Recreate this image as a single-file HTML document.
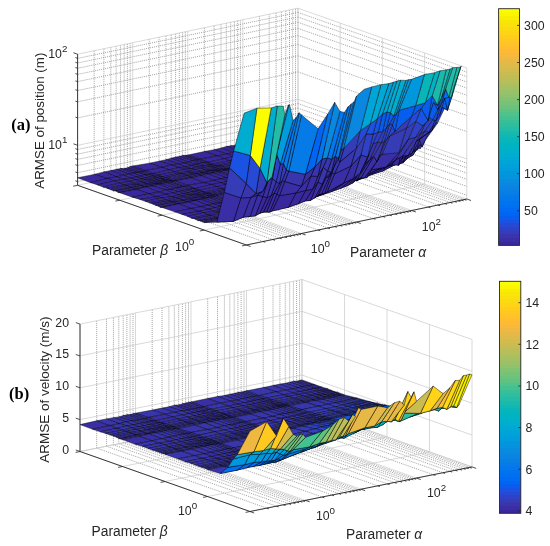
<!DOCTYPE html>
<html><head><meta charset="utf-8"><title>ARMSE surfaces</title>
<style>html,body{margin:0;padding:0;background:#fff;width:550px;height:546px;overflow:hidden}svg{display:block}</style>
</head><body>
<svg width="550" height="546" viewBox="0 0 550 546" font-family="'Liberation Sans', Arial, Helvetica, sans-serif"><rect width="550" height="546" fill="#fff"/><line x1="94.2" y1="181.8" x2="94.2" y2="50.7" stroke="#999999" stroke-width="0.9" stroke-dasharray="1 1"/><line x1="94.2" y1="181.8" x2="263" y2="241.5" stroke="#999999" stroke-width="0.9" stroke-dasharray="1 1"/><line x1="103.9" y1="179.8" x2="103.9" y2="48.7" stroke="#999999" stroke-width="0.9" stroke-dasharray="1 1"/><line x1="103.9" y1="179.8" x2="272.7" y2="239.5" stroke="#999999" stroke-width="0.9" stroke-dasharray="1 1"/><line x1="110.8" y1="178.4" x2="110.8" y2="47.3" stroke="#999999" stroke-width="0.9" stroke-dasharray="1 1"/><line x1="110.8" y1="178.4" x2="279.6" y2="238.1" stroke="#999999" stroke-width="0.9" stroke-dasharray="1 1"/><line x1="116.1" y1="177.3" x2="116.1" y2="46.2" stroke="#999999" stroke-width="0.9" stroke-dasharray="1 1"/><line x1="116.1" y1="177.3" x2="284.9" y2="237" stroke="#999999" stroke-width="0.9" stroke-dasharray="1 1"/><line x1="120.5" y1="176.4" x2="120.5" y2="45.3" stroke="#999999" stroke-width="0.9" stroke-dasharray="1 1"/><line x1="120.5" y1="176.4" x2="289.3" y2="236.1" stroke="#999999" stroke-width="0.9" stroke-dasharray="1 1"/><line x1="124.2" y1="175.6" x2="124.2" y2="44.5" stroke="#999999" stroke-width="0.9" stroke-dasharray="1 1"/><line x1="124.2" y1="175.6" x2="293" y2="235.3" stroke="#999999" stroke-width="0.9" stroke-dasharray="1 1"/><line x1="127.4" y1="174.9" x2="127.4" y2="43.8" stroke="#999999" stroke-width="0.9" stroke-dasharray="1 1"/><line x1="127.4" y1="174.9" x2="296.2" y2="234.6" stroke="#999999" stroke-width="0.9" stroke-dasharray="1 1"/><line x1="130.2" y1="174.3" x2="130.2" y2="43.2" stroke="#999999" stroke-width="0.9" stroke-dasharray="1 1"/><line x1="130.2" y1="174.3" x2="299" y2="234" stroke="#999999" stroke-width="0.9" stroke-dasharray="1 1"/><line x1="149.3" y1="170.3" x2="149.3" y2="39.2" stroke="#999999" stroke-width="0.9" stroke-dasharray="1 1"/><line x1="149.3" y1="170.3" x2="318.1" y2="230" stroke="#999999" stroke-width="0.9" stroke-dasharray="1 1"/><line x1="159" y1="168.3" x2="159" y2="37.2" stroke="#999999" stroke-width="0.9" stroke-dasharray="1 1"/><line x1="159" y1="168.3" x2="327.8" y2="228" stroke="#999999" stroke-width="0.9" stroke-dasharray="1 1"/><line x1="165.9" y1="166.9" x2="165.9" y2="35.8" stroke="#999999" stroke-width="0.9" stroke-dasharray="1 1"/><line x1="165.9" y1="166.9" x2="334.7" y2="226.6" stroke="#999999" stroke-width="0.9" stroke-dasharray="1 1"/><line x1="171.2" y1="165.8" x2="171.2" y2="34.7" stroke="#999999" stroke-width="0.9" stroke-dasharray="1 1"/><line x1="171.2" y1="165.8" x2="340" y2="225.5" stroke="#999999" stroke-width="0.9" stroke-dasharray="1 1"/><line x1="175.6" y1="164.9" x2="175.6" y2="33.8" stroke="#999999" stroke-width="0.9" stroke-dasharray="1 1"/><line x1="175.6" y1="164.9" x2="344.4" y2="224.6" stroke="#999999" stroke-width="0.9" stroke-dasharray="1 1"/><line x1="179.3" y1="164.1" x2="179.3" y2="33" stroke="#999999" stroke-width="0.9" stroke-dasharray="1 1"/><line x1="179.3" y1="164.1" x2="348.1" y2="223.8" stroke="#999999" stroke-width="0.9" stroke-dasharray="1 1"/><line x1="182.5" y1="163.4" x2="182.5" y2="32.3" stroke="#999999" stroke-width="0.9" stroke-dasharray="1 1"/><line x1="182.5" y1="163.4" x2="351.3" y2="223.1" stroke="#999999" stroke-width="0.9" stroke-dasharray="1 1"/><line x1="185.3" y1="162.8" x2="185.3" y2="31.7" stroke="#999999" stroke-width="0.9" stroke-dasharray="1 1"/><line x1="185.3" y1="162.8" x2="354.1" y2="222.5" stroke="#999999" stroke-width="0.9" stroke-dasharray="1 1"/><line x1="204.4" y1="158.8" x2="204.4" y2="27.7" stroke="#999999" stroke-width="0.9" stroke-dasharray="1 1"/><line x1="204.4" y1="158.8" x2="373.2" y2="218.5" stroke="#999999" stroke-width="0.9" stroke-dasharray="1 1"/><line x1="214.1" y1="156.8" x2="214.1" y2="25.7" stroke="#999999" stroke-width="0.9" stroke-dasharray="1 1"/><line x1="214.1" y1="156.8" x2="382.9" y2="216.5" stroke="#999999" stroke-width="0.9" stroke-dasharray="1 1"/><line x1="221" y1="155.4" x2="221" y2="24.3" stroke="#999999" stroke-width="0.9" stroke-dasharray="1 1"/><line x1="221" y1="155.4" x2="389.8" y2="215.1" stroke="#999999" stroke-width="0.9" stroke-dasharray="1 1"/><line x1="226.3" y1="154.3" x2="226.3" y2="23.2" stroke="#999999" stroke-width="0.9" stroke-dasharray="1 1"/><line x1="226.3" y1="154.3" x2="395.1" y2="214" stroke="#999999" stroke-width="0.9" stroke-dasharray="1 1"/><line x1="230.7" y1="153.4" x2="230.7" y2="22.3" stroke="#999999" stroke-width="0.9" stroke-dasharray="1 1"/><line x1="230.7" y1="153.4" x2="399.5" y2="213.1" stroke="#999999" stroke-width="0.9" stroke-dasharray="1 1"/><line x1="234.4" y1="152.6" x2="234.4" y2="21.5" stroke="#999999" stroke-width="0.9" stroke-dasharray="1 1"/><line x1="234.4" y1="152.6" x2="403.2" y2="212.3" stroke="#999999" stroke-width="0.9" stroke-dasharray="1 1"/><line x1="237.6" y1="151.9" x2="237.6" y2="20.8" stroke="#999999" stroke-width="0.9" stroke-dasharray="1 1"/><line x1="237.6" y1="151.9" x2="406.4" y2="211.6" stroke="#999999" stroke-width="0.9" stroke-dasharray="1 1"/><line x1="240.4" y1="151.3" x2="240.4" y2="20.2" stroke="#999999" stroke-width="0.9" stroke-dasharray="1 1"/><line x1="240.4" y1="151.3" x2="409.2" y2="211" stroke="#999999" stroke-width="0.9" stroke-dasharray="1 1"/><line x1="259.5" y1="147.3" x2="259.5" y2="16.2" stroke="#999999" stroke-width="0.9" stroke-dasharray="1 1"/><line x1="259.5" y1="147.3" x2="428.3" y2="207" stroke="#999999" stroke-width="0.9" stroke-dasharray="1 1"/><line x1="269.2" y1="145.3" x2="269.2" y2="14.2" stroke="#999999" stroke-width="0.9" stroke-dasharray="1 1"/><line x1="269.2" y1="145.3" x2="438" y2="205" stroke="#999999" stroke-width="0.9" stroke-dasharray="1 1"/><line x1="276.1" y1="143.9" x2="276.1" y2="12.8" stroke="#999999" stroke-width="0.9" stroke-dasharray="1 1"/><line x1="276.1" y1="143.9" x2="444.9" y2="203.6" stroke="#999999" stroke-width="0.9" stroke-dasharray="1 1"/><line x1="281.4" y1="142.8" x2="281.4" y2="11.7" stroke="#999999" stroke-width="0.9" stroke-dasharray="1 1"/><line x1="281.4" y1="142.8" x2="450.2" y2="202.5" stroke="#999999" stroke-width="0.9" stroke-dasharray="1 1"/><line x1="285.8" y1="141.9" x2="285.8" y2="10.8" stroke="#999999" stroke-width="0.9" stroke-dasharray="1 1"/><line x1="285.8" y1="141.9" x2="454.6" y2="201.6" stroke="#999999" stroke-width="0.9" stroke-dasharray="1 1"/><line x1="289.5" y1="141.1" x2="289.5" y2="10" stroke="#999999" stroke-width="0.9" stroke-dasharray="1 1"/><line x1="289.5" y1="141.1" x2="458.3" y2="200.8" stroke="#999999" stroke-width="0.9" stroke-dasharray="1 1"/><line x1="292.7" y1="140.4" x2="292.7" y2="9.3" stroke="#999999" stroke-width="0.9" stroke-dasharray="1 1"/><line x1="292.7" y1="140.4" x2="461.5" y2="200.1" stroke="#999999" stroke-width="0.9" stroke-dasharray="1 1"/><line x1="295.5" y1="139.8" x2="295.5" y2="8.7" stroke="#999999" stroke-width="0.9" stroke-dasharray="1 1"/><line x1="295.5" y1="139.8" x2="464.3" y2="199.5" stroke="#999999" stroke-width="0.9" stroke-dasharray="1 1"/><line x1="77.6" y1="181.6" x2="298" y2="135.6" stroke="#999999" stroke-width="0.9" stroke-dasharray="1 1"/><line x1="298" y1="135.6" x2="466.8" y2="195.3" stroke="#999999" stroke-width="0.9" stroke-dasharray="1 1"/><line x1="77.6" y1="172.7" x2="298" y2="126.7" stroke="#999999" stroke-width="0.9" stroke-dasharray="1 1"/><line x1="298" y1="126.7" x2="466.8" y2="186.4" stroke="#999999" stroke-width="0.9" stroke-dasharray="1 1"/><line x1="77.6" y1="165.5" x2="298" y2="119.5" stroke="#999999" stroke-width="0.9" stroke-dasharray="1 1"/><line x1="298" y1="119.5" x2="466.8" y2="179.2" stroke="#999999" stroke-width="0.9" stroke-dasharray="1 1"/><line x1="77.6" y1="159.4" x2="298" y2="113.4" stroke="#999999" stroke-width="0.9" stroke-dasharray="1 1"/><line x1="298" y1="113.4" x2="466.8" y2="173.1" stroke="#999999" stroke-width="0.9" stroke-dasharray="1 1"/><line x1="77.6" y1="154.1" x2="298" y2="108.1" stroke="#999999" stroke-width="0.9" stroke-dasharray="1 1"/><line x1="298" y1="108.1" x2="466.8" y2="167.8" stroke="#999999" stroke-width="0.9" stroke-dasharray="1 1"/><line x1="77.6" y1="149.5" x2="298" y2="103.5" stroke="#999999" stroke-width="0.9" stroke-dasharray="1 1"/><line x1="298" y1="103.5" x2="466.8" y2="163.2" stroke="#999999" stroke-width="0.9" stroke-dasharray="1 1"/><line x1="77.6" y1="117.9" x2="298" y2="71.9" stroke="#999999" stroke-width="0.9" stroke-dasharray="1 1"/><line x1="298" y1="71.9" x2="466.8" y2="131.6" stroke="#999999" stroke-width="0.9" stroke-dasharray="1 1"/><line x1="77.6" y1="101.8" x2="298" y2="55.8" stroke="#999999" stroke-width="0.9" stroke-dasharray="1 1"/><line x1="298" y1="55.8" x2="466.8" y2="115.5" stroke="#999999" stroke-width="0.9" stroke-dasharray="1 1"/><line x1="77.6" y1="90.5" x2="298" y2="44.5" stroke="#999999" stroke-width="0.9" stroke-dasharray="1 1"/><line x1="298" y1="44.5" x2="466.8" y2="104.2" stroke="#999999" stroke-width="0.9" stroke-dasharray="1 1"/><line x1="77.6" y1="81.6" x2="298" y2="35.6" stroke="#999999" stroke-width="0.9" stroke-dasharray="1 1"/><line x1="298" y1="35.6" x2="466.8" y2="95.3" stroke="#999999" stroke-width="0.9" stroke-dasharray="1 1"/><line x1="77.6" y1="74.4" x2="298" y2="28.4" stroke="#999999" stroke-width="0.9" stroke-dasharray="1 1"/><line x1="298" y1="28.4" x2="466.8" y2="88.1" stroke="#999999" stroke-width="0.9" stroke-dasharray="1 1"/><line x1="77.6" y1="68.3" x2="298" y2="22.3" stroke="#999999" stroke-width="0.9" stroke-dasharray="1 1"/><line x1="298" y1="22.3" x2="466.8" y2="82" stroke="#999999" stroke-width="0.9" stroke-dasharray="1 1"/><line x1="77.6" y1="63" x2="298" y2="17" stroke="#999999" stroke-width="0.9" stroke-dasharray="1 1"/><line x1="298" y1="17" x2="466.8" y2="76.7" stroke="#999999" stroke-width="0.9" stroke-dasharray="1 1"/><line x1="77.6" y1="58.4" x2="298" y2="12.4" stroke="#999999" stroke-width="0.9" stroke-dasharray="1 1"/><line x1="298" y1="12.4" x2="466.8" y2="72.1" stroke="#999999" stroke-width="0.9" stroke-dasharray="1 1"/><line x1="77.6" y1="185.3" x2="77.6" y2="54.2" stroke="#c8c8c8" stroke-width="0.7"/><line x1="77.6" y1="185.3" x2="246.4" y2="245" stroke="#c8c8c8" stroke-width="0.7"/><line x1="132.7" y1="173.8" x2="132.7" y2="42.7" stroke="#c8c8c8" stroke-width="0.7"/><line x1="132.7" y1="173.8" x2="301.5" y2="233.5" stroke="#c8c8c8" stroke-width="0.7"/><line x1="187.8" y1="162.3" x2="187.8" y2="31.2" stroke="#c8c8c8" stroke-width="0.7"/><line x1="187.8" y1="162.3" x2="356.6" y2="222" stroke="#c8c8c8" stroke-width="0.7"/><line x1="242.9" y1="150.8" x2="242.9" y2="19.7" stroke="#c8c8c8" stroke-width="0.7"/><line x1="242.9" y1="150.8" x2="411.7" y2="210.5" stroke="#c8c8c8" stroke-width="0.7"/><line x1="298" y1="139.3" x2="298" y2="8.2" stroke="#c8c8c8" stroke-width="0.7"/><line x1="298" y1="139.3" x2="466.8" y2="199" stroke="#c8c8c8" stroke-width="0.7"/><line x1="298" y1="139.3" x2="298" y2="8.2" stroke="#c8c8c8" stroke-width="0.7"/><line x1="77.6" y1="185.3" x2="298" y2="139.3" stroke="#c8c8c8" stroke-width="0.7"/><line x1="340.2" y1="154.2" x2="340.2" y2="23.1" stroke="#c8c8c8" stroke-width="0.7"/><line x1="119.8" y1="200.2" x2="340.2" y2="154.2" stroke="#c8c8c8" stroke-width="0.7"/><line x1="382.4" y1="169.2" x2="382.4" y2="38.1" stroke="#c8c8c8" stroke-width="0.7"/><line x1="162" y1="215.2" x2="382.4" y2="169.2" stroke="#c8c8c8" stroke-width="0.7"/><line x1="424.6" y1="184.1" x2="424.6" y2="53" stroke="#c8c8c8" stroke-width="0.7"/><line x1="204.2" y1="230.1" x2="424.6" y2="184.1" stroke="#c8c8c8" stroke-width="0.7"/><line x1="466.8" y1="199" x2="466.8" y2="67.9" stroke="#c8c8c8" stroke-width="0.7"/><line x1="246.4" y1="245" x2="466.8" y2="199" stroke="#c8c8c8" stroke-width="0.7"/><line x1="77.6" y1="145.3" x2="298" y2="99.3" stroke="#c8c8c8" stroke-width="0.7"/><line x1="298" y1="99.3" x2="466.8" y2="159" stroke="#c8c8c8" stroke-width="0.7"/><line x1="77.6" y1="54.2" x2="298" y2="8.2" stroke="#c8c8c8" stroke-width="0.7"/><line x1="298" y1="8.2" x2="466.8" y2="67.9" stroke="#c8c8c8" stroke-width="0.7"/><g stroke="#000" stroke-width="0.45" stroke-linejoin="round"><path d="M295.5 132.5L298 131.9L310.7 136.1L308.2 137.1Z" fill="#39289d"/><path d="M292.7 132.4L295.5 132.5L308.2 137.1L305.4 137.2Z" fill="#39289d"/><path d="M289.5 133.1L292.7 132.4L305.4 137.2L302.2 138Z" fill="#39289d"/><path d="M285.8 134.1L289.5 133.1L302.2 138L298.5 138.4Z" fill="#39289d"/><path d="M281.4 135.1L285.8 134.1L298.5 138.4L294.1 140.1Z" fill="#39289d"/><path d="M308.2 137.1L310.7 136.1L318.1 139L315.6 139.6Z" fill="#39289d"/><path d="M276.1 136.2L281.4 135.1L294.1 140.1L288.8 140.8Z" fill="#39289d"/><path d="M305.4 137.2L308.2 137.1L315.6 139.6L312.8 140Z" fill="#39289d"/><path d="M302.2 138L305.4 137.2L312.8 140L309.6 140.8Z" fill="#39289d"/><path d="M269.2 137.5L276.1 136.2L288.8 140.8L281.9 142.2Z" fill="#39289d"/><path d="M298.5 138.4L302.2 138L309.6 140.8L305.9 141.1Z" fill="#39289d"/><path d="M315.6 139.6L318.1 139L323.4 140.8L320.9 141.4Z" fill="#39289d"/><path d="M294.1 140.1L298.5 138.4L305.9 141.1L301.5 142Z" fill="#39289d"/><path d="M312.8 140L315.6 139.6L320.9 141.4L318.1 141.8Z" fill="#39289d"/><path d="M259.5 139.6L269.2 137.5L281.9 142.2L272.2 143.9Z" fill="#39289d"/><path d="M309.6 140.8L312.8 140L318.1 141.8L314.9 142.2Z" fill="#39289d"/><path d="M288.8 140.8L294.1 140.1L301.5 142L296.2 143.7Z" fill="#39289d"/><path d="M320.9 141.4L323.4 140.8L327.5 142.2L325 142.7Z" fill="#39289d"/><path d="M305.9 141.1L309.6 140.8L314.9 142.2L311.2 143.8Z" fill="#39289d"/><path d="M318.1 141.8L320.9 141.4L325 142.7L322.2 143.1Z" fill="#39289d"/><path d="M281.9 142.2L288.8 140.8L296.2 143.7L289.3 145Z" fill="#39289d"/><path d="M301.5 142L305.9 141.1L311.2 143.8L306.8 144Z" fill="#39289d"/><path d="M314.9 142.2L318.1 141.8L322.2 143.1L319 144.1Z" fill="#39289d"/><path d="M325 142.7L327.5 142.2L330.8 143.8L328.3 144.3Z" fill="#39289d"/><path d="M322.2 143.1L325 142.7L328.3 144.3L325.5 144.5Z" fill="#39289d"/><path d="M311.2 143.8L314.9 142.2L319 144.1L315.3 144.7Z" fill="#39289d"/><path d="M242.9 143L259.5 139.6L272.2 143.9L255.6 147.7Z" fill="#39289d"/><path d="M296.2 143.7L301.5 142L306.8 144L301.5 145.1Z" fill="#39289d"/><path d="M328.3 144.3L330.8 143.8L333.7 144.1L331.1 145Z" fill="#39289d"/><path d="M319 144.1L322.2 143.1L325.5 144.5L322.3 145.5Z" fill="#39289d"/><path d="M306.8 144L311.2 143.8L315.3 144.7L310.9 145.8Z" fill="#39289d"/><path d="M272.2 143.9L281.9 142.2L289.3 145L279.6 147.1Z" fill="#39289d"/><path d="M325.5 144.5L328.3 144.3L331.1 145L328.3 145.5Z" fill="#39289d"/><path d="M315.3 144.7L319 144.1L322.3 145.5L318.6 146.3Z" fill="#39289d"/><path d="M331.1 145L333.7 144.1L336.1 144.9L333.6 146.2Z" fill="#39289d"/><path d="M289.3 145L296.2 143.7L301.5 145.1L294.6 146.6Z" fill="#39289d"/><path d="M322.3 145.5L325.5 144.5L328.3 145.5L325.1 146Z" fill="#39289d"/><path d="M301.5 145.1L306.8 144L310.9 145.8L305.6 146.8Z" fill="#39289d"/><path d="M328.3 145.5L331.1 145L333.6 146.2L330.8 146.7Z" fill="#39289d"/><path d="M240.4 144.3L242.9 143L255.6 147.7L253.1 148.4Z" fill="#39289d"/><path d="M310.9 145.8L315.3 144.7L318.6 146.3L314.3 147.1Z" fill="#39289d"/><path d="M333.6 146.2L336.1 144.9L338.3 145.7L335.7 146.1Z" fill="#39289d"/><path d="M318.6 146.3L322.3 145.5L325.1 146L321.4 146.6Z" fill="#39289d"/><path d="M237.6 144.4L240.4 144.3L253.1 148.4L250.3 148.6Z" fill="#39289d"/><path d="M325.1 146L328.3 145.5L330.8 146.7L327.6 146.6Z" fill="#39289d"/><path d="M330.8 146.7L333.6 146.2L335.7 146.1L332.9 147Z" fill="#39289d"/><path d="M335.7 146.1L338.3 145.7L340.2 146.5L337.7 147Z" fill="#39289d"/><path d="M305.6 146.8L310.9 145.8L314.3 147.1L308.9 148.2Z" fill="#39289d"/><path d="M279.6 147.1L289.3 145L294.6 146.6L284.9 149.1Z" fill="#39289d"/><path d="M294.6 146.6L301.5 145.1L305.6 146.8L298.7 147.9Z" fill="#39289d"/><path d="M314.3 147.1L318.6 146.3L321.4 146.6L317.1 147.8Z" fill="#39289d"/><path d="M234.4 145.4L237.6 144.4L250.3 148.6L247.1 149.5Z" fill="#39289d"/><path d="M321.4 146.6L325.1 146L327.6 146.6L323.9 148.1Z" fill="#39289d"/><path d="M327.6 146.6L330.8 146.7L332.9 147L329.7 147.9Z" fill="#39289d"/><path d="M332.9 147L335.7 146.1L337.7 147L334.9 148Z" fill="#39289d"/><path d="M255.6 147.7L272.2 143.9L279.6 147.1L263 150.3Z" fill="#39289d"/><path d="M230.7 145.8L234.4 145.4L247.1 149.5L243.4 150.2Z" fill="#39289d"/><path d="M329.7 147.9L332.9 147L334.9 148L331.7 148.7Z" fill="#39289d"/><path d="M323.9 148.1L327.6 146.6L329.7 147.9L326 148.5Z" fill="#39289d"/><path d="M308.9 148.2L314.3 147.1L317.1 147.8L311.7 149Z" fill="#39289d"/><path d="M317.1 147.8L321.4 146.6L323.9 148.1L319.5 148.3Z" fill="#39289d"/><path d="M298.7 147.9L305.6 146.8L308.9 148.2L302 149.7Z" fill="#39289d"/><path d="M226.3 146.5L230.7 145.8L243.4 150.2L239 151.2Z" fill="#39289d"/><path d="M326 148.5L329.7 147.9L331.7 148.7L328 149.5Z" fill="#39289d"/><path d="M284.9 149.1L294.6 146.6L298.7 147.9L289 150.1Z" fill="#39289d"/><path d="M319.5 148.3L323.9 148.1L326 148.5L321.7 149.2Z" fill="#39289d"/><path d="M311.7 149L317.1 147.8L319.5 148.3L314.2 149.5Z" fill="#39289d"/><path d="M302 149.7L308.9 148.2L311.7 149L304.9 150.5Z" fill="#39289d"/><path d="M253.1 148.4L255.6 147.7L263 150.3L260.5 151.1Z" fill="#39289d"/><path d="M337.7 147L340.2 146.5L352.9 150.9L350.4 151Z" fill="#39289d"/><path d="M321.7 149.2L326 148.5L328 149.5L323.6 149.8Z" fill="#39289d"/><path d="M221 148.1L226.3 146.5L239 151.2L233.7 152.1Z" fill="#39289d"/><path d="M263 150.3L279.6 147.1L284.9 149.1L268.3 152.6Z" fill="#39289d"/><path d="M314.2 149.5L319.5 148.3L321.7 149.2L316.3 150.7Z" fill="#39289d"/><path d="M289 150.1L298.7 147.9L302 149.7L292.3 151.7Z" fill="#39289d"/><path d="M250.3 148.6L253.1 148.4L260.5 151.1L257.7 151.5Z" fill="#39289d"/><path d="M334.9 148L337.7 147L350.4 151L347.6 151.7Z" fill="#39289d"/><path d="M304.9 150.5L311.7 149L314.2 149.5L307.3 151.5Z" fill="#39289d"/><path d="M316.3 150.7L321.7 149.2L323.6 149.8L318.3 151.2Z" fill="#39289d"/><path d="M331.7 148.7L334.9 148L347.6 151.7L344.4 152.7Z" fill="#39289d"/><path d="M247.1 149.5L250.3 148.6L257.7 151.5L254.5 152.4Z" fill="#39289d"/><path d="M214.1 149.7L221 148.1L233.7 152.1L226.8 154Z" fill="#39289d"/><path d="M292.3 151.7L302 149.7L304.9 150.5L295.1 152.4Z" fill="#39289d"/><path d="M307.3 151.5L314.2 149.5L316.3 150.7L309.5 151.9Z" fill="#39289d"/><path d="M268.3 152.6L284.9 149.1L289 150.1L272.4 154.1Z" fill="#39289d"/><path d="M243.4 150.2L247.1 149.5L254.5 152.4L250.8 153.1Z" fill="#39289d"/><path d="M328 149.5L331.7 148.7L344.4 152.7L340.7 152.8Z" fill="#39289d"/><path d="M260.5 151.1L263 150.3L268.3 152.6L265.8 152.9Z" fill="#39289d"/><path d="M309.5 151.9L316.3 150.7L318.3 151.2L311.4 153Z" fill="#39289d"/><path d="M295.1 152.4L304.9 150.5L307.3 151.5L297.6 153.3Z" fill="#39289d"/><path d="M239 151.2L243.4 150.2L250.8 153.1L246.4 153.8Z" fill="#39289d"/><path d="M323.6 149.8L328 149.5L340.7 152.8L336.3 154.4Z" fill="#39289d"/><path d="M257.7 151.5L260.5 151.1L265.8 152.9L263 153.1Z" fill="#39289d"/><path d="M204.4 151.5L214.1 149.7L226.8 154L217.1 155.8Z" fill="#39289d"/><path d="M272.4 154.1L289 150.1L292.3 151.7L275.7 155.2Z" fill="#39289d"/><path d="M297.6 153.3L307.3 151.5L309.5 151.9L299.8 153.8Z" fill="#39289d"/><path d="M254.5 152.4L257.7 151.5L263 153.1L259.8 154.4Z" fill="#39289d"/><path d="M318.3 151.2L323.6 149.8L336.3 154.4L331 155.6Z" fill="#39289d"/><path d="M233.7 152.1L239 151.2L246.4 153.8L241.1 154.6Z" fill="#39289d"/><path d="M350.4 151L352.9 150.9L360.3 152.4L357.8 153Z" fill="#39289d"/><path d="M265.8 152.9L268.3 152.6L272.4 154.1L269.9 153.8Z" fill="#39289d"/><path d="M250.8 153.1L254.5 152.4L259.8 154.4L256.1 154.8Z" fill="#39289d"/><path d="M299.8 153.8L309.5 151.9L311.4 153L301.7 154.7Z" fill="#39289d"/><path d="M275.7 155.2L292.3 151.7L295.1 152.4L278.6 155.4Z" fill="#39289d"/><path d="M347.6 151.7L350.4 151L357.8 153L355 154Z" fill="#39289d"/><path d="M263 153.1L265.8 152.9L269.9 153.8L267.1 154.6Z" fill="#39289d"/><path d="M344.4 152.7L347.6 151.7L355 154L351.8 154.5Z" fill="#39289d"/><path d="M311.4 153L318.3 151.2L331 155.6L324.1 157.2Z" fill="#39289d"/><path d="M246.4 153.8L250.8 153.1L256.1 154.8L251.7 156Z" fill="#39289d"/><path d="M226.8 154L233.7 152.1L241.1 154.6L234.2 156.2Z" fill="#39289d"/><path d="M259.8 154.4L263 153.1L267.1 154.6L263.9 155.7Z" fill="#39289d"/><path d="M269.9 153.8L272.4 154.1L275.7 155.2L273.2 155.6Z" fill="#39289d"/><path d="M278.6 155.4L295.1 152.4L297.6 153.3L281 157.1Z" fill="#39289d"/><path d="M340.7 152.8L344.4 152.7L351.8 154.5L348.1 155.3Z" fill="#39289d"/><path d="M256.1 154.8L259.8 154.4L263.9 155.7L260.2 156.3Z" fill="#39289d"/><path d="M267.1 154.6L269.9 153.8L273.2 155.6L270.4 155.6Z" fill="#39289d"/><path d="M187.8 155.1L204.4 151.5L217.1 155.8L200.5 159.1Z" fill="#39289d"/><path d="M241.1 154.6L246.4 153.8L251.7 156L246.4 157Z" fill="#39289d"/><path d="M281 157.1L297.6 153.3L299.8 153.8L283.2 157.2Z" fill="#39289d"/><path d="M357.8 153L360.3 152.4L365.6 154.6L363.1 154.7Z" fill="#39289d"/><path d="M273.2 155.6L275.7 155.2L278.6 155.4L276 156.5Z" fill="#39289d"/><path d="M336.3 154.4L340.7 152.8L348.1 155.3L343.7 157.2Z" fill="#39289d"/><path d="M263.9 155.7L267.1 154.6L270.4 155.6L267.2 156.8Z" fill="#39289d"/><path d="M251.7 156L256.1 154.8L260.2 156.3L255.8 157Z" fill="#39289d"/><path d="M301.7 154.7L311.4 153L324.1 157.2L314.4 158.7Z" fill="#39289d"/><path d="M355 154L357.8 153L363.1 154.7L360.3 155.8Z" fill="#39289d"/><path d="M217.1 155.8L226.8 154L234.2 156.2L224.5 158.6Z" fill="#39289d"/><path d="M270.4 155.6L273.2 155.6L276 156.5L273.2 157.1Z" fill="#39289d"/><path d="M283.2 157.2L299.8 153.8L301.7 154.7L285.1 157.8Z" fill="#39289d"/><path d="M260.2 156.3L263.9 155.7L267.2 156.8L263.5 157.7Z" fill="#39289d"/><path d="M234.2 156.2L241.1 154.6L246.4 157L239.5 158.6Z" fill="#39289d"/><path d="M276 156.5L278.6 155.4L281 157.1L278.5 157.1Z" fill="#39289d"/><path d="M331 155.6L336.3 154.4L343.7 157.2L338.4 158.2Z" fill="#39289d"/><path d="M351.8 154.5L355 154L360.3 155.8L357.1 155.7Z" fill="#39289d"/><path d="M267.2 156.8L270.4 155.6L273.2 157.1L270 157.2Z" fill="#39289d"/><path d="M246.4 157L251.7 156L255.8 157L250.5 158.6Z" fill="#39289d"/><path d="M273.2 157.1L276 156.5L278.5 157.1L275.7 158.4Z" fill="#39289d"/><path d="M185.3 155.5L187.8 155.1L200.5 159.1L198 159.6Z" fill="#39289d"/><path d="M363.1 154.7L365.6 154.6L369.7 155.3L367.2 156Z" fill="#39289d"/><path d="M255.8 157L260.2 156.3L263.5 157.7L259.2 158.5Z" fill="#39289d"/><path d="M348.1 155.3L351.8 154.5L357.1 155.7L353.4 157.1Z" fill="#39289d"/><path d="M278.5 157.1L281 157.1L283.2 157.2L280.6 157.8Z" fill="#39289d"/><path d="M263.5 157.7L267.2 156.8L270 157.2L266.3 158.3Z" fill="#39289d"/><path d="M270 157.2L273.2 157.1L275.7 158.4L272.5 158.8Z" fill="#39289d"/><path d="M360.3 155.8L363.1 154.7L367.2 156L364.4 156.8Z" fill="#39289d"/><path d="M182.5 155.4L185.3 155.5L198 159.6L195.2 160.3Z" fill="#39289d"/><path d="M324.1 157.2L331 155.6L338.4 158.2L331.5 159.6Z" fill="#39289d"/><path d="M275.7 158.4L278.5 157.1L280.6 157.8L277.8 158.7Z" fill="#39289d"/><path d="M343.7 157.2L348.1 155.3L353.4 157.1L349 158.3Z" fill="#39289d"/><path d="M239.5 158.6L246.4 157L250.5 158.6L243.6 160Z" fill="#39289d"/><path d="M280.6 157.8L283.2 157.2L285.1 157.8L282.6 158.8Z" fill="#39289d"/><path d="M250.5 158.6L255.8 157L259.2 158.5L253.8 159.7Z" fill="#39289d"/><path d="M224.5 158.6L234.2 156.2L239.5 158.6L229.8 160.6Z" fill="#39289d"/><path d="M259.2 158.5L263.5 157.7L266.3 158.3L262 159.1Z" fill="#39289d"/><path d="M357.1 155.7L360.3 155.8L364.4 156.8L361.2 157.7Z" fill="#39289d"/><path d="M179.3 156.5L182.5 155.4L195.2 160.3L192 160.6Z" fill="#39289d"/><path d="M272.5 158.8L275.7 158.4L277.8 158.7L274.6 159.3Z" fill="#39289d"/><path d="M266.3 158.3L270 157.2L272.5 158.8L268.8 159.2Z" fill="#39289d"/><path d="M367.2 156L369.7 155.3L373 156.9L370.5 156.6Z" fill="#39289d"/><path d="M277.8 158.7L280.6 157.8L282.6 158.8L279.8 159.1Z" fill="#39289d"/><path d="M200.5 159.1L217.1 155.8L224.5 158.6L207.9 162.3Z" fill="#39289d"/><path d="M285.1 157.8L301.7 154.7L314.4 158.7L297.8 162.7Z" fill="#39289d"/><path d="M338.4 158.2L343.7 157.2L349 158.3L343.7 159.9Z" fill="#39289d"/><path d="M353.4 157.1L357.1 155.7L361.2 157.7L357.5 158.2Z" fill="#39289d"/><path d="M175.6 157.1L179.3 156.5L192 160.6L188.3 162.2Z" fill="#39289d"/><path d="M364.4 156.8L367.2 156L370.5 156.6L367.7 158.1Z" fill="#39289d"/><path d="M268.8 159.2L272.5 158.8L274.6 159.3L270.9 160Z" fill="#39289d"/><path d="M274.6 159.3L277.8 158.7L279.8 159.1L276.6 160.3Z" fill="#39289d"/><path d="M262 159.1L266.3 158.3L268.8 159.2L264.4 160.3Z" fill="#39289d"/><path d="M253.8 159.7L259.2 158.5L262 159.1L256.6 160.8Z" fill="#39289d"/><path d="M243.6 160L250.5 158.6L253.8 159.7L246.9 160.7Z" fill="#39289d"/><path d="M314.4 158.7L324.1 157.2L331.5 159.6L321.8 161.9Z" fill="#39289d"/><path d="M361.2 157.7L364.4 156.8L367.7 158.1L364.5 158.6Z" fill="#39289d"/><path d="M370.5 156.6L373 156.9L375.9 158L373.3 158Z" fill="#39289d"/><path d="M349 158.3L353.4 157.1L357.5 158.2L353.1 159.6Z" fill="#39289d"/><path d="M229.8 160.6L239.5 158.6L243.6 160L233.9 161.9Z" fill="#39289d"/><path d="M171.2 158.2L175.6 157.1L188.3 162.2L183.9 163Z" fill="#39289d"/><path d="M270.9 160L274.6 159.3L276.6 160.3L272.9 160.8Z" fill="#39289d"/><path d="M264.4 160.3L268.8 159.2L270.9 160L266.6 161.1Z" fill="#39289d"/><path d="M331.5 159.6L338.4 158.2L343.7 159.9L336.8 161.5Z" fill="#39289d"/><path d="M256.6 160.8L262 159.1L264.4 160.3L259.1 161.4Z" fill="#39289d"/><path d="M367.7 158.1L370.5 156.6L373.3 158L370.5 158.4Z" fill="#39289d"/><path d="M357.5 158.2L361.2 157.7L364.5 158.6L360.8 160.3Z" fill="#39289d"/><path d="M246.9 160.7L253.8 159.7L256.6 160.8L249.8 161.8Z" fill="#39289d"/><path d="M373.3 158L375.9 158L378.3 158.2L375.8 158.9Z" fill="#39289d"/><path d="M343.7 159.9L349 158.3L353.1 159.6L347.8 160.8Z" fill="#39289d"/><path d="M282.6 158.8L285.1 157.8L297.8 162.7L295.3 162.7Z" fill="#39289d"/><path d="M198 159.6L200.5 159.1L207.9 162.3L205.4 162.3Z" fill="#39289d"/><path d="M266.6 161.1L270.9 160L272.9 160.8L268.5 161.9Z" fill="#39289d"/><path d="M364.5 158.6L367.7 158.1L370.5 158.4L367.3 159.8Z" fill="#39289d"/><path d="M165.9 159.7L171.2 158.2L183.9 163L178.6 164.1Z" fill="#39289d"/><path d="M207.9 162.3L224.5 158.6L229.8 160.6L213.2 164.1Z" fill="#39289d"/><path d="M259.1 161.4L264.4 160.3L266.6 161.1L261.2 162.4Z" fill="#39289d"/><path d="M353.1 159.6L357.5 158.2L360.8 160.3L356.5 160.4Z" fill="#39289d"/><path d="M233.9 161.9L243.6 160L246.9 160.7L237.2 162.8Z" fill="#39289d"/><path d="M370.5 158.4L373.3 158L375.8 158.9L373 159.1Z" fill="#39289d"/><path d="M279.8 159.1L282.6 158.8L295.3 162.7L292.5 163.9Z" fill="#39289d"/><path d="M195.2 160.3L198 159.6L205.4 162.3L202.6 162.6Z" fill="#39289d"/><path d="M360.8 160.3L364.5 158.6L367.3 159.8L363.6 160.4Z" fill="#39289d"/><path d="M375.8 158.9L378.3 158.2L380.5 159.3L377.9 159.8Z" fill="#39289d"/><path d="M249.8 161.8L256.6 160.8L259.1 161.4L252.2 162.9Z" fill="#39289d"/><path d="M261.2 162.4L266.6 161.1L268.5 161.9L263.2 163.4Z" fill="#39289d"/><path d="M367.3 159.8L370.5 158.4L373 159.1L369.8 160.3Z" fill="#39289d"/><path d="M276.6 160.3L279.8 159.1L292.5 163.9L289.3 164.5Z" fill="#39289d"/><path d="M321.8 161.9L331.5 159.6L336.8 161.5L327.1 162.9Z" fill="#39289d"/><path d="M336.8 161.5L343.7 159.9L347.8 160.8L340.9 162.3Z" fill="#39289d"/><path d="M192 160.6L195.2 160.3L202.6 162.6L199.4 163.7Z" fill="#39289d"/><path d="M373 159.1L375.8 158.9L377.9 159.8L375.1 159.9Z" fill="#39289d"/><path d="M347.8 160.8L353.1 159.6L356.5 160.4L351.1 162.4Z" fill="#39289d"/><path d="M159 161.2L165.9 159.7L178.6 164.1L171.7 165Z" fill="#39289d"/><path d="M377.9 159.8L380.5 159.3L382.4 159.5L379.9 160.1Z" fill="#39289d"/><path d="M356.5 160.4L360.8 160.3L363.6 160.4L359.3 161.5Z" fill="#39289d"/><path d="M297.8 162.7L314.4 158.7L321.8 161.9L305.2 165.5Z" fill="#39289d"/><path d="M237.2 162.8L246.9 160.7L249.8 161.8L240 164.3Z" fill="#39289d"/><path d="M252.2 162.9L259.1 161.4L261.2 162.4L254.4 163.2Z" fill="#39289d"/><path d="M363.6 160.4L367.3 159.8L369.8 160.3L366.1 160.7Z" fill="#39289d"/><path d="M213.2 164.1L229.8 160.6L233.9 161.9L217.3 165.5Z" fill="#39289d"/><path d="M272.9 160.8L276.6 160.3L289.3 164.5L285.6 164.8Z" fill="#39289d"/><path d="M369.8 160.3L373 159.1L375.1 159.9L371.9 161.3Z" fill="#39289d"/><path d="M188.3 162.2L192 160.6L199.4 163.7L195.7 164.3Z" fill="#39289d"/><path d="M375.1 159.9L377.9 159.8L379.9 160.1L377.1 160.3Z" fill="#39289d"/><path d="M205.4 162.3L207.9 162.3L213.2 164.1L210.7 164.7Z" fill="#39289d"/><path d="M254.4 163.2L261.2 162.4L263.2 163.4L256.3 163.9Z" fill="#39289d"/><path d="M366.1 160.7L369.8 160.3L371.9 161.3L368.2 162.7Z" fill="#39289d"/><path d="M351.1 162.4L356.5 160.4L359.3 161.5L353.9 162.4Z" fill="#39289d"/><path d="M340.9 162.3L347.8 160.8L351.1 162.4L344.2 163.7Z" fill="#39289d"/><path d="M359.3 161.5L363.6 160.4L366.1 160.7L361.7 162.2Z" fill="#39289d"/><path d="M240 164.3L249.8 161.8L252.2 162.9L242.5 164.4Z" fill="#39289d"/><path d="M371.9 161.3L375.1 159.9L377.1 160.3L373.9 161.7Z" fill="#39289d"/><path d="M183.9 163L188.3 162.2L195.7 164.3L191.3 165.5Z" fill="#39289d"/><path d="M268.5 161.9L272.9 160.8L285.6 164.8L281.2 165.9Z" fill="#39289d"/><path d="M202.6 162.6L205.4 162.3L210.7 164.7L207.9 165Z" fill="#39289d"/><path d="M327.1 162.9L336.8 161.5L340.9 162.3L331.2 164.8Z" fill="#39289d"/><path d="M149.3 163.2L159 161.2L171.7 165L162 167.3Z" fill="#39289d"/><path d="M368.2 162.7L371.9 161.3L373.9 161.7L370.2 162.6Z" fill="#39289d"/><path d="M217.3 165.5L233.9 161.9L237.2 162.8L220.6 166.2Z" fill="#39289d"/><path d="M361.7 162.2L366.1 160.7L368.2 162.7L363.9 162.7Z" fill="#39289d"/><path d="M242.5 164.4L252.2 162.9L254.4 163.2L244.7 165.4Z" fill="#39289d"/><path d="M199.4 163.7L202.6 162.6L207.9 165L204.7 166Z" fill="#39289d"/><path d="M353.9 162.4L359.3 161.5L361.7 162.2L356.4 163.4Z" fill="#39289d"/><path d="M295.3 162.7L297.8 162.7L305.2 165.5L302.7 165.6Z" fill="#39289d"/><path d="M263.2 163.4L268.5 161.9L281.2 165.9L275.9 167.2Z" fill="#39289d"/><path d="M178.6 164.1L183.9 163L191.3 165.5L186 167Z" fill="#39289d"/><path d="M344.2 163.7L351.1 162.4L353.9 162.4L347.1 164.5Z" fill="#39289d"/><path d="M210.7 164.7L213.2 164.1L217.3 165.5L214.8 166Z" fill="#39289d"/><path d="M305.2 165.5L321.8 161.9L327.1 162.9L310.5 166.4Z" fill="#39289d"/><path d="M363.9 162.7L368.2 162.7L370.2 162.6L365.8 163.7Z" fill="#39289d"/><path d="M195.7 164.3L199.4 163.7L204.7 166L201 166.1Z" fill="#39289d"/><path d="M244.7 165.4L254.4 163.2L256.3 163.9L246.6 165.9Z" fill="#39289d"/><path d="M292.5 163.9L295.3 162.7L302.7 165.6L299.9 165.7Z" fill="#39289d"/><path d="M331.2 164.8L340.9 162.3L344.2 163.7L334.5 165.6Z" fill="#39289d"/><path d="M356.4 163.4L361.7 162.2L363.9 162.7L358.5 164Z" fill="#39289d"/><path d="M220.6 166.2L237.2 162.8L240 164.3L223.5 167Z" fill="#39289d"/><path d="M207.9 165L210.7 164.7L214.8 166L212 166.3Z" fill="#39289d"/><path d="M347.1 164.5L353.9 162.4L356.4 163.4L349.5 165.6Z" fill="#39289d"/><path d="M289.3 164.5L292.5 163.9L299.9 165.7L296.7 166.9Z" fill="#39289d"/><path d="M256.3 163.9L263.2 163.4L275.9 167.2L269 168.8Z" fill="#39289d"/><path d="M171.7 165L178.6 164.1L186 167L179.1 167.5Z" fill="#39289d"/><path d="M191.3 165.5L195.7 164.3L201 166.1L196.6 167Z" fill="#39289d"/><path d="M358.5 164L363.9 162.7L365.8 163.7L360.5 165.2Z" fill="#39289d"/><path d="M204.7 166L207.9 165L212 166.3L208.8 166.7Z" fill="#39289d"/><path d="M379.9 160.1L382.4 159.5L395.1 157.9L392.6 159Z" fill="#39289d"/><path d="M214.8 166L217.3 165.5L220.6 166.2L218.1 167Z" fill="#39289d"/><path d="M223.5 167L240 164.3L242.5 164.4L225.9 168.5Z" fill="#39289d"/><path d="M334.5 165.6L344.2 163.7L347.1 164.5L337.3 167.1Z" fill="#39289d"/><path d="M285.6 164.8L289.3 164.5L296.7 166.9L293 167.8Z" fill="#39289d"/><path d="M349.5 165.6L356.4 163.4L358.5 164L351.7 166Z" fill="#39289d"/><path d="M377.1 160.3L379.9 160.1L392.6 159L389.8 159.9Z" fill="#39289d"/><path d="M310.5 166.4L327.1 162.9L331.2 164.8L314.6 167.9Z" fill="#39289d"/><path d="M212 166.3L214.8 166L218.1 167L215.3 167.7Z" fill="#39289d"/><path d="M201 166.1L204.7 166L208.8 166.7L205.1 168.1Z" fill="#39289d"/><path d="M302.7 165.6L305.2 165.5L310.5 166.4L308 167.7Z" fill="#39289d"/><path d="M132.7 166L149.3 163.2L162 167.3L145.4 170.6Z" fill="#39289d"/><path d="M186 167L191.3 165.5L196.6 167L191.3 168.7Z" fill="#39289d"/><path d="M373.9 161.7L377.1 160.3L389.8 159.9L386.6 161.7Z" fill="#39289d"/><path d="M225.9 168.5L242.5 164.4L244.7 165.4L228.1 169.1Z" fill="#39289d"/><path d="M351.7 166L358.5 164L360.5 165.2L353.6 166.8Z" fill="#39289d"/><path d="M337.3 167.1L347.1 164.5L349.5 165.6L339.8 167.6Z" fill="#39289d"/><path d="M281.2 165.9L285.6 164.8L293 167.8L288.6 168.7Z" fill="#39289d"/><path d="M218.1 167L220.6 166.2L223.5 167L220.9 168.3Z" fill="#39289d"/><path d="M299.9 165.7L302.7 165.6L308 167.7L305.2 167.9Z" fill="#39289d"/><path d="M208.8 166.7L212 166.3L215.3 167.7L212.1 168.1Z" fill="#39289d"/><path d="M370.2 162.6L373.9 161.7L386.6 161.7L382.9 163.2Z" fill="#39289d"/><path d="M246.6 165.9L256.3 163.9L269 168.8L259.3 171.1Z" fill="#39289d"/><path d="M196.6 167L201 166.1L205.1 168.1L200.7 168.3Z" fill="#39289d"/><path d="M215.3 167.7L218.1 167L220.9 168.3L218.1 168.8Z" fill="#39289d"/><path d="M162 167.3L171.7 165L179.1 167.5L169.4 169.8Z" fill="#39289d"/><path d="M228.1 169.1L244.7 165.4L246.6 165.9L230 169.7Z" fill="#39289d"/><path d="M314.6 167.9L331.2 164.8L334.5 165.6L317.9 169.2Z" fill="#39289d"/><path d="M296.7 166.9L299.9 165.7L305.2 167.9L302 169.1Z" fill="#39289d"/><path d="M205.1 168.1L208.8 166.7L212.1 168.1L208.4 169.3Z" fill="#39289d"/><path d="M339.8 167.6L349.5 165.6L351.7 166L342 168Z" fill="#39289d"/><path d="M220.9 168.3L223.5 167L225.9 168.5L223.4 169.2Z" fill="#39289d"/><path d="M275.9 167.2L281.2 165.9L288.6 168.7L283.3 170.2Z" fill="#39289d"/><path d="M179.1 167.5L186 167L191.3 168.7L184.4 169.3Z" fill="#39289d"/><path d="M365.8 163.7L370.2 162.6L382.9 163.2L378.5 164.6Z" fill="#39289d"/><path d="M212.1 168.1L215.3 167.7L218.1 168.8L214.9 169.4Z" fill="#39289d"/><path d="M308 167.7L310.5 166.4L314.6 167.9L312.1 168.8Z" fill="#39289d"/><path d="M218.1 168.8L220.9 168.3L223.4 169.2L220.6 169.6Z" fill="#39289d"/><path d="M191.3 168.7L196.6 167L200.7 168.3L195.4 169.5Z" fill="#39289d"/><path d="M293 167.8L296.7 166.9L302 169.1L298.3 169.1Z" fill="#39289d"/><path d="M342 168L351.7 166L353.6 166.8L343.9 168.7Z" fill="#39289d"/><path d="M200.7 168.3L205.1 168.1L208.4 169.3L204.1 170Z" fill="#39289d"/><path d="M130.2 166.6L132.7 166L145.4 170.6L142.9 171.4Z" fill="#39289d"/><path d="M317.9 169.2L334.5 165.6L337.3 167.1L320.8 170.8Z" fill="#39289d"/><path d="M223.4 169.2L225.9 168.5L228.1 169.1L225.5 169.4Z" fill="#39289d"/><path d="M305.2 167.9L308 167.7L312.1 168.8L309.3 169.4Z" fill="#39289d"/><path d="M360.5 165.2L365.8 163.7L378.5 164.6L373.2 166.7Z" fill="#39289d"/><path d="M208.4 169.3L212.1 168.1L214.9 169.4L211.2 170.2Z" fill="#39289d"/><path d="M214.9 169.4L218.1 168.8L220.6 169.6L217.4 170.4Z" fill="#39289d"/><path d="M127.4 167.8L130.2 166.6L142.9 171.4L140.1 172Z" fill="#39289d"/><path d="M269 168.8L275.9 167.2L283.3 170.2L276.4 171.4Z" fill="#39289d"/><path d="M288.6 168.7L293 167.8L298.3 169.1L293.9 171.1Z" fill="#39289d"/><path d="M220.6 169.6L223.4 169.2L225.5 169.4L222.7 170.2Z" fill="#39289d"/><path d="M302 169.1L305.2 167.9L309.3 169.4L306.1 169.9Z" fill="#39289d"/><path d="M225.5 169.4L228.1 169.1L230 169.7L227.5 170.2Z" fill="#39289d"/><path d="M312.1 168.8L314.6 167.9L317.9 169.2L315.4 170Z" fill="#39289d"/><path d="M320.8 170.8L337.3 167.1L339.8 167.6L323.2 170.7Z" fill="#39289d"/><path d="M184.4 169.3L191.3 168.7L195.4 169.5L188.5 171.3Z" fill="#39289d"/><path d="M204.1 170L208.4 169.3L211.2 170.2L206.9 171.1Z" fill="#39289d"/><path d="M195.4 169.5L200.7 168.3L204.1 170L198.7 171.3Z" fill="#39289d"/><path d="M124.2 168.5L127.4 167.8L140.1 172L136.9 172.4Z" fill="#39289d"/><path d="M169.4 169.8L179.1 167.5L184.4 169.3L174.7 171.8Z" fill="#39289d"/><path d="M211.2 170.2L214.9 169.4L217.4 170.4L213.7 170.8Z" fill="#39289d"/><path d="M353.6 166.8L360.5 165.2L373.2 166.7L366.3 169.3Z" fill="#39289d"/><path d="M217.4 170.4L220.6 169.6L222.7 170.2L219.5 170.6Z" fill="#39289d"/><path d="M298.3 169.1L302 169.1L306.1 169.9L302.4 171.3Z" fill="#39289d"/><path d="M222.7 170.2L225.5 169.4L227.5 170.2L224.7 170.4Z" fill="#39289d"/><path d="M309.3 169.4L312.1 168.8L315.4 170L312.6 170.5Z" fill="#39289d"/><path d="M230 169.7L246.6 165.9L259.3 171.1L242.7 173.8Z" fill="#39289d"/><path d="M283.3 170.2L288.6 168.7L293.9 171.1L288.6 171.6Z" fill="#39289d"/><path d="M145.4 170.6L162 167.3L169.4 169.8L152.8 173.6Z" fill="#39289d"/><path d="M120.5 168.5L124.2 168.5L136.9 172.4L133.2 173.2Z" fill="#39289d"/><path d="M323.2 170.7L339.8 167.6L342 168L325.4 172.1Z" fill="#39289d"/><path d="M315.4 170L317.9 169.2L320.8 170.8L318.2 170.7Z" fill="#39289d"/><path d="M198.7 171.3L204.1 170L206.9 171.1L201.5 172.3Z" fill="#39289d"/><path d="M206.9 171.1L211.2 170.2L213.7 170.8L209.3 171.2Z" fill="#39289d"/><path d="M213.7 170.8L217.4 170.4L219.5 170.6L215.8 171.1Z" fill="#39289d"/><path d="M219.5 170.6L222.7 170.2L224.7 170.4L221.5 171.9Z" fill="#39289d"/><path d="M306.1 169.9L309.3 169.4L312.6 170.5L309.4 171Z" fill="#39289d"/><path d="M293.9 171.1L298.3 169.1L302.4 171.3L298 172.1Z" fill="#39289d"/><path d="M392.6 159L395.1 157.9L402.5 155.4L400 159.9Z" fill="#39289d"/><path d="M259.3 171.1L269 168.8L276.4 171.4L266.7 173.4Z" fill="#39289d"/><path d="M188.5 171.3L195.4 169.5L198.7 171.3L191.8 172.5Z" fill="#39289d"/><path d="M389.8 159.9L392.6 159L400 159.9L397.2 158.4Z" fill="#39289d"/><path d="M312.6 170.5L315.4 170L318.2 170.7L315.4 171.6Z" fill="#39289d"/><path d="M325.4 172.1L342 168L343.9 168.7L327.3 172.5Z" fill="#39289d"/><path d="M174.7 171.8L184.4 169.3L188.5 171.3L178.8 173.2Z" fill="#39289d"/><path d="M302.4 171.3L306.1 169.9L309.4 171L305.7 172.5Z" fill="#39289d"/><path d="M116.1 169.4L120.5 168.5L133.2 173.2L128.8 174Z" fill="#39289d"/><path d="M215.8 171.1L219.5 170.6L221.5 171.9L217.8 172.1Z" fill="#39289d"/><path d="M276.4 171.4L283.3 170.2L288.6 171.6L281.7 173Z" fill="#39289d"/><path d="M343.9 168.7L353.6 166.8L366.3 169.3L356.6 170.9Z" fill="#39289d"/><path d="M209.3 171.2L213.7 170.8L215.8 171.1L211.5 172.6Z" fill="#39289d"/><path d="M318.2 170.7L320.8 170.8L323.2 170.7L320.7 171.6Z" fill="#39289d"/><path d="M201.5 172.3L206.9 171.1L209.3 171.2L204 172.6Z" fill="#39289d"/><path d="M288.6 171.6L293.9 171.1L298 172.1L292.7 173.5Z" fill="#39289d"/><path d="M309.4 171L312.6 170.5L315.4 171.6L312.2 171.9Z" fill="#39289d"/><path d="M386.6 161.7L389.8 159.9L397.2 158.4L394 158.6Z" fill="#39289d"/><path d="M191.8 172.5L198.7 171.3L201.5 172.3L194.7 173.6Z" fill="#39289d"/><path d="M142.9 171.4L145.4 170.6L152.8 173.6L150.3 174.2Z" fill="#39289d"/><path d="M227.5 170.2L230 169.7L242.7 173.8L240.2 174.7Z" fill="#39289d"/><path d="M298 172.1L302.4 171.3L305.7 172.5L301.4 173Z" fill="#39289d"/><path d="M315.4 171.6L318.2 170.7L320.7 171.6L317.9 171.9Z" fill="#39289d"/><path d="M382.9 163.2L386.6 161.7L394 158.6L390.3 162.5Z" fill="#39289d"/><path d="M211.5 172.6L215.8 171.1L217.8 172.1L213.4 173Z" fill="#39289d"/><path d="M152.8 173.6L169.4 169.8L174.7 171.8L158.1 175.2Z" fill="#39289d"/><path d="M110.8 170.6L116.1 169.4L128.8 174L123.5 175.1Z" fill="#39289d"/><path d="M320.7 171.6L323.2 170.7L325.4 172.1L322.8 172Z" fill="#39289d"/><path d="M305.7 172.5L309.4 171L312.2 171.9L308.5 173.2Z" fill="#39289d"/><path d="M204 172.6L209.3 171.2L211.5 172.6L206.1 173.3Z" fill="#39289d"/><path d="M140.1 172L142.9 171.4L150.3 174.2L147.5 174.8Z" fill="#39289d"/><path d="M378.5 164.6L382.9 163.2L390.3 162.5L385.9 164.8Z" fill="#39289d"/><path d="M178.8 173.2L188.5 171.3L191.8 172.5L182.1 174Z" fill="#39289d"/><path d="M224.7 170.4L227.5 170.2L240.2 174.7L237.4 175Z" fill="#39289d"/><path d="M312.2 171.9L315.4 171.6L317.9 171.9L314.7 173.1Z" fill="#39289d"/><path d="M194.7 173.6L201.5 172.3L204 172.6L197.1 173.8Z" fill="#39289d"/><path d="M317.9 171.9L320.7 171.6L322.8 172L320 173.1Z" fill="#39289d"/><path d="M281.7 173L288.6 171.6L292.7 173.5L285.8 174.4Z" fill="#39289d"/><path d="M266.7 173.4L276.4 171.4L281.7 173L272 175.1Z" fill="#39289d"/><path d="M322.8 172L325.4 172.1L327.3 172.5L324.8 173Z" fill="#39289d"/><path d="M292.7 173.5L298 172.1L301.4 173L296 173.8Z" fill="#39289d"/><path d="M221.5 171.9L224.7 170.4L237.4 175L234.2 176.2Z" fill="#39289d"/><path d="M206.1 173.3L211.5 172.6L213.4 173L208.1 174Z" fill="#39289d"/><path d="M301.4 173L305.7 172.5L308.5 173.2L304.2 173.6Z" fill="#39289d"/><path d="M136.9 172.4L140.1 172L147.5 174.8L144.3 174.9Z" fill="#39289d"/><path d="M373.2 166.7L378.5 164.6L385.9 164.8L380.6 165.7Z" fill="#39289d"/><path d="M308.5 173.2L312.2 171.9L314.7 173.1L311 173.6Z" fill="#39289d"/><path d="M314.7 173.1L317.9 171.9L320 173.1L316.8 174Z" fill="#39289d"/><path d="M103.9 171.9L110.8 170.6L123.5 175.1L116.6 176.9Z" fill="#39289d"/><path d="M242.7 173.8L259.3 171.1L266.7 173.4L250.1 176.4Z" fill="#39289d"/><path d="M320 173.1L322.8 172L324.8 173L322 173.9Z" fill="#39289d"/><path d="M182.1 174L191.8 172.5L194.7 173.6L184.9 175.1Z" fill="#39289d"/><path d="M197.1 173.8L204 172.6L206.1 173.3L199.3 174.9Z" fill="#39289d"/><path d="M217.8 172.1L221.5 171.9L234.2 176.2L230.5 176.5Z" fill="#39289d"/><path d="M158.1 175.2L174.7 171.8L178.8 173.2L162.2 176.9Z" fill="#39289d"/><path d="M133.2 173.2L136.9 172.4L144.3 174.9L140.6 176.2Z" fill="#39289d"/><path d="M400 159.9L402.5 155.4L407.8 157.4L405.3 156.5Z" fill="#39289d"/><path d="M327.3 172.5L343.9 168.7L356.6 170.9L340 176.1Z" fill="#39289d"/><path d="M316.8 174L320 173.1L322 173.9L318.8 174.3Z" fill="#39289d"/><path d="M304.2 173.6L308.5 173.2L311 173.6L306.6 175Z" fill="#39289d"/><path d="M311 173.6L314.7 173.1L316.8 174L313.1 174.3Z" fill="#39289d"/><path d="M150.3 174.2L152.8 173.6L158.1 175.2L155.6 176.3Z" fill="#39289d"/><path d="M366.3 169.3L373.2 166.7L380.6 165.7L373.7 168.6Z" fill="#39289d"/><path d="M296 173.8L301.4 173L304.2 173.6L298.8 174.7Z" fill="#39289d"/><path d="M285.8 174.4L292.7 173.5L296 173.8L289.1 176Z" fill="#39289d"/><path d="M397.2 158.4L400 159.9L405.3 156.5L402.5 158.9Z" fill="#39289d"/><path d="M199.3 174.9L206.1 173.3L208.1 174L201.2 175.7Z" fill="#39289d"/><path d="M184.9 175.1L194.7 173.6L197.1 173.8L187.4 175.9Z" fill="#39289d"/><path d="M213.4 173L217.8 172.1L230.5 176.5L226.1 177.7Z" fill="#39289d"/><path d="M272 175.1L281.7 173L285.8 174.4L276.1 176.9Z" fill="#39289d"/><path d="M147.5 174.8L150.3 174.2L155.6 176.3L152.8 176.2Z" fill="#39289d"/><path d="M128.8 174L133.2 173.2L140.6 176.2L136.2 177Z" fill="#39289d"/><path d="M313.1 174.3L316.8 174L318.8 174.3L315.1 175.6Z" fill="#39289d"/><path d="M306.6 175L311 173.6L313.1 174.3L308.8 175.7Z" fill="#39289d"/><path d="M394 158.6L397.2 158.4L402.5 158.9L399.3 160Z" fill="#39289d"/><path d="M298.8 174.7L304.2 173.6L306.6 175L301.3 176.1Z" fill="#39289d"/><path d="M94.2 174.4L103.9 171.9L116.6 176.9L106.9 178.5Z" fill="#39289d"/><path d="M162.2 176.9L178.8 173.2L182.1 174L165.5 177.7Z" fill="#39289d"/><path d="M390.3 162.5L394 158.6L399.3 160L395.6 162.6Z" fill="#39289d"/><path d="M187.4 175.9L197.1 173.8L199.3 174.9L189.6 177.2Z" fill="#39289d"/><path d="M144.3 174.9L147.5 174.8L152.8 176.2L149.6 177.1Z" fill="#39289d"/><path d="M385.9 164.8L390.3 162.5L395.6 162.6L391.2 165.4Z" fill="#39289d"/><path d="M289.1 176L296 173.8L298.8 174.7L292 176.6Z" fill="#39289d"/><path d="M240.2 174.7L242.7 173.8L250.1 176.4L247.6 177.1Z" fill="#39289d"/><path d="M356.6 170.9L366.3 169.3L373.7 168.6L364 173.2Z" fill="#39289d"/><path d="M308.8 175.7L313.1 174.3L315.1 175.6L310.7 176.5Z" fill="#39289d"/><path d="M208.1 174L213.4 173L226.1 177.7L220.8 178.8Z" fill="#39289d"/><path d="M123.5 175.1L128.8 174L136.2 177L130.9 178.2Z" fill="#39289d"/><path d="M250.1 176.4L266.7 173.4L272 175.1L255.4 178.9Z" fill="#39289d"/><path d="M324.8 173L327.3 172.5L340 176.1L337.5 176.2Z" fill="#39289d"/><path d="M155.6 176.3L158.1 175.2L162.2 176.9L159.7 177.1Z" fill="#39289d"/><path d="M301.3 176.1L306.6 175L308.8 175.7L303.4 176.5Z" fill="#39289d"/><path d="M276.1 176.9L285.8 174.4L289.1 176L279.4 178.1Z" fill="#39289d"/><path d="M189.6 177.2L199.3 174.9L201.2 175.7L191.5 178Z" fill="#39289d"/><path d="M237.4 175L240.2 174.7L247.6 177.1L244.8 178Z" fill="#39289d"/><path d="M140.6 176.2L144.3 174.9L149.6 177.1L145.9 178Z" fill="#39289d"/><path d="M380.6 165.7L385.9 164.8L391.2 165.4L385.9 167Z" fill="#39289d"/><path d="M322 173.9L324.8 173L337.5 176.2L334.7 177.6Z" fill="#39289d"/><path d="M405.3 156.5L407.8 157.4L411.9 155.7L409.4 157Z" fill="#39289d"/><path d="M292 176.6L298.8 174.7L301.3 176.1L294.4 177.4Z" fill="#39289d"/><path d="M165.5 177.7L182.1 174L184.9 175.1L168.4 178.6Z" fill="#39289d"/><path d="M152.8 176.2L155.6 176.3L159.7 177.1L156.9 177.8Z" fill="#39289d"/><path d="M303.4 176.5L308.8 175.7L310.7 176.5L305.4 177.6Z" fill="#39289d"/><path d="M234.2 176.2L237.4 175L244.8 178L241.6 178.5Z" fill="#39289d"/><path d="M402.5 158.9L405.3 156.5L409.4 157L406.6 159.2Z" fill="#39289d"/><path d="M399.3 160L402.5 158.9L406.6 159.2L403.4 162.5Z" fill="#39289d"/><path d="M136.2 177L140.6 176.2L145.9 178L141.5 178.9Z" fill="#39289d"/><path d="M318.8 174.3L322 173.9L334.7 177.6L331.5 177.6Z" fill="#39289d"/><path d="M201.2 175.7L208.1 174L220.8 178.8L213.9 180.3Z" fill="#39289d"/><path d="M116.6 176.9L123.5 175.1L130.9 178.2L124 179.3Z" fill="#39289d"/><path d="M279.4 178.1L289.1 176L292 176.6L282.2 179.3Z" fill="#39289d"/><path d="M395.6 162.6L399.3 160L403.4 162.5L399.7 163.9Z" fill="#39289d"/><path d="M373.7 168.6L380.6 165.7L385.9 167L379 170.8Z" fill="#39289d"/><path d="M149.6 177.1L152.8 176.2L156.9 177.8L153.7 178.3Z" fill="#39289d"/><path d="M294.4 177.4L301.3 176.1L303.4 176.5L296.6 178.4Z" fill="#39289d"/><path d="M159.7 177.1L162.2 176.9L165.5 177.7L163 178.7Z" fill="#39289d"/><path d="M168.4 178.6L184.9 175.1L187.4 175.9L170.8 180.1Z" fill="#39289d"/><path d="M255.4 178.9L272 175.1L276.1 176.9L259.5 180.5Z" fill="#39289d"/><path d="M230.5 176.5L234.2 176.2L241.6 178.5L237.9 179.6Z" fill="#39289d"/><path d="M391.2 165.4L395.6 162.6L399.7 163.9L395.3 164.7Z" fill="#39289d"/><path d="M315.1 175.6L318.8 174.3L331.5 177.6L327.8 179Z" fill="#39289d"/><path d="M247.6 177.1L250.1 176.4L255.4 178.9L252.9 179.6Z" fill="#39289d"/><path d="M145.9 178L149.6 177.1L153.7 178.3L150 179.3Z" fill="#39289d"/><path d="M156.9 177.8L159.7 177.1L163 178.7L160.2 178.6Z" fill="#39289d"/><path d="M77.6 177.8L94.2 174.4L106.9 178.5L90.3 182.6Z" fill="#39289d"/><path d="M340 176.1L356.6 170.9L364 173.2L347.4 177.8Z" fill="#39289d"/><path d="M296.6 178.4L303.4 176.5L305.4 177.6L298.5 178.8Z" fill="#39289d"/><path d="M130.9 178.2L136.2 177L141.5 178.9L136.2 179.8Z" fill="#39289d"/><path d="M170.8 180.1L187.4 175.9L189.6 177.2L173 180.8Z" fill="#39289d"/><path d="M282.2 179.3L292 176.6L294.4 177.4L284.7 179.4Z" fill="#39289d"/><path d="M364 173.2L373.7 168.6L379 170.8L369.3 174.2Z" fill="#39289d"/><path d="M226.1 177.7L230.5 176.5L237.9 179.6L233.5 180.6Z" fill="#39289d"/><path d="M385.9 167L391.2 165.4L395.3 164.7L390 167.3Z" fill="#39289d"/><path d="M163 178.7L165.5 177.7L168.4 178.6L165.8 179.8Z" fill="#39289d"/><path d="M244.8 178L247.6 177.1L252.9 179.6L250.1 179.4Z" fill="#39289d"/><path d="M310.7 176.5L315.1 175.6L327.8 179L323.4 179.6Z" fill="#39289d"/><path d="M153.7 178.3L156.9 177.8L160.2 178.6L157 179.9Z" fill="#39289d"/><path d="M191.5 178L201.2 175.7L213.9 180.3L204.2 182.6Z" fill="#39289d"/><path d="M141.5 178.9L145.9 178L150 179.3L145.6 179.8Z" fill="#39289d"/><path d="M259.5 180.5L276.1 176.9L279.4 178.1L262.8 181.1Z" fill="#39289d"/><path d="M173 180.8L189.6 177.2L191.5 178L174.9 180.9Z" fill="#39289d"/><path d="M106.9 178.5L116.6 176.9L124 179.3L114.3 181Z" fill="#39289d"/><path d="M160.2 178.6L163 178.7L165.8 179.8L163 179.9Z" fill="#39289d"/><path d="M284.7 179.4L294.4 177.4L296.6 178.4L286.9 180.5Z" fill="#39289d"/><path d="M241.6 178.5L244.8 178L250.1 179.4L246.9 180.9Z" fill="#39289d"/><path d="M379 170.8L385.9 167L390 167.3L383.1 170.9Z" fill="#39289d"/><path d="M409.4 157L411.9 155.7L415.2 149.5L412.7 154Z" fill="#39289d"/><path d="M150 179.3L153.7 178.3L157 179.9L153.3 180.5Z" fill="#39289d"/><path d="M406.6 159.2L409.4 157L412.7 154L409.9 152.3Z" fill="#39289d"/><path d="M165.8 179.8L168.4 178.6L170.8 180.1L168.3 180.2Z" fill="#39289d"/><path d="M220.8 178.8L226.1 177.7L233.5 180.6L228.2 181Z" fill="#39289d"/><path d="M124 179.3L130.9 178.2L136.2 179.8L129.3 181.3Z" fill="#39289d"/><path d="M399.7 163.9L403.4 162.5L406.7 155.4L403 161.5Z" fill="#39289d"/><path d="M252.9 179.6L255.4 178.9L259.5 180.5L257 180.9Z" fill="#39289d"/><path d="M305.4 177.6L310.7 176.5L323.4 179.6L318.1 181Z" fill="#39289d"/><path d="M403.4 162.5L406.6 159.2L409.9 152.3L406.7 155.4Z" fill="#39289d"/><path d="M157 179.9L160.2 178.6L163 179.9L159.8 180.7Z" fill="#39289d"/><path d="M286.9 180.5L296.6 178.4L298.5 178.8L288.8 181.5Z" fill="#39289d"/><path d="M237.9 179.6L241.6 178.5L246.9 180.9L243.2 181.4Z" fill="#39289d"/><path d="M337.5 176.2L340 176.1L347.4 177.8L344.9 178.7Z" fill="#39289d"/><path d="M136.2 179.8L141.5 178.9L145.6 179.8L140.3 181.3Z" fill="#39289d"/><path d="M262.8 181.1L279.4 178.1L282.2 179.3L265.7 182.5Z" fill="#39289d"/><path d="M163 179.9L165.8 179.8L168.3 180.2L165.5 180.6Z" fill="#39289d"/><path d="M395.3 164.7L399.7 163.9L403 161.5L398.7 159.3Z" fill="#39289d"/><path d="M250.1 179.4L252.9 179.6L257 180.9L254.2 181.5Z" fill="#39289d"/><path d="M145.6 179.8L150 179.3L153.3 180.5L149 181.1Z" fill="#39289d"/><path d="M168.3 180.2L170.8 180.1L173 180.8L170.4 180.9Z" fill="#39289d"/><path d="M334.7 177.6L337.5 176.2L344.9 178.7L342.1 179.6Z" fill="#39289d"/><path d="M369.3 174.2L379 170.8L383.1 170.9L373.4 174Z" fill="#39289d"/><path d="M153.3 180.5L157 179.9L159.8 180.7L156.1 181.5Z" fill="#39289d"/><path d="M347.4 177.8L364 173.2L369.3 174.2L352.7 178.9Z" fill="#39289d"/><path d="M233.5 180.6L237.9 179.6L243.2 181.4L238.8 181.9Z" fill="#39289d"/><path d="M159.8 180.7L163 179.9L165.5 180.6L162.3 181.3Z" fill="#39289d"/><path d="M213.9 180.3L220.8 178.8L228.2 181L221.3 182.9Z" fill="#39289d"/><path d="M246.9 180.9L250.1 179.4L254.2 181.5L251 182.1Z" fill="#39289d"/><path d="M298.5 178.8L305.4 177.6L318.1 181L311.2 183.4Z" fill="#39289d"/><path d="M257 180.9L259.5 180.5L262.8 181.1L260.3 182.1Z" fill="#39289d"/><path d="M165.5 180.6L168.3 180.2L170.4 180.9L167.6 181.5Z" fill="#39289d"/><path d="M265.7 182.5L282.2 179.3L284.7 179.4L268.1 183.6Z" fill="#39289d"/><path d="M331.5 177.6L334.7 177.6L342.1 179.6L338.9 179.8Z" fill="#39289d"/><path d="M390 167.3L395.3 164.7L398.7 159.3L393.3 163.7Z" fill="#39289d"/><path d="M170.4 180.9L173 180.8L174.9 180.9L172.4 182Z" fill="#39289d"/><path d="M129.3 181.3L136.2 179.8L140.3 181.3L133.4 183.1Z" fill="#39289d"/><path d="M140.3 181.3L145.6 179.8L149 181.1L143.6 182.5Z" fill="#39289d"/><path d="M114.3 181L124 179.3L129.3 181.3L119.6 183.1Z" fill="#39289d"/><path d="M149 181.1L153.3 180.5L156.1 181.5L151.8 182.5Z" fill="#39289d"/><path d="M156.1 181.5L159.8 180.7L162.3 181.3L158.6 182.5Z" fill="#39289d"/><path d="M254.2 181.5L257 180.9L260.3 182.1L257.5 182.1Z" fill="#39289d"/><path d="M243.2 181.4L246.9 180.9L251 182.1L247.3 182.7Z" fill="#39289d"/><path d="M162.3 181.3L165.5 180.6L167.6 181.5L164.4 182.2Z" fill="#39289d"/><path d="M167.6 181.5L170.4 180.9L172.4 182L169.6 182.3Z" fill="#39289d"/><path d="M174.9 180.9L191.5 178L204.2 182.6L187.6 185.3Z" fill="#39289d"/><path d="M327.8 179L331.5 177.6L338.9 179.8L335.2 181.4Z" fill="#39289d"/><path d="M383.1 170.9L390 167.3L393.3 163.7L386.4 165.6Z" fill="#39289d"/><path d="M90.3 182.6L106.9 178.5L114.3 181L97.7 184.9Z" fill="#39289d"/><path d="M409.9 152.3L412.7 154L415.5 150.6L412.7 155.4Z" fill="#39289d"/><path d="M228.2 181L233.5 180.6L238.8 181.9L233.5 183Z" fill="#39289d"/><path d="M412.7 154L415.2 149.5L418.1 149L415.5 150.6Z" fill="#39289d"/><path d="M268.1 183.6L284.7 179.4L286.9 180.5L270.3 183.9Z" fill="#39289d"/><path d="M260.3 182.1L262.8 181.1L265.7 182.5L263.1 182.5Z" fill="#39289d"/><path d="M251 182.1L254.2 181.5L257.5 182.1L254.3 183.1Z" fill="#39289d"/><path d="M151.8 182.5L156.1 181.5L158.6 182.5L154.2 183.5Z" fill="#39289d"/><path d="M406.7 155.4L409.9 152.3L412.7 155.4L409.5 154.2Z" fill="#39289d"/><path d="M158.6 182.5L162.3 181.3L164.4 182.2L160.7 183.2Z" fill="#39289d"/><path d="M164.4 182.2L167.6 181.5L169.6 182.3L166.4 182.9Z" fill="#39289d"/><path d="M143.6 182.5L149 181.1L151.8 182.5L146.4 183.7Z" fill="#39289d"/><path d="M403 161.5L406.7 155.4L409.5 154.2L405.8 156.3Z" fill="#39289d"/><path d="M238.8 181.9L243.2 181.4L247.3 182.7L242.9 184Z" fill="#39289d"/><path d="M344.9 178.7L347.4 177.8L352.7 178.9L350.2 179.8Z" fill="#39289d"/><path d="M133.4 183.1L140.3 181.3L143.6 182.5L136.7 184.4Z" fill="#39289d"/><path d="M323.4 179.6L327.8 179L335.2 181.4L330.8 181.9Z" fill="#39289d"/><path d="M204.2 182.6L213.9 180.3L221.3 182.9L211.6 184.5Z" fill="#39289d"/><path d="M288.8 181.5L298.5 178.8L311.2 183.4L301.5 185.1Z" fill="#39289d"/><path d="M270.3 183.9L286.9 180.5L288.8 181.5L272.2 185.1Z" fill="#39289d"/><path d="M352.7 178.9L369.3 174.2L373.4 174L356.8 180.6Z" fill="#39289d"/><path d="M257.5 182.1L260.3 182.1L263.1 182.5L260.3 183.7Z" fill="#39289d"/><path d="M398.7 159.3L403 161.5L405.8 156.3L401.5 159.1Z" fill="#39289d"/><path d="M342.1 179.6L344.9 178.7L350.2 179.8L347.4 181.1Z" fill="#39289d"/><path d="M119.6 183.1L129.3 181.3L133.4 183.1L123.7 185Z" fill="#39289d"/><path d="M373.4 174L383.1 170.9L386.4 165.6L376.7 170.7Z" fill="#39289d"/><path d="M247.3 182.7L251 182.1L254.3 183.1L250.6 183.5Z" fill="#39289d"/><path d="M160.7 183.2L164.4 182.2L166.4 182.9L162.7 184.1Z" fill="#39289d"/><path d="M263.1 182.5L265.7 182.5L268.1 183.6L265.6 183.5Z" fill="#39289d"/><path d="M154.2 183.5L158.6 182.5L160.7 183.2L156.4 183.8Z" fill="#39289d"/><path d="M221.3 182.9L228.2 181L233.5 183L226.6 184.4Z" fill="#39289d"/><path d="M146.4 183.7L151.8 182.5L154.2 183.5L148.9 184.3Z" fill="#39289d"/><path d="M254.3 183.1L257.5 182.1L260.3 183.7L257.1 184.2Z" fill="#39289d"/><path d="M338.9 179.8L342.1 179.6L347.4 181.1L344.2 181.7Z" fill="#39289d"/><path d="M233.5 183L238.8 181.9L242.9 184L237.6 185.1Z" fill="#39289d"/><path d="M318.1 181L323.4 179.6L330.8 181.9L325.5 183.7Z" fill="#39289d"/><path d="M393.3 163.7L398.7 159.3L401.5 159.1L396.1 160.6Z" fill="#39289d"/><path d="M136.7 184.4L143.6 182.5L146.4 183.7L139.6 185.1Z" fill="#39289d"/><path d="M260.3 183.7L263.1 182.5L265.6 183.5L262.8 184.2Z" fill="#39289d"/><path d="M172.4 182L174.9 180.9L187.6 185.3L185.1 186.3Z" fill="#39289d"/><path d="M412.7 155.4L415.5 150.6L418 146.1L415.2 151.5Z" fill="#39289d"/><path d="M242.9 184L247.3 182.7L250.6 183.5L246.3 184.4Z" fill="#39289d"/><path d="M415.5 150.6L418.1 149L420.5 148.4L418 146.1Z" fill="#392ea4"/><path d="M156.4 183.8L160.7 183.2L162.7 184.1L158.3 184.2Z" fill="#39289d"/><path d="M265.6 183.5L268.1 183.6L270.3 183.9L267.7 184.2Z" fill="#39289d"/><path d="M250.6 183.5L254.3 183.1L257.1 184.2L253.4 185.2Z" fill="#39289d"/><path d="M97.7 184.9L114.3 181L119.6 183.1L103 187Z" fill="#39289d"/><path d="M148.9 184.3L154.2 183.5L156.4 183.8L151 185.3Z" fill="#39289d"/><path d="M409.5 154.2L412.7 155.4L415.2 151.5L412 148.8Z" fill="#392ea4"/><path d="M335.2 181.4L338.9 179.8L344.2 181.7L340.5 182.3Z" fill="#39289d"/><path d="M123.7 185L133.4 183.1L136.7 184.4L127 185.7Z" fill="#39289d"/><path d="M386.4 165.6L393.3 163.7L396.1 160.6L389.3 165.6Z" fill="#39289d"/><path d="M257.1 184.2L260.3 183.7L262.8 184.2L259.6 184.7Z" fill="#39289d"/><path d="M169.6 182.3L172.4 182L185.1 186.3L182.3 186.5Z" fill="#39289d"/><path d="M350.2 179.8L352.7 178.9L356.8 180.6L354.3 180.6Z" fill="#39289d"/><path d="M262.8 184.2L265.6 183.5L267.7 184.2L264.9 185.5Z" fill="#39289d"/><path d="M139.6 185.1L146.4 183.7L148.9 184.3L142 185.9Z" fill="#39289d"/><path d="M311.2 183.4L318.1 181L325.5 183.7L318.6 185.2Z" fill="#39289d"/><path d="M267.7 184.2L270.3 183.9L272.2 185.1L269.7 185Z" fill="#39289d"/><path d="M356.8 180.6L373.4 174L376.7 170.7L360.1 178.5Z" fill="#39289d"/><path d="M226.6 184.4L233.5 183L237.6 185.1L230.7 186.6Z" fill="#39289d"/><path d="M405.8 156.3L409.5 154.2L412 148.8L408.3 154.3Z" fill="#39289d"/><path d="M237.6 185.1L242.9 184L246.3 184.4L240.9 185.6Z" fill="#39289d"/><path d="M347.4 181.1L350.2 179.8L354.3 180.6L351.5 181Z" fill="#39289d"/><path d="M211.6 184.5L221.3 182.9L226.6 184.4L216.9 186.6Z" fill="#39289d"/><path d="M151 185.3L156.4 183.8L158.3 184.2L153 186Z" fill="#39289d"/><path d="M330.8 181.9L335.2 181.4L340.5 182.3L336.1 184Z" fill="#39289d"/><path d="M246.3 184.4L250.6 183.5L253.4 185.2L249.1 185.6Z" fill="#39289d"/><path d="M166.4 182.9L169.6 182.3L182.3 186.5L179.1 187.4Z" fill="#39289d"/><path d="M253.4 185.2L257.1 184.2L259.6 184.7L255.9 186Z" fill="#39289d"/><path d="M259.6 184.7L262.8 184.2L264.9 185.5L261.7 185.7Z" fill="#39289d"/><path d="M401.5 159.1L405.8 156.3L408.3 154.3L403.9 153.6Z" fill="#39289d"/><path d="M376.7 170.7L386.4 165.6L389.3 165.6L379.5 170.4Z" fill="#39289d"/><path d="M264.9 185.5L267.7 184.2L269.7 185L266.9 186.1Z" fill="#39289d"/><path d="M396.1 160.6L401.5 159.1L403.9 153.6L398.6 165.3Z" fill="#39289d"/><path d="M272.2 185.1L288.8 181.5L301.5 185.1L284.9 188.9Z" fill="#39289d"/><path d="M187.6 185.3L204.2 182.6L211.6 184.5L195 188.7Z" fill="#39289d"/><path d="M344.2 181.7L347.4 181.1L351.5 181L348.3 182.8Z" fill="#39289d"/><path d="M127 185.7L136.7 184.4L139.6 185.1L129.8 187.3Z" fill="#39289d"/><path d="M142 185.9L148.9 184.3L151 185.3L144.2 186.8Z" fill="#39289d"/><path d="M389.3 165.6L396.1 160.6L398.6 165.3L391.7 164.5Z" fill="#39289d"/><path d="M162.7 184.1L166.4 182.9L179.1 187.4L175.4 188Z" fill="#39289d"/><path d="M103 187L119.6 183.1L123.7 185L107.1 188.3Z" fill="#39289d"/><path d="M261.7 185.7L264.9 185.5L266.9 186.1L263.7 186.5Z" fill="#39289d"/><path d="M255.9 186L259.6 184.7L261.7 185.7L258 186.8Z" fill="#39289d"/><path d="M249.1 185.6L253.4 185.2L255.9 186L251.5 186.4Z" fill="#39289d"/><path d="M325.5 183.7L330.8 181.9L336.1 184L330.8 185.1Z" fill="#39289d"/><path d="M340.5 182.3L344.2 181.7L348.3 182.8L344.6 184.2Z" fill="#39289d"/><path d="M418 146.1L420.5 148.4L422.7 143.6L420.1 144.4Z" fill="#392ea4"/><path d="M240.9 185.6L246.3 184.4L249.1 185.6L243.7 186.9Z" fill="#39289d"/><path d="M415.2 151.5L418 146.1L420.1 144.4L417.3 148.4Z" fill="#392ea4"/><path d="M230.7 186.6L237.6 185.1L240.9 185.6L234 187.2Z" fill="#39289d"/><path d="M354.3 180.6L356.8 180.6L360.1 178.5L357.6 179.7Z" fill="#39289d"/><path d="M412 148.8L415.2 151.5L417.3 148.4L414.1 150.9Z" fill="#392ea4"/><path d="M144.2 186.8L151 185.3L153 186L146.1 186.8Z" fill="#39289d"/><path d="M129.8 187.3L139.6 185.1L142 185.9L132.3 187.6Z" fill="#39289d"/><path d="M408.3 154.3L412 148.8L414.1 150.9L410.4 154.4Z" fill="#39289d"/><path d="M301.5 185.1L311.2 183.4L318.6 185.2L308.9 187.3Z" fill="#39289d"/><path d="M216.9 186.6L226.6 184.4L230.7 186.6L221 188.5Z" fill="#39289d"/><path d="M158.3 184.2L162.7 184.1L175.4 188L171 189.4Z" fill="#39289d"/><path d="M258 186.8L261.7 185.7L263.7 186.5L260 187.1Z" fill="#39289d"/><path d="M336.1 184L340.5 182.3L344.6 184.2L340.2 185.2Z" fill="#39289d"/><path d="M251.5 186.4L255.9 186L258 186.8L253.7 187.1Z" fill="#39289d"/><path d="M351.5 181L354.3 180.6L357.6 179.7L354.8 180.1Z" fill="#39289d"/><path d="M379.5 170.4L389.3 165.6L391.7 164.5L382 167.7Z" fill="#39289d"/><path d="M360.1 178.5L376.7 170.7L379.5 170.4L363 177.2Z" fill="#39289d"/><path d="M243.7 186.9L249.1 185.6L251.5 186.4L246.2 188.1Z" fill="#39289d"/><path d="M107.1 188.3L123.7 185L127 185.7L110.4 189.6Z" fill="#39289d"/><path d="M318.6 185.2L325.5 183.7L330.8 185.1L323.9 187.1Z" fill="#39289d"/><path d="M132.3 187.6L142 185.9L144.2 186.8L134.5 189Z" fill="#39289d"/><path d="M348.3 182.8L351.5 181L354.8 180.1L351.6 181.6Z" fill="#39289d"/><path d="M403.9 153.6L408.3 154.3L410.4 154.4L406.1 149.1Z" fill="#392ea4"/><path d="M234 187.2L240.9 185.6L243.7 186.9L236.9 188.2Z" fill="#39289d"/><path d="M269.7 185L272.2 185.1L284.9 188.9L282.4 189.2Z" fill="#39289d"/><path d="M391.7 164.5L398.6 165.3L400.7 155L393.9 161.5Z" fill="#39289d"/><path d="M185.1 186.3L187.6 185.3L195 188.7L192.5 188.4Z" fill="#39289d"/><path d="M253.7 187.1L258 186.8L260 187.1L255.6 188.4Z" fill="#39289d"/><path d="M420.1 144.4L422.7 143.6L424.6 141.2L422.1 146.8Z" fill="#392ea4"/><path d="M153 186L158.3 184.2L171 189.4L165.7 189.8Z" fill="#39289d"/><path d="M330.8 185.1L336.1 184L340.2 185.2L334.9 186.6Z" fill="#39289d"/><path d="M398.6 165.3L403.9 153.6L406.1 149.1L400.7 155Z" fill="#39289d"/><path d="M195 188.7L211.6 184.5L216.9 186.6L200.3 190.1Z" fill="#39289d"/><path d="M344.6 184.2L348.3 182.8L351.6 181.6L347.9 182.5Z" fill="#39289d"/><path d="M246.2 188.1L251.5 186.4L253.7 187.1L248.3 188.9Z" fill="#39289d"/><path d="M221 188.5L230.7 186.6L234 187.2L224.3 189.7Z" fill="#39289d"/><path d="M266.9 186.1L269.7 185L282.4 189.2L279.6 190.4Z" fill="#39289d"/><path d="M134.5 189L144.2 186.8L146.1 186.8L136.4 189.4Z" fill="#39289d"/><path d="M182.3 186.5L185.1 186.3L192.5 188.4L189.7 189.5Z" fill="#39289d"/><path d="M417.3 148.4L420.1 144.4L422.1 146.8L419.3 139.3Z" fill="#392ea4"/><path d="M410.4 154.4L414.1 150.9L416.1 141.6L412.4 152.8Z" fill="#392ea4"/><path d="M110.4 189.6L127 185.7L129.8 187.3L113.3 190.8Z" fill="#39289d"/><path d="M236.9 188.2L243.7 186.9L246.2 188.1L239.3 189.4Z" fill="#39289d"/><path d="M406.1 149.1L410.4 154.4L412.4 152.8L408 155.5Z" fill="#39289d"/><path d="M357.6 179.7L360.1 178.5L363 177.2L360.4 176.9Z" fill="#39289d"/><path d="M340.2 185.2L344.6 184.2L347.9 182.5L343.6 184.6Z" fill="#39289d"/><path d="M263.7 186.5L266.9 186.1L279.6 190.4L276.4 191Z" fill="#39289d"/><path d="M248.3 188.9L253.7 187.1L255.6 188.4L250.3 188.8Z" fill="#39289d"/><path d="M179.1 187.4L182.3 186.5L189.7 189.5L186.5 190.1Z" fill="#39289d"/><path d="M382 167.7L391.7 164.5L393.9 161.5L384.2 165.9Z" fill="#39289d"/><path d="M354.8 180.1L357.6 179.7L360.4 176.9L357.6 179.7Z" fill="#39289d"/><path d="M363 177.2L379.5 170.4L382 167.7L365.4 174.6Z" fill="#39289d"/><path d="M414.1 150.9L417.3 148.4L419.3 139.3L416.1 141.6Z" fill="#392ea4"/><path d="M308.9 187.3L318.6 185.2L323.9 187.1L314.2 189.2Z" fill="#39289d"/><path d="M323.9 187.1L330.8 185.1L334.9 186.6L328 188.1Z" fill="#39289d"/><path d="M146.1 186.8L153 186L165.7 189.8L158.8 192.1Z" fill="#39289d"/><path d="M239.3 189.4L246.2 188.1L248.3 188.9L241.5 190Z" fill="#39289d"/><path d="M351.6 181.6L354.8 180.1L357.6 179.7L354.4 180.8Z" fill="#39289d"/><path d="M224.3 189.7L234 187.2L236.9 188.2L227.1 190.5Z" fill="#39289d"/><path d="M284.9 188.9L301.5 185.1L308.9 187.3L292.3 191.3Z" fill="#39289d"/><path d="M113.3 190.8L129.8 187.3L132.3 187.6L115.7 190.9Z" fill="#39289d"/><path d="M400.7 155L406.1 149.1L408 155.5L402.7 155.8Z" fill="#39289d"/><path d="M260 187.1L263.7 186.5L276.4 191L272.7 191.2Z" fill="#39289d"/><path d="M200.3 190.1L216.9 186.6L221 188.5L204.4 192.1Z" fill="#39289d"/><path d="M175.4 188L179.1 187.4L186.5 190.1L182.8 191Z" fill="#39289d"/><path d="M334.9 186.6L340.2 185.2L343.6 184.6L338.2 185.3Z" fill="#39289d"/><path d="M393.9 161.5L400.7 155L402.7 155.8L395.8 159.7Z" fill="#39289d"/><path d="M347.9 182.5L351.6 181.6L354.4 180.8L350.7 181.1Z" fill="#39289d"/><path d="M192.5 188.4L195 188.7L200.3 190.1L197.8 190.5Z" fill="#39289d"/><path d="M241.5 190L248.3 188.9L250.3 188.8L243.4 190.4Z" fill="#39289d"/><path d="M227.1 190.5L236.9 188.2L239.3 189.4L229.6 191Z" fill="#39289d"/><path d="M115.7 190.9L132.3 187.6L134.5 189L117.9 192.3Z" fill="#39289d"/><path d="M384.2 165.9L393.9 161.5L395.8 159.7L386.1 167Z" fill="#39289d"/><path d="M360.4 176.9L363 177.2L365.4 174.6L362.9 176.2Z" fill="#39289d"/><path d="M255.6 188.4L260 187.1L272.7 191.2L268.3 192.6Z" fill="#39289d"/><path d="M171 189.4L175.4 188L182.8 191L178.4 191.6Z" fill="#39289d"/><path d="M189.7 189.5L192.5 188.4L197.8 190.5L195 191.4Z" fill="#39289d"/><path d="M343.6 184.6L347.9 182.5L350.7 181.1L346.4 183.6Z" fill="#39289d"/><path d="M365.4 174.6L382 167.7L384.2 165.9L367.6 174.6Z" fill="#39289d"/><path d="M357.6 179.7L360.4 176.9L362.9 176.2L360.1 177.4Z" fill="#39289d"/><path d="M314.2 189.2L323.9 187.1L328 188.1L318.3 190.6Z" fill="#39289d"/><path d="M328 188.1L334.9 186.6L338.2 185.3L331.3 188.3Z" fill="#39289d"/><path d="M204.4 192.1L221 188.5L224.3 189.7L207.7 193.2Z" fill="#39289d"/><path d="M136.4 189.4L146.1 186.8L158.8 192.1L149.1 193.9Z" fill="#39289d"/><path d="M354.4 180.8L357.6 179.7L360.1 177.4L356.9 180Z" fill="#39289d"/><path d="M117.9 192.3L134.5 189L136.4 189.4L119.8 192.7Z" fill="#39289d"/><path d="M229.6 191L239.3 189.4L241.5 190L231.8 191.6Z" fill="#39289d"/><path d="M186.5 190.1L189.7 189.5L195 191.4L191.8 191.9Z" fill="#39289d"/><path d="M282.4 189.2L284.9 188.9L292.3 191.3L289.8 192.2Z" fill="#39289d"/><path d="M338.2 185.3L343.6 184.6L346.4 183.6L341 185.2Z" fill="#39289d"/><path d="M250.3 188.8L255.6 188.4L268.3 192.6L263 193.3Z" fill="#39289d"/><path d="M165.7 189.8L171 189.4L178.4 191.6L173.1 193Z" fill="#39289d"/><path d="M350.7 181.1L354.4 180.8L356.9 180L353.2 179.5Z" fill="#39289d"/><path d="M197.8 190.5L200.3 190.1L204.4 192.1L201.9 191.8Z" fill="#39289d"/><path d="M292.3 191.3L308.9 187.3L314.2 189.2L297.6 193.1Z" fill="#39289d"/><path d="M362.9 176.2L365.4 174.6L367.6 174.6L365 176.4Z" fill="#39289d"/><path d="M279.6 190.4L282.4 189.2L289.8 192.2L287 192.8Z" fill="#39289d"/><path d="M231.8 191.6L241.5 190L243.4 190.4L233.7 192.7Z" fill="#39289d"/><path d="M182.8 191L186.5 190.1L191.8 191.9L188.1 192.9Z" fill="#39289d"/><path d="M360.1 177.4L362.9 176.2L365 176.4L362.2 178Z" fill="#39289d"/><path d="M207.7 193.2L224.3 189.7L227.1 190.5L210.6 193.8Z" fill="#39289d"/><path d="M367.6 174.6L384.2 165.9L386.1 167L369.5 170.3Z" fill="#39289d"/><path d="M356.9 180L360.1 177.4L362.2 178L359 179.6Z" fill="#39289d"/><path d="M195 191.4L197.8 190.5L201.9 191.8L199.1 192.8Z" fill="#39289d"/><path d="M318.3 190.6L328 188.1L331.3 188.3L321.6 190.9Z" fill="#39289d"/><path d="M331.3 188.3L338.2 185.3L341 185.2L334.2 188.5Z" fill="#39289d"/><path d="M346.4 183.6L350.7 181.1L353.2 179.5L348.8 181Z" fill="#39289d"/><path d="M276.4 191L279.6 190.4L287 192.8L283.8 193.4Z" fill="#39289d"/><path d="M178.4 191.6L182.8 191L188.1 192.9L183.7 193.7Z" fill="#39289d"/><path d="M158.8 192.1L165.7 189.8L173.1 193L166.2 194.2Z" fill="#39289d"/><path d="M362.2 178L365 176.4L367 177.6L364.2 178Z" fill="#39289d"/><path d="M243.4 190.4L250.3 188.8L263 193.3L256.1 194.9Z" fill="#39289d"/><path d="M191.8 191.9L195 191.4L199.1 192.8L195.9 193.6Z" fill="#39289d"/><path d="M353.2 179.5L356.9 180L359 179.6L355.3 179.4Z" fill="#39289d"/><path d="M201.9 191.8L204.4 192.1L207.7 193.2L205.2 193.4Z" fill="#39289d"/><path d="M341 185.2L346.4 183.6L348.8 181L343.5 185Z" fill="#39289d"/><path d="M365 176.4L367.6 174.6L369.5 170.3L367 177.6Z" fill="#39289d"/><path d="M210.6 193.8L227.1 190.5L229.6 191L213 194.8Z" fill="#39289d"/><path d="M272.7 191.2L276.4 191L283.8 193.4L280.1 194.1Z" fill="#39289d"/><path d="M359 179.6L362.2 178L364.2 178L361 177.7Z" fill="#39289d"/><path d="M297.6 193.1L314.2 189.2L318.3 190.6L301.7 194.7Z" fill="#39289d"/><path d="M188.1 192.9L191.8 191.9L195.9 193.6L192.2 194.3Z" fill="#39289d"/><path d="M199.1 192.8L201.9 191.8L205.2 193.4L202.4 194.2Z" fill="#39289d"/><path d="M321.6 190.9L331.3 188.3L334.2 188.5L324.4 192.3Z" fill="#39289d"/><path d="M334.2 188.5L341 185.2L343.5 185L336.6 188.5Z" fill="#39289d"/><path d="M119.8 192.7L136.4 189.4L149.1 193.9L132.5 197.2Z" fill="#39289d"/><path d="M289.8 192.2L292.3 191.3L297.6 193.1L295.1 193.4Z" fill="#39289d"/><path d="M173.1 193L178.4 191.6L183.7 193.7L178.4 194.9Z" fill="#39289d"/><path d="M348.8 181L353.2 179.5L355.3 179.4L351 181.7Z" fill="#39289d"/><path d="M213 194.8L229.6 191L231.8 191.6L215.2 195.2Z" fill="#39289d"/><path d="M268.3 192.6L272.7 191.2L280.1 194.1L275.7 195.5Z" fill="#39289d"/><path d="M205.2 193.4L207.7 193.2L210.6 193.8L208 194.1Z" fill="#39289d"/><path d="M355.3 179.4L359 179.6L361 177.7L357.3 178.8Z" fill="#39289d"/><path d="M195.9 193.6L199.1 192.8L202.4 194.2L199.2 194.5Z" fill="#39289d"/><path d="M343.5 185L348.8 181L351 181.7L345.6 185.8Z" fill="#39289d"/><path d="M287 192.8L289.8 192.2L295.1 193.4L292.3 194.2Z" fill="#39289d"/><path d="M183.7 193.7L188.1 192.9L192.2 194.3L187.8 194.7Z" fill="#39289d"/><path d="M233.7 192.7L243.4 190.4L256.1 194.9L246.4 197.5Z" fill="#39289d"/><path d="M149.1 193.9L158.8 192.1L166.2 194.2L156.5 196.6Z" fill="#39289d"/><path d="M202.4 194.2L205.2 193.4L208 194.1L205.2 195.1Z" fill="#39289d"/><path d="M351 181.7L355.3 179.4L357.3 178.8L352.9 182.9Z" fill="#39289d"/><path d="M215.2 195.2L231.8 191.6L233.7 192.7L217.1 195.8Z" fill="#39289d"/><path d="M336.6 188.5L343.5 185L345.6 185.8L338.8 187.8Z" fill="#39289d"/><path d="M283.8 193.4L287 192.8L292.3 194.2L289.1 195Z" fill="#39289d"/><path d="M324.4 192.3L334.2 188.5L336.6 188.5L326.9 191.4Z" fill="#39289d"/><path d="M301.7 194.7L318.3 190.6L321.6 190.9L305 195.3Z" fill="#39289d"/><path d="M192.2 194.3L195.9 193.6L199.2 194.5L195.5 195.2Z" fill="#39289d"/><path d="M345.6 185.8L351 181.7L352.9 182.9L347.6 185.6Z" fill="#39289d"/><path d="M166.2 194.2L173.1 193L178.4 194.9L171.5 196.6Z" fill="#39289d"/><path d="M263 193.3L268.3 192.6L275.7 195.5L270.4 196.6Z" fill="#39289d"/><path d="M422.1 146.8L424.6 141.2L437.3 123.6L434.8 120Z" fill="#363cb6"/><path d="M208 194.1L210.6 193.8L213 194.8L210.5 195.3Z" fill="#39289d"/><path d="M199.2 194.5L202.4 194.2L205.2 195.1L202 195.5Z" fill="#39289d"/><path d="M408 155.5L412.4 152.8L425.1 130.7L420.7 133.5Z" fill="#3835ad"/><path d="M295.1 193.4L297.6 193.1L301.7 194.7L299.2 195.4Z" fill="#39289d"/><path d="M419.3 139.3L422.1 146.8L434.8 120L432 130.3Z" fill="#3835ad"/><path d="M412.4 152.8L416.1 141.6L428.8 132.3L425.1 130.7Z" fill="#3835ad"/><path d="M178.4 194.9L183.7 193.7L187.8 194.7L182.5 196.2Z" fill="#39289d"/><path d="M280.1 194.1L283.8 193.4L289.1 195L285.4 195.9Z" fill="#39289d"/><path d="M205.2 195.1L208 194.1L210.5 195.3L207.7 195.9Z" fill="#39289d"/><path d="M416.1 141.6L419.3 139.3L432 130.3L428.8 132.3Z" fill="#3835ad"/><path d="M338.8 187.8L345.6 185.8L347.6 185.6L340.7 188.3Z" fill="#39289d"/><path d="M187.8 194.7L192.2 194.3L195.5 195.2L191.2 196Z" fill="#39289d"/><path d="M402.7 155.8L408 155.5L420.7 133.5L415.4 137.4Z" fill="#3835ad"/><path d="M210.5 195.3L213 194.8L215.2 195.2L212.6 196Z" fill="#39289d"/><path d="M292.3 194.2L295.1 193.4L299.2 195.4L296.4 195.6Z" fill="#39289d"/><path d="M326.9 191.4L336.6 188.5L338.8 187.8L329.1 191.6Z" fill="#39289d"/><path d="M195.5 195.2L199.2 194.5L202 195.5L198.3 196.3Z" fill="#39289d"/><path d="M305 195.3L321.6 190.9L324.4 192.3L307.9 195.4Z" fill="#39289d"/><path d="M202 195.5L205.2 195.1L207.7 195.9L204.5 196.7Z" fill="#39289d"/><path d="M275.7 195.5L280.1 194.1L285.4 195.9L281 197Z" fill="#39289d"/><path d="M256.1 194.9L263 193.3L270.4 196.6L263.5 197.4Z" fill="#39289d"/><path d="M207.7 195.9L210.5 195.3L212.6 196L209.8 196.2Z" fill="#39289d"/><path d="M289.1 195L292.3 194.2L296.4 195.6L293.2 196.4Z" fill="#39289d"/><path d="M212.6 196L215.2 195.2L217.1 195.8L214.6 196.9Z" fill="#39289d"/><path d="M171.5 196.6L178.4 194.9L182.5 196.2L175.6 197.6Z" fill="#39289d"/><path d="M395.8 159.7L402.7 155.8L415.4 137.4L408.5 139Z" fill="#3835ad"/><path d="M299.2 195.4L301.7 194.7L305 195.3L302.5 195.8Z" fill="#39289d"/><path d="M156.5 196.6L166.2 194.2L171.5 196.6L161.8 197.9Z" fill="#39289d"/><path d="M386.1 167L395.8 159.7L408.5 139L398.8 152.9Z" fill="#392ea4"/><path d="M182.5 196.2L187.8 194.7L191.2 196L185.8 197.1Z" fill="#39289d"/><path d="M191.2 196L195.5 195.2L198.3 196.3L194 197.5Z" fill="#39289d"/><path d="M198.3 196.3L202 195.5L204.5 196.7L200.8 197.1Z" fill="#39289d"/><path d="M329.1 191.6L338.8 187.8L340.7 188.3L331 191.8Z" fill="#39289d"/><path d="M204.5 196.7L207.7 195.9L209.8 196.2L206.6 197.7Z" fill="#39289d"/><path d="M209.8 196.2L212.6 196L214.6 196.9L211.8 197.4Z" fill="#39289d"/><path d="M217.1 195.8L233.7 192.7L246.4 197.5L229.8 200.9Z" fill="#39289d"/><path d="M285.4 195.9L289.1 195L293.2 196.4L289.5 197.6Z" fill="#39289d"/><path d="M307.9 195.4L324.4 192.3L326.9 191.4L310.3 196.6Z" fill="#39289d"/><path d="M270.4 196.6L275.7 195.5L281 197L275.7 198.3Z" fill="#39289d"/><path d="M132.5 197.2L149.1 193.9L156.5 196.6L139.9 199.4Z" fill="#39289d"/><path d="M296.4 195.6L299.2 195.4L302.5 195.8L299.7 196.4Z" fill="#39289d"/><path d="M200.8 197.1L204.5 196.7L206.6 197.7L202.9 197.7Z" fill="#39289d"/><path d="M206.6 197.7L209.8 196.2L211.8 197.4L208.6 197.7Z" fill="#39289d"/><path d="M194 197.5L198.3 196.3L200.8 197.1L196.4 197.8Z" fill="#39289d"/><path d="M293.2 196.4L296.4 195.6L299.7 196.4L296.5 197.6Z" fill="#39289d"/><path d="M185.8 197.1L191.2 196L194 197.5L188.6 198.3Z" fill="#39289d"/><path d="M281 197L285.4 195.9L289.5 197.6L285.1 198.6Z" fill="#39289d"/><path d="M302.5 195.8L305 195.3L307.9 195.4L305.3 196.6Z" fill="#39289d"/><path d="M246.4 197.5L256.1 194.9L263.5 197.4L253.8 200Z" fill="#39289d"/><path d="M175.6 197.6L182.5 196.2L185.8 197.1L178.9 198.6Z" fill="#39289d"/><path d="M310.3 196.6L326.9 191.4L329.1 191.6L312.5 197.4Z" fill="#39289d"/><path d="M369.5 170.3L386.1 167L398.8 152.9L382.2 154Z" fill="#392ea4"/><path d="M161.8 197.9L171.5 196.6L175.6 197.6L165.9 200Z" fill="#39289d"/><path d="M299.7 196.4L302.5 195.8L305.3 196.6L302.5 198.1Z" fill="#39289d"/><path d="M202.9 197.7L206.6 197.7L208.6 197.7L204.9 198.8Z" fill="#39289d"/><path d="M289.5 197.6L293.2 196.4L296.5 197.6L292.8 198.2Z" fill="#39289d"/><path d="M263.5 197.4L270.4 196.6L275.7 198.3L268.8 199.1Z" fill="#39289d"/><path d="M196.4 197.8L200.8 197.1L202.9 197.7L198.6 199.3Z" fill="#39289d"/><path d="M188.6 198.3L194 197.5L196.4 197.8L191.1 199.3Z" fill="#39289d"/><path d="M275.7 198.3L281 197L285.1 198.6L279.8 200Z" fill="#39289d"/><path d="M296.5 197.6L299.7 196.4L302.5 198.1L299.3 198.1Z" fill="#39289d"/><path d="M305.3 196.6L307.9 195.4L310.3 196.6L307.8 196.8Z" fill="#39289d"/><path d="M312.5 197.4L329.1 191.6L331 191.8L314.4 197.4Z" fill="#39289d"/><path d="M178.9 198.6L185.8 197.1L188.6 198.3L181.8 200Z" fill="#39289d"/><path d="M214.6 196.9L217.1 195.8L229.8 200.9L227.3 201.1Z" fill="#39289d"/><path d="M285.1 198.6L289.5 197.6L292.8 198.2L288.5 199.6Z" fill="#39289d"/><path d="M198.6 199.3L202.9 197.7L204.9 198.8L200.5 199.3Z" fill="#39289d"/><path d="M364.2 178L367 177.6L379.7 155.6L376.9 161.6Z" fill="#392ea4"/><path d="M302.5 198.1L305.3 196.6L307.8 196.8L305 198.1Z" fill="#39289d"/><path d="M191.1 199.3L196.4 197.8L198.6 199.3L193.2 200.4Z" fill="#39289d"/><path d="M139.9 199.4L156.5 196.6L161.8 197.9L145.2 201.3Z" fill="#39289d"/><path d="M211.8 197.4L214.6 196.9L227.3 201.1L224.5 201.9Z" fill="#39289d"/><path d="M165.9 200L175.6 197.6L178.9 198.6L169.2 201Z" fill="#39289d"/><path d="M292.8 198.2L296.5 197.6L299.3 198.1L295.6 198.6Z" fill="#39289d"/><path d="M307.8 196.8L310.3 196.6L312.5 197.4L309.9 198.2Z" fill="#39289d"/><path d="M367 177.6L369.5 170.3L382.2 154L379.7 155.6Z" fill="#392ea4"/><path d="M299.3 198.1L302.5 198.1L305 198.1L301.8 198.5Z" fill="#39289d"/><path d="M181.8 200L188.6 198.3L191.1 199.3L184.2 200.4Z" fill="#39289d"/><path d="M361 177.7L364.2 178L376.9 161.6L373.7 156.2Z" fill="#392ea4"/><path d="M268.8 199.1L275.7 198.3L279.8 200L272.9 201.2Z" fill="#39289d"/><path d="M279.8 200L285.1 198.6L288.5 199.6L283.1 200.9Z" fill="#39289d"/><path d="M193.2 200.4L198.6 199.3L200.5 199.3L195.2 200.4Z" fill="#39289d"/><path d="M253.8 200L263.5 197.4L268.8 199.1L259.1 201.8Z" fill="#39289d"/><path d="M208.6 197.7L211.8 197.4L224.5 201.9L221.3 202.7Z" fill="#39289d"/><path d="M305 198.1L307.8 196.8L309.9 198.2L307.1 198.2Z" fill="#39289d"/><path d="M288.5 199.6L292.8 198.2L295.6 198.6L291.3 200.3Z" fill="#39289d"/><path d="M309.9 198.2L312.5 197.4L314.4 197.4L311.9 198.3Z" fill="#39289d"/><path d="M229.8 200.9L246.4 197.5L253.8 200L237.2 202.9Z" fill="#39289d"/><path d="M295.6 198.6L299.3 198.1L301.8 198.5L298.1 200Z" fill="#39289d"/><path d="M184.2 200.4L191.1 199.3L193.2 200.4L186.4 201.8Z" fill="#39289d"/><path d="M169.2 201L178.9 198.6L181.8 200L172 201.6Z" fill="#39289d"/><path d="M347.6 185.6L352.9 182.9L365.6 163.6L360.3 173Z" fill="#39289d"/><path d="M340.7 188.3L347.6 185.6L360.3 173L353.4 178.4Z" fill="#39289d"/><path d="M301.8 198.5L305 198.1L307.1 198.2L303.9 199.2Z" fill="#39289d"/><path d="M204.9 198.8L208.6 197.7L221.3 202.7L217.6 203.1Z" fill="#39289d"/><path d="M307.1 198.2L309.9 198.2L311.9 198.3L309.1 198.7Z" fill="#39289d"/><path d="M357.3 178.8L361 177.7L373.7 156.2L370 159.2Z" fill="#392ea4"/><path d="M145.2 201.3L161.8 197.9L165.9 200L149.3 202.8Z" fill="#39289d"/><path d="M352.9 182.9L357.3 178.8L370 159.2L365.6 163.6Z" fill="#392ea4"/><path d="M283.1 200.9L288.5 199.6L291.3 200.3L285.9 200.6Z" fill="#39289d"/><path d="M272.9 201.2L279.8 200L283.1 200.9L276.2 201.6Z" fill="#39289d"/><path d="M186.4 201.8L193.2 200.4L195.2 200.4L188.3 202.1Z" fill="#39289d"/><path d="M291.3 200.3L295.6 198.6L298.1 200L293.7 200.2Z" fill="#39289d"/><path d="M298.1 200L301.8 198.5L303.9 199.2L300.2 200.4Z" fill="#39289d"/><path d="M172 201.6L181.8 200L184.2 200.4L174.5 202.4Z" fill="#39289d"/><path d="M303.9 199.2L307.1 198.2L309.1 198.7L305.9 199.6Z" fill="#39289d"/><path d="M331 191.8L340.7 188.3L353.4 178.4L343.7 183.1Z" fill="#39289d"/><path d="M200.5 199.3L204.9 198.8L217.6 203.1L213.2 203.9Z" fill="#39289d"/><path d="M259.1 201.8L268.8 199.1L272.9 201.2L263.2 202.9Z" fill="#39289d"/><path d="M293.7 200.2L298.1 200L300.2 200.4L295.9 201.5Z" fill="#39289d"/><path d="M300.2 200.4L303.9 199.2L305.9 199.6L302.2 200.1Z" fill="#39289d"/><path d="M149.3 202.8L165.9 200L169.2 201L152.6 203.9Z" fill="#39289d"/><path d="M285.9 200.6L291.3 200.3L293.7 200.2L288.4 202.1Z" fill="#39289d"/><path d="M174.5 202.4L184.2 200.4L186.4 201.8L176.7 203.7Z" fill="#39289d"/><path d="M227.3 201.1L229.8 200.9L237.2 202.9L234.7 203.4Z" fill="#39289d"/><path d="M276.2 201.6L283.1 200.9L285.9 200.6L279.1 203Z" fill="#39289d"/><path d="M195.2 200.4L200.5 199.3L213.2 203.9L207.9 205.2Z" fill="#39289d"/><path d="M237.2 202.9L253.8 200L259.1 201.8L242.5 205.3Z" fill="#39289d"/><path d="M176.7 203.7L186.4 201.8L188.3 202.1L178.6 203.9Z" fill="#39289d"/><path d="M263.2 202.9L272.9 201.2L276.2 201.6L266.5 204.2Z" fill="#39289d"/><path d="M224.5 201.9L227.3 201.1L234.7 203.4L231.9 204.3Z" fill="#39289d"/><path d="M295.9 201.5L300.2 200.4L302.2 200.1L297.8 200.6Z" fill="#39289d"/><path d="M288.4 202.1L293.7 200.2L295.9 201.5L290.5 202.1Z" fill="#39289d"/><path d="M152.6 203.9L169.2 201L172 201.6L155.5 205.3Z" fill="#39289d"/><path d="M314.4 197.4L331 191.8L343.7 183.1L327.1 192Z" fill="#39289d"/><path d="M279.1 203L285.9 200.6L288.4 202.1L281.5 203.5Z" fill="#39289d"/><path d="M221.3 202.7L224.5 201.9L231.9 204.3L228.7 204.9Z" fill="#39289d"/><path d="M428.8 132.3L432 130.3L439.4 115.7L436.2 120.4Z" fill="#363cb6"/><path d="M188.3 202.1L195.2 200.4L207.9 205.2L201 206.6Z" fill="#39289d"/><path d="M290.5 202.1L295.9 201.5L297.8 200.6L292.5 203Z" fill="#39289d"/><path d="M266.5 204.2L276.2 201.6L279.1 203L269.3 204.8Z" fill="#39289d"/><path d="M155.5 205.3L172 201.6L174.5 202.4L157.9 205.9Z" fill="#39289d"/><path d="M217.6 203.1L221.3 202.7L228.7 204.9L225 206Z" fill="#39289d"/><path d="M425.1 130.7L428.8 132.3L436.2 120.4L432.5 119.9Z" fill="#2f42c7"/><path d="M242.5 205.3L259.1 201.8L263.2 202.9L246.6 207Z" fill="#39289d"/><path d="M281.5 203.5L288.4 202.1L290.5 202.1L283.7 204.4Z" fill="#39289d"/><path d="M311.9 198.3L314.4 197.4L327.1 192L324.6 193.5Z" fill="#39289d"/><path d="M234.7 203.4L237.2 202.9L242.5 205.3L240 206.1Z" fill="#39289d"/><path d="M432 130.3L434.8 120L442.2 107.4L439.4 115.7Z" fill="#2f42c7"/><path d="M157.9 205.9L174.5 202.4L176.7 203.7L160.1 207.3Z" fill="#39289d"/><path d="M309.1 198.7L311.9 198.3L324.6 193.5L321.8 193.6Z" fill="#39289d"/><path d="M269.3 204.8L279.1 203L281.5 203.5L271.8 205.5Z" fill="#39289d"/><path d="M283.7 204.4L290.5 202.1L292.5 203L285.6 204Z" fill="#39289d"/><path d="M213.2 203.9L217.6 203.1L225 206L220.6 206.4Z" fill="#39289d"/><path d="M231.9 204.3L234.7 203.4L240 206.1L237.2 206Z" fill="#39289d"/><path d="M434.8 120L437.3 123.6L444.7 108L442.2 107.4Z" fill="#274ad5"/><path d="M420.7 133.5L425.1 130.7L432.5 119.9L428.1 116.7Z" fill="#2f42c7"/><path d="M178.6 203.9L188.3 202.1L201 206.6L191.3 208.5Z" fill="#39289d"/><path d="M246.6 207L263.2 202.9L266.5 204.2L249.9 207.3Z" fill="#39289d"/><path d="M305.9 199.6L309.1 198.7L321.8 193.6L318.6 194.8Z" fill="#39289d"/><path d="M160.1 207.3L176.7 203.7L178.6 203.9L162 207.4Z" fill="#39289d"/><path d="M228.7 204.9L231.9 204.3L237.2 206L234 206.6Z" fill="#39289d"/><path d="M415.4 137.4L420.7 133.5L428.1 116.7L422.8 125.8Z" fill="#363cb6"/><path d="M271.8 205.5L281.5 203.5L283.7 204.4L274 206.7Z" fill="#39289d"/><path d="M302.2 200.1L305.9 199.6L318.6 194.8L314.9 197.7Z" fill="#39289d"/><path d="M207.9 205.2L213.2 203.9L220.6 206.4L215.3 207.7Z" fill="#39289d"/><path d="M240 206.1L242.5 205.3L246.6 207L244.1 206.7Z" fill="#39289d"/><path d="M225 206L228.7 204.9L234 206.6L230.3 207.9Z" fill="#39289d"/><path d="M274 206.7L283.7 204.4L285.6 204L275.9 207.1Z" fill="#39289d"/><path d="M408.5 139L415.4 137.4L422.8 125.8L415.9 121.4Z" fill="#2f42c7"/><path d="M297.8 200.6L302.2 200.1L314.9 197.7L310.5 200.4Z" fill="#39289d"/><path d="M249.9 207.3L266.5 204.2L269.3 204.8L252.8 208.5Z" fill="#39289d"/><path d="M237.2 206L240 206.1L244.1 206.7L241.3 207.2Z" fill="#39289d"/><path d="M220.6 206.4L225 206L230.3 207.9L225.9 208.6Z" fill="#39289d"/><path d="M201 206.6L207.9 205.2L215.3 207.7L208.4 209.2Z" fill="#39289d"/><path d="M398.8 152.9L408.5 139L415.9 121.4L406.2 128.4Z" fill="#363cb6"/><path d="M234 206.6L237.2 206L241.3 207.2L238.1 208.2Z" fill="#39289d"/><path d="M292.5 203L297.8 200.6L310.5 200.4L305.2 201Z" fill="#39289d"/><path d="M244.1 206.7L246.6 207L249.9 207.3L247.4 208.1Z" fill="#39289d"/><path d="M252.8 208.5L269.3 204.8L271.8 205.5L255.2 209.1Z" fill="#39289d"/><path d="M230.3 207.9L234 206.6L238.1 208.2L234.4 208.8Z" fill="#39289d"/><path d="M241.3 207.2L244.1 206.7L247.4 208.1L244.6 208.7Z" fill="#39289d"/><path d="M162 207.4L178.6 203.9L191.3 208.5L174.7 211.8Z" fill="#39289d"/><path d="M215.3 207.7L220.6 206.4L225.9 208.6L220.6 209.6Z" fill="#39289d"/><path d="M255.2 209.1L271.8 205.5L274 206.7L257.4 209.9Z" fill="#39289d"/><path d="M285.6 204L292.5 203L305.2 201L298.3 203.7Z" fill="#39289d"/><path d="M382.2 154L398.8 152.9L406.2 128.4L389.6 136Z" fill="#363cb6"/><path d="M247.4 208.1L249.9 207.3L252.8 208.5L250.2 208.7Z" fill="#39289d"/><path d="M238.1 208.2L241.3 207.2L244.6 208.7L241.4 209.6Z" fill="#39289d"/><path d="M225.9 208.6L230.3 207.9L234.4 208.8L230 209.9Z" fill="#39289d"/><path d="M191.3 208.5L201 206.6L208.4 209.2L198.7 211.4Z" fill="#39289d"/><path d="M257.4 209.9L274 206.7L275.9 207.1L259.3 211Z" fill="#39289d"/><path d="M244.6 208.7L247.4 208.1L250.2 208.7L247.4 209.7Z" fill="#39289d"/><path d="M234.4 208.8L238.1 208.2L241.4 209.6L237.7 209.9Z" fill="#39289d"/><path d="M208.4 209.2L215.3 207.7L220.6 209.6L213.7 211.1Z" fill="#39289d"/><path d="M250.2 208.7L252.8 208.5L255.2 209.1L252.7 209.5Z" fill="#39289d"/><path d="M241.4 209.6L244.6 208.7L247.4 209.7L244.2 210.1Z" fill="#39289d"/><path d="M376.9 161.6L379.7 155.6L387.1 138.5L384.3 141.3Z" fill="#3835ad"/><path d="M220.6 209.6L225.9 208.6L230 209.9L224.7 211.4Z" fill="#39289d"/><path d="M275.9 207.1L285.6 204L298.3 203.7L288.6 207.2Z" fill="#39289d"/><path d="M379.7 155.6L382.2 154L389.6 136L387.1 138.5Z" fill="#363cb6"/><path d="M247.4 209.7L250.2 208.7L252.7 209.5L249.9 210.2Z" fill="#39289d"/><path d="M230 209.9L234.4 208.8L237.7 209.9L233.4 211.2Z" fill="#39289d"/><path d="M373.7 156.2L376.9 161.6L384.3 141.3L381.1 142.8Z" fill="#3835ad"/><path d="M353.4 178.4L360.3 173L367.7 156.9L360.8 155.2Z" fill="#3835ad"/><path d="M252.7 209.5L255.2 209.1L257.4 209.9L254.8 211Z" fill="#39289d"/><path d="M237.7 209.9L241.4 209.6L244.2 210.1L240.5 211.6Z" fill="#39289d"/><path d="M360.3 173L365.6 163.6L373 143.8L367.7 156.9Z" fill="#392ea4"/><path d="M244.2 210.1L247.4 209.7L249.9 210.2L246.7 211Z" fill="#39289d"/><path d="M249.9 210.2L252.7 209.5L254.8 211L252 210.9Z" fill="#39289d"/><path d="M343.7 183.1L353.4 178.4L360.8 155.2L351.1 166Z" fill="#392ea4"/><path d="M254.8 211L257.4 209.9L259.3 211L256.8 211.1Z" fill="#39289d"/><path d="M442.2 107.4L444.7 108L450 97.9L447.5 110.3Z" fill="#274ad5"/><path d="M213.7 211.1L220.6 209.6L224.7 211.4L217.8 212.2Z" fill="#39289d"/><path d="M224.7 211.4L230 209.9L233.4 211.2L228 211.8Z" fill="#39289d"/><path d="M198.7 211.4L208.4 209.2L213.7 211.1L204 212.9Z" fill="#39289d"/><path d="M439.4 115.7L442.2 107.4L447.5 110.3L444.7 98Z" fill="#075dee"/><path d="M432.5 119.9L436.2 120.4L441.5 103L437.8 109.7Z" fill="#274ad5"/><path d="M233.4 211.2L237.7 209.9L240.5 211.6L236.2 212.3Z" fill="#39289d"/><path d="M370 159.2L373.7 156.2L381.1 142.8L377.4 142.2Z" fill="#3835ad"/><path d="M240.5 211.6L244.2 210.1L246.7 211L243 212.1Z" fill="#39289d"/><path d="M246.7 211L249.9 210.2L252 210.9L248.8 212.1Z" fill="#39289d"/><path d="M436.2 120.4L439.4 115.7L444.7 98L441.5 103Z" fill="#1a53e3"/><path d="M252 210.9L254.8 211L256.8 211.1L254 212Z" fill="#39289d"/><path d="M174.7 211.8L191.3 208.5L198.7 211.4L182.1 214.4Z" fill="#39289d"/><path d="M365.6 163.6L370 159.2L377.4 142.2L373 143.8Z" fill="#3835ad"/><path d="M327.1 192L343.7 183.1L351.1 166L334.5 173.9Z" fill="#392ea4"/><path d="M243 212.1L246.7 211L248.8 212.1L245.1 212.8Z" fill="#39289d"/><path d="M236.2 212.3L240.5 211.6L243 212.1L238.6 212.5Z" fill="#39289d"/><path d="M248.8 212.1L252 210.9L254 212L250.8 212.6Z" fill="#39289d"/><path d="M228 211.8L233.4 211.2L236.2 212.3L230.8 213.3Z" fill="#39289d"/><path d="M259.3 211L275.9 207.1L288.6 207.2L272 211.1Z" fill="#39289d"/><path d="M217.8 212.2L224.7 211.4L228 211.8L221.1 213.6Z" fill="#39289d"/><path d="M422.8 125.8L428.1 116.7L433.4 102.2L428.1 120.5Z" fill="#2f42c7"/><path d="M428.1 116.7L432.5 119.9L437.8 109.7L433.4 102.2Z" fill="#075dee"/><path d="M204 212.9L213.7 211.1L217.8 212.2L208.1 214.8Z" fill="#39289d"/><path d="M245.1 212.8L248.8 212.1L250.8 212.6L247.1 212.6Z" fill="#39289d"/><path d="M238.6 212.5L243 212.1L245.1 212.8L240.8 213.5Z" fill="#39289d"/><path d="M324.6 193.5L327.1 192L334.5 173.9L332 172.8Z" fill="#392ea4"/><path d="M230.8 213.3L236.2 212.3L238.6 212.5L233.3 213.6Z" fill="#39289d"/><path d="M415.9 121.4L422.8 125.8L428.1 120.5L421.2 108.3Z" fill="#1a53e3"/><path d="M321.8 193.6L324.6 193.5L332 172.8L329.2 176.6Z" fill="#392ea4"/><path d="M221.1 213.6L228 211.8L230.8 213.3L224 214.8Z" fill="#39289d"/><path d="M240.8 213.5L245.1 212.8L247.1 212.6L242.7 214.5Z" fill="#39289d"/><path d="M314.9 197.7L318.6 194.8L326 177.5L322.3 184.1Z" fill="#39289d"/><path d="M318.6 194.8L321.8 193.6L329.2 176.6L326 177.5Z" fill="#392ea4"/><path d="M182.1 214.4L198.7 211.4L204 212.9L187.4 216.3Z" fill="#39289d"/><path d="M310.5 200.4L314.9 197.7L322.3 184.1L317.9 182.1Z" fill="#392ea4"/><path d="M233.3 213.6L238.6 212.5L240.8 213.5L235.4 214.5Z" fill="#39289d"/><path d="M208.1 214.8L217.8 212.2L221.1 213.6L211.4 215.7Z" fill="#39289d"/><path d="M256.8 211.1L259.3 211L272 211.1L269.5 212.1Z" fill="#39289d"/><path d="M224 214.8L230.8 213.3L233.3 213.6L226.4 215.2Z" fill="#39289d"/><path d="M305.2 201L310.5 200.4L317.9 182.1L312.6 189.3Z" fill="#39289d"/><path d="M235.4 214.5L240.8 213.5L242.7 214.5L237.4 215Z" fill="#39289d"/><path d="M254 212L256.8 211.1L269.5 212.1L266.7 211.8Z" fill="#39289d"/><path d="M211.4 215.7L221.1 213.6L224 214.8L214.2 217.1Z" fill="#39289d"/><path d="M226.4 215.2L233.3 213.6L235.4 214.5L228.6 216Z" fill="#39289d"/><path d="M298.3 203.7L305.2 201L312.6 189.3L305.7 190.4Z" fill="#39289d"/><path d="M187.4 216.3L204 212.9L208.1 214.8L191.5 218.2Z" fill="#39289d"/><path d="M250.8 212.6L254 212L266.7 211.8L263.5 212.1Z" fill="#39289d"/><path d="M444.7 98L447.5 110.3L451.6 97.5L448.8 97.3Z" fill="#0065f2"/><path d="M406.2 128.4L415.9 121.4L421.2 108.3L411.5 116.4Z" fill="#274ad5"/><path d="M447.5 110.3L450 97.9L454.1 86.5L451.6 97.5Z" fill="#075dee"/><path d="M228.6 216L235.4 214.5L237.4 215L230.5 216.7Z" fill="#39289d"/><path d="M214.2 217.1L224 214.8L226.4 215.2L216.7 218Z" fill="#39289d"/><path d="M247.1 212.6L250.8 212.6L263.5 212.1L259.8 213.4Z" fill="#39289d"/><path d="M389.6 136L406.2 128.4L411.5 116.4L394.9 131.3Z" fill="#363cb6"/><path d="M191.5 218.2L208.1 214.8L211.4 215.7L194.8 218.9Z" fill="#39289d"/><path d="M288.6 207.2L298.3 203.7L305.7 190.4L296 192.9Z" fill="#39289d"/><path d="M216.7 218L226.4 215.2L228.6 216L218.9 218.4Z" fill="#39289d"/><path d="M242.7 214.5L247.1 212.6L259.8 213.4L255.4 215.8Z" fill="#39289d"/><path d="M387.1 138.5L389.6 136L394.9 131.3L392.4 124.6Z" fill="#2f42c7"/><path d="M433.4 102.2L437.8 109.7L441.9 96.8L437.5 105.2Z" fill="#1a53e3"/><path d="M218.9 218.4L228.6 216L230.5 216.7L220.8 219.1Z" fill="#39289d"/><path d="M441.5 103L444.7 98L448.8 97.3L445.6 88.7Z" fill="#006ff0"/><path d="M237.4 215L242.7 214.5L255.4 215.8L250.1 216.5Z" fill="#39289d"/><path d="M437.8 109.7L441.5 103L445.6 88.7L441.9 96.8Z" fill="#0065f2"/><path d="M194.8 218.9L211.4 215.7L214.2 217.1L197.7 220.5Z" fill="#39289d"/><path d="M428.1 120.5L433.4 102.2L437.5 105.2L432.2 95.7Z" fill="#006af2"/><path d="M384.3 141.3L387.1 138.5L392.4 124.6L389.6 123.6Z" fill="#274ad5"/><path d="M381.1 142.8L384.3 141.3L389.6 123.6L386.4 127.8Z" fill="#2f42c7"/><path d="M197.7 220.5L214.2 217.1L216.7 218L200.1 220.9Z" fill="#39289d"/><path d="M377.4 142.2L381.1 142.8L386.4 127.8L382.7 131.4Z" fill="#2f42c7"/><path d="M230.5 216.7L237.4 215L250.1 216.5L243.2 217.3Z" fill="#39289d"/><path d="M367.7 156.9L373 143.8L378.3 132.1L373 134.1Z" fill="#2f42c7"/><path d="M272 211.1L288.6 207.2L296 192.9L279.4 195.7Z" fill="#39289d"/><path d="M373 143.8L377.4 142.2L382.7 131.4L378.3 132.1Z" fill="#2f42c7"/><path d="M421.2 108.3L428.1 120.5L432.2 95.7L425.3 102.7Z" fill="#075dee"/><path d="M200.1 220.9L216.7 218L218.9 218.4L202.3 221.8Z" fill="#39289d"/><path d="M360.8 155.2L367.7 156.9L373 134.1L366.1 133.9Z" fill="#2f42c7"/><path d="M334.5 173.9L351.1 166L356.4 148.1L339.8 162.1Z" fill="#3835ad"/><path d="M202.3 221.8L218.9 218.4L220.8 219.1L204.2 222.6Z" fill="#39289d"/><path d="M351.1 166L360.8 155.2L366.1 133.9L356.4 148.1Z" fill="#363cb6"/><path d="M220.8 219.1L230.5 216.7L243.2 217.3L233.5 221.3Z" fill="#39289d"/><path d="M322.3 184.1L326 177.5L331.3 172.4L327.6 171.1Z" fill="#392ea4"/><path d="M326 177.5L329.2 176.6L334.5 165.7L331.3 172.4Z" fill="#392ea4"/><path d="M411.5 116.4L421.2 108.3L425.3 102.7L415.6 105.7Z" fill="#075dee"/><path d="M332 172.8L334.5 173.9L339.8 162.1L337.3 156.8Z" fill="#3835ad"/><path d="M269.5 212.1L272 211.1L279.4 195.7L276.9 194Z" fill="#39289d"/><path d="M329.2 176.6L332 172.8L337.3 156.8L334.5 165.7Z" fill="#3835ad"/><path d="M317.9 182.1L322.3 184.1L327.6 171.1L323.2 167.2Z" fill="#3835ad"/><path d="M312.6 189.3L317.9 182.1L323.2 167.2L317.9 176.4Z" fill="#392ea4"/><path d="M266.7 211.8L269.5 212.1L276.9 194L274.1 193.1Z" fill="#392ea4"/><path d="M394.9 131.3L411.5 116.4L415.6 105.7L399 110.2Z" fill="#075dee"/><path d="M305.7 190.4L312.6 189.3L317.9 176.4L311 175.9Z" fill="#392ea4"/><path d="M263.5 212.1L266.7 211.8L274.1 193.1L270.9 195.9Z" fill="#39289d"/><path d="M204.2 222.6L220.8 219.1L233.5 221.3L216.9 222.2Z" fill="#39289d"/><path d="M259.8 213.4L263.5 212.1L270.9 195.9L267.2 197.4Z" fill="#39289d"/><path d="M392.4 124.6L394.9 131.3L399 110.2L396.5 113.2Z" fill="#075dee"/><path d="M296 192.9L305.7 190.4L311 175.9L301.3 186.3Z" fill="#392ea4"/><path d="M255.4 215.8L259.8 213.4L267.2 197.4L262.8 196.6Z" fill="#39289d"/><path d="M389.6 123.6L392.4 124.6L396.5 113.2L393.7 116.1Z" fill="#1a53e3"/><path d="M386.4 127.8L389.6 123.6L393.7 116.1L390.5 112.4Z" fill="#075dee"/><path d="M250.1 216.5L255.4 215.8L262.8 196.6L257.5 195Z" fill="#392ea4"/><path d="M382.7 131.4L386.4 127.8L390.5 112.4L386.8 112.1Z" fill="#075dee"/><path d="M331.3 172.4L334.5 165.7L338.6 158.7L335.4 156.1Z" fill="#3835ad"/><path d="M279.4 195.7L296 192.9L301.3 186.3L284.7 181.5Z" fill="#392ea4"/><path d="M378.3 132.1L382.7 131.4L386.8 112.1L382.4 114.1Z" fill="#075dee"/><path d="M327.6 171.1L331.3 172.4L335.4 156.1L331.7 159.3Z" fill="#3835ad"/><path d="M243.2 217.3L250.1 216.5L257.5 195L250.6 197.5Z" fill="#392ea4"/><path d="M373 134.1L378.3 132.1L382.4 114.1L377.1 119Z" fill="#1a53e3"/><path d="M334.5 165.7L337.3 156.8L341.4 149.8L338.6 158.7Z" fill="#3835ad"/><path d="M339.8 162.1L356.4 148.1L360.5 130.4L343.9 148.4Z" fill="#363cb6"/><path d="M337.3 156.8L339.8 162.1L343.9 148.4L341.4 149.8Z" fill="#363cb6"/><path d="M366.1 133.9L373 134.1L377.1 119L370.2 123.9Z" fill="#1a53e3"/><path d="M456.9 67.4L448.8 97.3L451.6 97.5L460.6 67.1Z" fill="#19baad"/><path d="M356.4 148.1L366.1 133.9L370.2 123.9L360.5 130.4Z" fill="#274ad5"/><path d="M323.2 167.2L327.6 171.1L331.7 159.3L327.3 157.9Z" fill="#3835ad"/><path d="M460.6 67.1L451.6 97.5L454.1 86.5L461.3 65.9Z" fill="#01b4c0"/><path d="M233.5 221.3L243.2 217.3L250.6 197.5L240.9 197.9Z" fill="#392ea4"/><path d="M317.9 176.4L323.2 167.2L327.3 157.9L322 159.1Z" fill="#3835ad"/><path d="M311 175.9L317.9 176.4L322 159.1L315.1 166.8Z" fill="#3835ad"/><path d="M301.3 186.3L311 175.9L315.1 166.8L305.4 174.3Z" fill="#392ea4"/><path d="M276.9 194L279.4 195.7L284.7 181.5L282.2 180.5Z" fill="#392ea4"/><path d="M452.6 67.7L445.6 88.7L448.8 97.3L456.9 67.4Z" fill="#23bca7"/><path d="M446.2 69.9L437.5 105.2L441.9 96.8L450.3 68.9Z" fill="#19baad"/><path d="M274.1 193.1L276.9 194L282.2 180.5L279.4 183.7Z" fill="#392ea4"/><path d="M450.3 68.9L441.9 96.8L445.6 88.7L452.6 67.7Z" fill="#10b8b4"/><path d="M270.9 195.9L274.1 193.1L279.4 183.7L276.2 181.7Z" fill="#392ea4"/><path d="M440 70.8L432.2 95.7L437.5 105.2L446.2 69.9Z" fill="#19baad"/><path d="M267.2 197.4L270.9 195.9L276.2 181.7L272.5 178.5Z" fill="#3835ad"/><path d="M284.7 181.5L301.3 186.3L305.4 174.3L288.8 171Z" fill="#3835ad"/><path d="M216.9 222.2L233.5 221.3L240.9 197.9L224.3 192.4Z" fill="#392ea4"/><path d="M434.6 72.7L425.3 102.7L432.2 95.7L440 70.8Z" fill="#00b2c5"/><path d="M262.8 196.6L267.2 197.4L272.5 178.5L268.1 180.4Z" fill="#392ea4"/><path d="M257.5 195L262.8 196.6L268.1 180.4L262.8 191.4Z" fill="#392ea4"/><path d="M424.4 74.6L415.6 105.7L425.3 102.7L434.6 72.7Z" fill="#08b6ba"/><path d="M250.6 197.5L257.5 195L262.8 191.4L255.9 193.6Z" fill="#392ea4"/><path d="M411.5 79.3L399 110.2L415.6 105.7L424.4 74.6Z" fill="#0097dd"/><path d="M282.2 180.5L284.7 181.5L288.8 171L286.3 170Z" fill="#3835ad"/><path d="M408.4 79.7L396.5 113.2L399 110.2L411.5 79.3Z" fill="#009cdc"/><path d="M405.9 80.4L393.7 116.1L396.5 113.2L408.4 79.7Z" fill="#009cdc"/><path d="M240.9 197.9L250.6 197.5L255.9 193.6L246.2 183.4Z" fill="#3835ad"/><path d="M279.4 183.7L282.2 180.5L286.3 170L283.5 163.5Z" fill="#363cb6"/><path d="M400.5 80.2L390.5 112.4L393.7 116.1L405.9 80.4Z" fill="#00accf"/><path d="M276.2 181.7L279.4 183.7L283.5 163.5L280.3 164.2Z" fill="#363cb6"/><path d="M262.8 191.4L268.1 180.4L272.2 176.4L266.9 182.6Z" fill="#392ea4"/><path d="M396.8 81L386.8 112.1L390.5 112.4L400.5 80.2Z" fill="#00accf"/><path d="M255.9 193.6L262.8 191.4L266.9 182.6L260 168.4Z" fill="#363cb6"/><path d="M393.4 82.2L382.4 114.1L386.8 112.1L396.8 81Z" fill="#00a5d7"/><path d="M388.8 83.6L377.1 119L382.4 114.1L393.4 82.2Z" fill="#00a1da"/><path d="M272.5 178.5L276.2 181.7L280.3 164.2L276.6 153.8Z" fill="#2f42c7"/><path d="M268.1 180.4L272.5 178.5L276.6 153.8L272.2 176.4Z" fill="#3835ad"/><path d="M335.4 156.1L338.6 158.7L351.3 103.9L348.1 106.8Z" fill="#067be8"/><path d="M338.6 158.7L341.4 149.8L354.1 101.8L351.3 103.9Z" fill="#087fe5"/><path d="M381 84.7L370.2 123.9L377.1 119L388.8 83.6Z" fill="#00a9d3"/><path d="M331.7 159.3L335.4 156.1L348.1 106.8L344.4 112.4Z" fill="#0073ee"/><path d="M327.3 157.9L331.7 159.3L344.4 112.4L340 111.4Z" fill="#0377eb"/><path d="M341.4 149.8L343.9 148.4L356.6 96L354.1 101.8Z" fill="#087fe5"/><path d="M371.7 86.9L360.5 130.4L370.2 123.9L381 84.7Z" fill="#00a5d7"/><path d="M343.9 148.4L360.5 130.4L371.7 86.9L364.2 89.3L356.6 96Z" fill="#0a88e0"/><path d="M224.3 192.4L240.9 197.9L246.2 183.4L229.6 167.9Z" fill="#363cb6"/><path d="M305.4 174.3L315.1 166.8L327.8 114L318.1 128.8Z" fill="#0065f2"/><path d="M322 159.1L327.3 157.9L340 111.4L334.7 102.4Z" fill="#0a88e0"/><path d="M315.1 166.8L322 159.1L334.7 102.4L327.8 114Z" fill="#0377eb"/><path d="M246.2 183.4L255.9 193.6L260 168.4L250.3 155.5Z" fill="#274ad5"/><path d="M288.8 171L305.4 174.3L318.1 128.8L301.5 114.9Z" fill="#067be8"/><path d="M286.3 170L288.8 171L301.5 114.9L299 112.8Z" fill="#087fe5"/><path d="M283.5 163.5L286.3 170L299 112.8L296.2 117.6Z" fill="#067be8"/><path d="M229.6 167.9L246.2 183.4L250.3 155.5L233.7 150.9Z" fill="#1a53e3"/><path d="M280.3 164.2L283.5 163.5L296.2 117.6L293 120.6Z" fill="#0377eb"/><path d="M288.8 104.8L276.6 153.8L280.3 164.2L293 120.6L289.7 104.9Z" fill="#009cdc"/><path d="M272.2 176.4L276.6 153.8L288.8 104.8L288.5 105.1L284.9 114.7Z" fill="#0a83e3"/><path d="M277.2 106.1L266.9 182.6L272.2 176.4L284.9 114.7L283.2 106.2Z" fill="#23bca7"/><path d="M271.2 107.9L260 168.4L266.9 182.6L277.2 106.1Z" fill="#00accf"/><path d="M256.9 108.3L250.3 155.5L260 168.4L271.2 107.9Z" fill="#fcfe00"/><path d="M244.2 113.1L233.7 150.9L250.3 155.5L256.9 108.3Z" fill="#00accf"/></g><line x1="77.6" y1="185.3" x2="246.4" y2="245" stroke="#262626" stroke-width="0.9"/><line x1="246.4" y1="245" x2="466.8" y2="199" stroke="#262626" stroke-width="0.9"/><line x1="77.6" y1="185.3" x2="77.6" y2="54.2" stroke="#262626" stroke-width="0.9"/><line x1="246.4" y1="245" x2="250.6" y2="246.5" stroke="#262626" stroke-width="0.8"/><line x1="301.5" y1="233.5" x2="305.7" y2="235" stroke="#262626" stroke-width="0.8"/><line x1="356.6" y1="222" x2="360.8" y2="223.5" stroke="#262626" stroke-width="0.8"/><line x1="411.7" y1="210.5" x2="415.9" y2="212" stroke="#262626" stroke-width="0.8"/><line x1="466.8" y1="199" x2="471" y2="200.5" stroke="#262626" stroke-width="0.8"/><line x1="263" y1="241.5" x2="265.2" y2="242.3" stroke="#262626" stroke-width="0.8"/><line x1="272.7" y1="239.5" x2="274.9" y2="240.3" stroke="#262626" stroke-width="0.8"/><line x1="279.6" y1="238.1" x2="281.7" y2="238.8" stroke="#262626" stroke-width="0.8"/><line x1="284.9" y1="237" x2="287.1" y2="237.7" stroke="#262626" stroke-width="0.8"/><line x1="289.3" y1="236.1" x2="291.4" y2="236.8" stroke="#262626" stroke-width="0.8"/><line x1="293" y1="235.3" x2="295.1" y2="236" stroke="#262626" stroke-width="0.8"/><line x1="296.2" y1="234.6" x2="298.3" y2="235.4" stroke="#262626" stroke-width="0.8"/><line x1="299" y1="234" x2="301.1" y2="234.8" stroke="#262626" stroke-width="0.8"/><line x1="318.1" y1="230" x2="320.3" y2="230.8" stroke="#262626" stroke-width="0.8"/><line x1="327.8" y1="228" x2="330" y2="228.8" stroke="#262626" stroke-width="0.8"/><line x1="334.7" y1="226.6" x2="336.8" y2="227.3" stroke="#262626" stroke-width="0.8"/><line x1="340" y1="225.5" x2="342.2" y2="226.2" stroke="#262626" stroke-width="0.8"/><line x1="344.4" y1="224.6" x2="346.5" y2="225.3" stroke="#262626" stroke-width="0.8"/><line x1="348.1" y1="223.8" x2="350.2" y2="224.5" stroke="#262626" stroke-width="0.8"/><line x1="351.3" y1="223.1" x2="353.4" y2="223.9" stroke="#262626" stroke-width="0.8"/><line x1="354.1" y1="222.5" x2="356.2" y2="223.3" stroke="#262626" stroke-width="0.8"/><line x1="373.2" y1="218.5" x2="375.4" y2="219.3" stroke="#262626" stroke-width="0.8"/><line x1="382.9" y1="216.5" x2="385.1" y2="217.3" stroke="#262626" stroke-width="0.8"/><line x1="389.8" y1="215.1" x2="391.9" y2="215.8" stroke="#262626" stroke-width="0.8"/><line x1="395.1" y1="214" x2="397.3" y2="214.7" stroke="#262626" stroke-width="0.8"/><line x1="399.5" y1="213.1" x2="401.6" y2="213.8" stroke="#262626" stroke-width="0.8"/><line x1="403.2" y1="212.3" x2="405.3" y2="213" stroke="#262626" stroke-width="0.8"/><line x1="406.4" y1="211.6" x2="408.5" y2="212.4" stroke="#262626" stroke-width="0.8"/><line x1="409.2" y1="211" x2="411.3" y2="211.8" stroke="#262626" stroke-width="0.8"/><line x1="428.3" y1="207" x2="430.5" y2="207.8" stroke="#262626" stroke-width="0.8"/><line x1="438" y1="205" x2="440.2" y2="205.8" stroke="#262626" stroke-width="0.8"/><line x1="444.9" y1="203.6" x2="447" y2="204.3" stroke="#262626" stroke-width="0.8"/><line x1="450.2" y1="202.5" x2="452.4" y2="203.2" stroke="#262626" stroke-width="0.8"/><line x1="454.6" y1="201.6" x2="456.7" y2="202.3" stroke="#262626" stroke-width="0.8"/><line x1="458.3" y1="200.8" x2="460.4" y2="201.5" stroke="#262626" stroke-width="0.8"/><line x1="461.5" y1="200.1" x2="463.6" y2="200.9" stroke="#262626" stroke-width="0.8"/><line x1="464.3" y1="199.5" x2="466.4" y2="200.3" stroke="#262626" stroke-width="0.8"/><line x1="77.6" y1="185.3" x2="73.2" y2="186.2" stroke="#262626" stroke-width="0.8"/><line x1="119.8" y1="200.2" x2="115.4" y2="201.1" stroke="#262626" stroke-width="0.8"/><line x1="162" y1="215.2" x2="157.6" y2="216.1" stroke="#262626" stroke-width="0.8"/><line x1="204.2" y1="230.1" x2="199.8" y2="231" stroke="#262626" stroke-width="0.8"/><line x1="246.4" y1="245" x2="242" y2="245.9" stroke="#262626" stroke-width="0.8"/><line x1="77.6" y1="145.3" x2="73.4" y2="143.8" stroke="#262626" stroke-width="0.8"/><line x1="77.6" y1="54.2" x2="73.4" y2="52.7" stroke="#262626" stroke-width="0.8"/><line x1="77.6" y1="181.6" x2="75.4" y2="180.8" stroke="#262626" stroke-width="0.8"/><line x1="77.6" y1="172.7" x2="75.4" y2="172" stroke="#262626" stroke-width="0.8"/><line x1="77.6" y1="165.5" x2="75.4" y2="164.7" stroke="#262626" stroke-width="0.8"/><line x1="77.6" y1="159.4" x2="75.4" y2="158.7" stroke="#262626" stroke-width="0.8"/><line x1="77.6" y1="154.1" x2="75.4" y2="153.4" stroke="#262626" stroke-width="0.8"/><line x1="77.6" y1="149.5" x2="75.4" y2="148.7" stroke="#262626" stroke-width="0.8"/><line x1="77.6" y1="117.9" x2="75.4" y2="117.1" stroke="#262626" stroke-width="0.8"/><line x1="77.6" y1="101.8" x2="75.4" y2="101.1" stroke="#262626" stroke-width="0.8"/><line x1="77.6" y1="90.5" x2="75.4" y2="89.7" stroke="#262626" stroke-width="0.8"/><line x1="77.6" y1="81.6" x2="75.4" y2="80.9" stroke="#262626" stroke-width="0.8"/><line x1="77.6" y1="74.4" x2="75.4" y2="73.6" stroke="#262626" stroke-width="0.8"/><line x1="77.6" y1="68.3" x2="75.4" y2="67.5" stroke="#262626" stroke-width="0.8"/><line x1="77.6" y1="63" x2="75.4" y2="62.3" stroke="#262626" stroke-width="0.8"/><line x1="77.6" y1="58.4" x2="75.4" y2="57.6" stroke="#262626" stroke-width="0.8"/><defs><linearGradient id="cb1" x1="0" y1="0" x2="0" y2="1"><stop offset="0.000%" stop-color="#fcfe00"/><stop offset="1.562%" stop-color="#fcfe00"/><stop offset="1.562%" stop-color="#faf600"/><stop offset="3.125%" stop-color="#faf600"/><stop offset="3.125%" stop-color="#f8ee01"/><stop offset="4.688%" stop-color="#f8ee01"/><stop offset="4.688%" stop-color="#f9e607"/><stop offset="6.250%" stop-color="#f9e607"/><stop offset="6.250%" stop-color="#fae00c"/><stop offset="7.812%" stop-color="#fae00c"/><stop offset="7.812%" stop-color="#fcda12"/><stop offset="9.375%" stop-color="#fcda12"/><stop offset="9.375%" stop-color="#ffd416"/><stop offset="10.938%" stop-color="#ffd416"/><stop offset="10.938%" stop-color="#ffce1b"/><stop offset="12.500%" stop-color="#ffce1b"/><stop offset="12.500%" stop-color="#ffc920"/><stop offset="14.062%" stop-color="#ffc920"/><stop offset="14.062%" stop-color="#ffc326"/><stop offset="15.625%" stop-color="#ffc326"/><stop offset="15.625%" stop-color="#ffbe2d"/><stop offset="17.188%" stop-color="#ffbe2d"/><stop offset="17.188%" stop-color="#ffba35"/><stop offset="18.750%" stop-color="#ffba35"/><stop offset="18.750%" stop-color="#f7b93c"/><stop offset="20.312%" stop-color="#f7b93c"/><stop offset="20.312%" stop-color="#efb941"/><stop offset="21.875%" stop-color="#efb941"/><stop offset="21.875%" stop-color="#e6b946"/><stop offset="23.438%" stop-color="#e6b946"/><stop offset="23.438%" stop-color="#ddba4a"/><stop offset="25.000%" stop-color="#ddba4a"/><stop offset="25.000%" stop-color="#d4bb4e"/><stop offset="26.562%" stop-color="#d4bb4e"/><stop offset="26.562%" stop-color="#cbbc52"/><stop offset="28.125%" stop-color="#cbbc52"/><stop offset="28.125%" stop-color="#c1bd56"/><stop offset="29.688%" stop-color="#c1bd56"/><stop offset="29.688%" stop-color="#b8be5a"/><stop offset="31.250%" stop-color="#b8be5a"/><stop offset="31.250%" stop-color="#aebf5e"/><stop offset="32.812%" stop-color="#aebf5e"/><stop offset="32.812%" stop-color="#a4c063"/><stop offset="34.375%" stop-color="#a4c063"/><stop offset="34.375%" stop-color="#9ac167"/><stop offset="35.938%" stop-color="#9ac167"/><stop offset="35.938%" stop-color="#8fc26c"/><stop offset="37.500%" stop-color="#8fc26c"/><stop offset="37.500%" stop-color="#83c271"/><stop offset="39.062%" stop-color="#83c271"/><stop offset="39.062%" stop-color="#78c277"/><stop offset="40.625%" stop-color="#78c277"/><stop offset="40.625%" stop-color="#6bc27d"/><stop offset="42.188%" stop-color="#6bc27d"/><stop offset="42.188%" stop-color="#5ec283"/><stop offset="43.750%" stop-color="#5ec283"/><stop offset="43.750%" stop-color="#51c28a"/><stop offset="45.312%" stop-color="#51c28a"/><stop offset="45.312%" stop-color="#44c191"/><stop offset="46.875%" stop-color="#44c191"/><stop offset="46.875%" stop-color="#38bf98"/><stop offset="48.438%" stop-color="#38bf98"/><stop offset="48.438%" stop-color="#2dbea0"/><stop offset="50.000%" stop-color="#2dbea0"/><stop offset="50.000%" stop-color="#23bca7"/><stop offset="51.562%" stop-color="#23bca7"/><stop offset="51.562%" stop-color="#19baad"/><stop offset="53.125%" stop-color="#19baad"/><stop offset="53.125%" stop-color="#10b8b4"/><stop offset="54.688%" stop-color="#10b8b4"/><stop offset="54.688%" stop-color="#08b6ba"/><stop offset="56.250%" stop-color="#08b6ba"/><stop offset="56.250%" stop-color="#01b4c0"/><stop offset="57.812%" stop-color="#01b4c0"/><stop offset="57.812%" stop-color="#00b2c5"/><stop offset="59.375%" stop-color="#00b2c5"/><stop offset="59.375%" stop-color="#00afca"/><stop offset="60.938%" stop-color="#00afca"/><stop offset="60.938%" stop-color="#00accf"/><stop offset="62.500%" stop-color="#00accf"/><stop offset="62.500%" stop-color="#00a9d3"/><stop offset="64.062%" stop-color="#00a9d3"/><stop offset="64.062%" stop-color="#00a5d7"/><stop offset="65.625%" stop-color="#00a5d7"/><stop offset="65.625%" stop-color="#00a1da"/><stop offset="67.188%" stop-color="#00a1da"/><stop offset="67.188%" stop-color="#009cdc"/><stop offset="68.750%" stop-color="#009cdc"/><stop offset="68.750%" stop-color="#0097dd"/><stop offset="70.312%" stop-color="#0097dd"/><stop offset="70.312%" stop-color="#0592de"/><stop offset="71.875%" stop-color="#0592de"/><stop offset="71.875%" stop-color="#088cdf"/><stop offset="73.438%" stop-color="#088cdf"/><stop offset="73.438%" stop-color="#0a88e0"/><stop offset="75.000%" stop-color="#0a88e0"/><stop offset="75.000%" stop-color="#0a83e3"/><stop offset="76.562%" stop-color="#0a83e3"/><stop offset="76.562%" stop-color="#087fe5"/><stop offset="78.125%" stop-color="#087fe5"/><stop offset="78.125%" stop-color="#067be8"/><stop offset="79.688%" stop-color="#067be8"/><stop offset="79.688%" stop-color="#0377eb"/><stop offset="81.250%" stop-color="#0377eb"/><stop offset="81.250%" stop-color="#0073ee"/><stop offset="82.812%" stop-color="#0073ee"/><stop offset="82.812%" stop-color="#006ff0"/><stop offset="84.375%" stop-color="#006ff0"/><stop offset="84.375%" stop-color="#006af2"/><stop offset="85.938%" stop-color="#006af2"/><stop offset="85.938%" stop-color="#0065f2"/><stop offset="87.500%" stop-color="#0065f2"/><stop offset="87.500%" stop-color="#075dee"/><stop offset="89.062%" stop-color="#075dee"/><stop offset="89.062%" stop-color="#1a53e3"/><stop offset="90.625%" stop-color="#1a53e3"/><stop offset="90.625%" stop-color="#274ad5"/><stop offset="92.188%" stop-color="#274ad5"/><stop offset="92.188%" stop-color="#2f42c7"/><stop offset="93.750%" stop-color="#2f42c7"/><stop offset="93.750%" stop-color="#363cb6"/><stop offset="95.312%" stop-color="#363cb6"/><stop offset="95.312%" stop-color="#3835ad"/><stop offset="96.875%" stop-color="#3835ad"/><stop offset="96.875%" stop-color="#392ea4"/><stop offset="98.438%" stop-color="#392ea4"/><stop offset="98.438%" stop-color="#39289d"/><stop offset="100.000%" stop-color="#39289d"/></linearGradient></defs><rect x="498.6" y="8.7" width="20.9" height="236.7" fill="url(#cb1)" stroke="#262626" stroke-width="0.9"/><line x1="517" y1="210.8" x2="519.5" y2="210.8" stroke="#262626" stroke-width="0.8"/><text x="524.1" y="215.2" font-size="12.3" fill="#262626">50</text><line x1="517" y1="173.7" x2="519.5" y2="173.7" stroke="#262626" stroke-width="0.8"/><text x="524.1" y="178.1" font-size="12.3" fill="#262626">100</text><line x1="517" y1="136.7" x2="519.5" y2="136.7" stroke="#262626" stroke-width="0.8"/><text x="524.1" y="141.1" font-size="12.3" fill="#262626">150</text><line x1="517" y1="99.6" x2="519.5" y2="99.6" stroke="#262626" stroke-width="0.8"/><text x="524.1" y="104" font-size="12.3" fill="#262626">200</text><line x1="517" y1="62.5" x2="519.5" y2="62.5" stroke="#262626" stroke-width="0.8"/><text x="524.1" y="66.9" font-size="12.3" fill="#262626">250</text><line x1="517" y1="25.4" x2="519.5" y2="25.4" stroke="#262626" stroke-width="0.8"/><text x="524.1" y="29.8" font-size="12.3" fill="#262626">300</text><line x1="96.7" y1="448.1" x2="96.7" y2="320.7" stroke="#999999" stroke-width="0.9" stroke-dasharray="1 1"/><line x1="96.7" y1="448.1" x2="266.7" y2="508.1" stroke="#999999" stroke-width="0.9" stroke-dasharray="1 1"/><line x1="106.5" y1="446.2" x2="106.5" y2="318.8" stroke="#999999" stroke-width="0.9" stroke-dasharray="1 1"/><line x1="106.5" y1="446.2" x2="276.5" y2="506.2" stroke="#999999" stroke-width="0.9" stroke-dasharray="1 1"/><line x1="113.4" y1="444.8" x2="113.4" y2="317.4" stroke="#999999" stroke-width="0.9" stroke-dasharray="1 1"/><line x1="113.4" y1="444.8" x2="283.4" y2="504.8" stroke="#999999" stroke-width="0.9" stroke-dasharray="1 1"/><line x1="118.8" y1="443.7" x2="118.8" y2="316.3" stroke="#999999" stroke-width="0.9" stroke-dasharray="1 1"/><line x1="118.8" y1="443.7" x2="288.8" y2="503.7" stroke="#999999" stroke-width="0.9" stroke-dasharray="1 1"/><line x1="123.2" y1="442.8" x2="123.2" y2="315.4" stroke="#999999" stroke-width="0.9" stroke-dasharray="1 1"/><line x1="123.2" y1="442.8" x2="293.2" y2="502.8" stroke="#999999" stroke-width="0.9" stroke-dasharray="1 1"/><line x1="126.9" y1="442.1" x2="126.9" y2="314.7" stroke="#999999" stroke-width="0.9" stroke-dasharray="1 1"/><line x1="126.9" y1="442.1" x2="296.9" y2="502.1" stroke="#999999" stroke-width="0.9" stroke-dasharray="1 1"/><line x1="130.1" y1="441.4" x2="130.1" y2="314" stroke="#999999" stroke-width="0.9" stroke-dasharray="1 1"/><line x1="130.1" y1="441.4" x2="300.1" y2="501.4" stroke="#999999" stroke-width="0.9" stroke-dasharray="1 1"/><line x1="133" y1="440.9" x2="133" y2="313.5" stroke="#999999" stroke-width="0.9" stroke-dasharray="1 1"/><line x1="133" y1="440.9" x2="303" y2="500.9" stroke="#999999" stroke-width="0.9" stroke-dasharray="1 1"/><line x1="152.2" y1="437" x2="152.2" y2="309.6" stroke="#999999" stroke-width="0.9" stroke-dasharray="1 1"/><line x1="152.2" y1="437" x2="322.2" y2="497" stroke="#999999" stroke-width="0.9" stroke-dasharray="1 1"/><line x1="162" y1="435" x2="162" y2="307.6" stroke="#999999" stroke-width="0.9" stroke-dasharray="1 1"/><line x1="162" y1="435" x2="332" y2="495" stroke="#999999" stroke-width="0.9" stroke-dasharray="1 1"/><line x1="168.9" y1="433.6" x2="168.9" y2="306.2" stroke="#999999" stroke-width="0.9" stroke-dasharray="1 1"/><line x1="168.9" y1="433.6" x2="338.9" y2="493.6" stroke="#999999" stroke-width="0.9" stroke-dasharray="1 1"/><line x1="174.3" y1="432.6" x2="174.3" y2="305.2" stroke="#999999" stroke-width="0.9" stroke-dasharray="1 1"/><line x1="174.3" y1="432.6" x2="344.3" y2="492.6" stroke="#999999" stroke-width="0.9" stroke-dasharray="1 1"/><line x1="178.7" y1="431.7" x2="178.7" y2="304.3" stroke="#999999" stroke-width="0.9" stroke-dasharray="1 1"/><line x1="178.7" y1="431.7" x2="348.7" y2="491.7" stroke="#999999" stroke-width="0.9" stroke-dasharray="1 1"/><line x1="182.4" y1="430.9" x2="182.4" y2="303.5" stroke="#999999" stroke-width="0.9" stroke-dasharray="1 1"/><line x1="182.4" y1="430.9" x2="352.4" y2="490.9" stroke="#999999" stroke-width="0.9" stroke-dasharray="1 1"/><line x1="185.6" y1="430.3" x2="185.6" y2="302.9" stroke="#999999" stroke-width="0.9" stroke-dasharray="1 1"/><line x1="185.6" y1="430.3" x2="355.6" y2="490.3" stroke="#999999" stroke-width="0.9" stroke-dasharray="1 1"/><line x1="188.5" y1="429.7" x2="188.5" y2="302.3" stroke="#999999" stroke-width="0.9" stroke-dasharray="1 1"/><line x1="188.5" y1="429.7" x2="358.5" y2="489.7" stroke="#999999" stroke-width="0.9" stroke-dasharray="1 1"/><line x1="207.7" y1="425.8" x2="207.7" y2="298.4" stroke="#999999" stroke-width="0.9" stroke-dasharray="1 1"/><line x1="207.7" y1="425.8" x2="377.7" y2="485.8" stroke="#999999" stroke-width="0.9" stroke-dasharray="1 1"/><line x1="217.5" y1="423.9" x2="217.5" y2="296.5" stroke="#999999" stroke-width="0.9" stroke-dasharray="1 1"/><line x1="217.5" y1="423.9" x2="387.5" y2="483.9" stroke="#999999" stroke-width="0.9" stroke-dasharray="1 1"/><line x1="224.4" y1="422.5" x2="224.4" y2="295.1" stroke="#999999" stroke-width="0.9" stroke-dasharray="1 1"/><line x1="224.4" y1="422.5" x2="394.4" y2="482.5" stroke="#999999" stroke-width="0.9" stroke-dasharray="1 1"/><line x1="229.8" y1="421.4" x2="229.8" y2="294" stroke="#999999" stroke-width="0.9" stroke-dasharray="1 1"/><line x1="229.8" y1="421.4" x2="399.8" y2="481.4" stroke="#999999" stroke-width="0.9" stroke-dasharray="1 1"/><line x1="234.2" y1="420.5" x2="234.2" y2="293.1" stroke="#999999" stroke-width="0.9" stroke-dasharray="1 1"/><line x1="234.2" y1="420.5" x2="404.2" y2="480.5" stroke="#999999" stroke-width="0.9" stroke-dasharray="1 1"/><line x1="237.9" y1="419.8" x2="237.9" y2="292.4" stroke="#999999" stroke-width="0.9" stroke-dasharray="1 1"/><line x1="237.9" y1="419.8" x2="407.9" y2="479.8" stroke="#999999" stroke-width="0.9" stroke-dasharray="1 1"/><line x1="241.1" y1="419.1" x2="241.1" y2="291.7" stroke="#999999" stroke-width="0.9" stroke-dasharray="1 1"/><line x1="241.1" y1="419.1" x2="411.1" y2="479.1" stroke="#999999" stroke-width="0.9" stroke-dasharray="1 1"/><line x1="244" y1="418.6" x2="244" y2="291.2" stroke="#999999" stroke-width="0.9" stroke-dasharray="1 1"/><line x1="244" y1="418.6" x2="414" y2="478.6" stroke="#999999" stroke-width="0.9" stroke-dasharray="1 1"/><line x1="263.2" y1="414.7" x2="263.2" y2="287.3" stroke="#999999" stroke-width="0.9" stroke-dasharray="1 1"/><line x1="263.2" y1="414.7" x2="433.2" y2="474.7" stroke="#999999" stroke-width="0.9" stroke-dasharray="1 1"/><line x1="273" y1="412.7" x2="273" y2="285.3" stroke="#999999" stroke-width="0.9" stroke-dasharray="1 1"/><line x1="273" y1="412.7" x2="443" y2="472.7" stroke="#999999" stroke-width="0.9" stroke-dasharray="1 1"/><line x1="279.9" y1="411.3" x2="279.9" y2="283.9" stroke="#999999" stroke-width="0.9" stroke-dasharray="1 1"/><line x1="279.9" y1="411.3" x2="449.9" y2="471.3" stroke="#999999" stroke-width="0.9" stroke-dasharray="1 1"/><line x1="285.3" y1="410.3" x2="285.3" y2="282.9" stroke="#999999" stroke-width="0.9" stroke-dasharray="1 1"/><line x1="285.3" y1="410.3" x2="455.3" y2="470.3" stroke="#999999" stroke-width="0.9" stroke-dasharray="1 1"/><line x1="289.7" y1="409.4" x2="289.7" y2="282" stroke="#999999" stroke-width="0.9" stroke-dasharray="1 1"/><line x1="289.7" y1="409.4" x2="459.7" y2="469.4" stroke="#999999" stroke-width="0.9" stroke-dasharray="1 1"/><line x1="293.4" y1="408.6" x2="293.4" y2="281.2" stroke="#999999" stroke-width="0.9" stroke-dasharray="1 1"/><line x1="293.4" y1="408.6" x2="463.4" y2="468.6" stroke="#999999" stroke-width="0.9" stroke-dasharray="1 1"/><line x1="296.6" y1="408" x2="296.6" y2="280.6" stroke="#999999" stroke-width="0.9" stroke-dasharray="1 1"/><line x1="296.6" y1="408" x2="466.6" y2="468" stroke="#999999" stroke-width="0.9" stroke-dasharray="1 1"/><line x1="299.5" y1="407.4" x2="299.5" y2="280" stroke="#999999" stroke-width="0.9" stroke-dasharray="1 1"/><line x1="299.5" y1="407.4" x2="469.5" y2="467.4" stroke="#999999" stroke-width="0.9" stroke-dasharray="1 1"/><line x1="80" y1="451.5" x2="80" y2="324.1" stroke="#c8c8c8" stroke-width="0.7"/><line x1="80" y1="451.5" x2="250" y2="511.5" stroke="#c8c8c8" stroke-width="0.7"/><line x1="135.5" y1="440.4" x2="135.5" y2="313" stroke="#c8c8c8" stroke-width="0.7"/><line x1="135.5" y1="440.4" x2="305.5" y2="500.4" stroke="#c8c8c8" stroke-width="0.7"/><line x1="191" y1="429.2" x2="191" y2="301.8" stroke="#c8c8c8" stroke-width="0.7"/><line x1="191" y1="429.2" x2="361" y2="489.2" stroke="#c8c8c8" stroke-width="0.7"/><line x1="246.5" y1="418.1" x2="246.5" y2="290.6" stroke="#c8c8c8" stroke-width="0.7"/><line x1="246.5" y1="418.1" x2="416.5" y2="478.1" stroke="#c8c8c8" stroke-width="0.7"/><line x1="302" y1="406.9" x2="302" y2="279.5" stroke="#c8c8c8" stroke-width="0.7"/><line x1="302" y1="406.9" x2="472" y2="466.9" stroke="#c8c8c8" stroke-width="0.7"/><line x1="302" y1="406.9" x2="302" y2="279.5" stroke="#c8c8c8" stroke-width="0.7"/><line x1="80" y1="451.5" x2="302" y2="406.9" stroke="#c8c8c8" stroke-width="0.7"/><line x1="344.5" y1="421.9" x2="344.5" y2="294.5" stroke="#c8c8c8" stroke-width="0.7"/><line x1="122.5" y1="466.5" x2="344.5" y2="421.9" stroke="#c8c8c8" stroke-width="0.7"/><line x1="387" y1="436.9" x2="387" y2="309.5" stroke="#c8c8c8" stroke-width="0.7"/><line x1="165" y1="481.5" x2="387" y2="436.9" stroke="#c8c8c8" stroke-width="0.7"/><line x1="429.5" y1="451.9" x2="429.5" y2="324.5" stroke="#c8c8c8" stroke-width="0.7"/><line x1="207.5" y1="496.5" x2="429.5" y2="451.9" stroke="#c8c8c8" stroke-width="0.7"/><line x1="472" y1="466.9" x2="472" y2="339.5" stroke="#c8c8c8" stroke-width="0.7"/><line x1="250" y1="511.5" x2="472" y2="466.9" stroke="#c8c8c8" stroke-width="0.7"/><line x1="80" y1="451.5" x2="302" y2="406.9" stroke="#c8c8c8" stroke-width="0.7"/><line x1="302" y1="406.9" x2="472" y2="466.9" stroke="#c8c8c8" stroke-width="0.7"/><line x1="80" y1="419.6" x2="302" y2="375" stroke="#c8c8c8" stroke-width="0.7"/><line x1="302" y1="375" x2="472" y2="435" stroke="#c8c8c8" stroke-width="0.7"/><line x1="80" y1="387.8" x2="302" y2="343.2" stroke="#c8c8c8" stroke-width="0.7"/><line x1="302" y1="343.2" x2="472" y2="403.2" stroke="#c8c8c8" stroke-width="0.7"/><line x1="80" y1="355.9" x2="302" y2="311.3" stroke="#c8c8c8" stroke-width="0.7"/><line x1="302" y1="311.3" x2="472" y2="371.3" stroke="#c8c8c8" stroke-width="0.7"/><line x1="80" y1="324.1" x2="302" y2="279.5" stroke="#c8c8c8" stroke-width="0.7"/><line x1="302" y1="279.5" x2="472" y2="339.5" stroke="#c8c8c8" stroke-width="0.7"/><g stroke="#000" stroke-width="0.45" stroke-linejoin="round"><path d="M299.5 380.4L302 379.9L314.8 384.5L312.3 384.8Z" fill="#3835ad"/><path d="M296.6 381.2L299.5 380.4L312.3 384.8L309.4 385.6Z" fill="#392ea4"/><path d="M293.4 381.2L296.6 381.2L309.4 385.6L306.2 386.1Z" fill="#3835ad"/><path d="M289.7 382.2L293.4 381.2L306.2 386.1L302.5 386.7Z" fill="#3835ad"/><path d="M285.3 383.3L289.7 382.2L302.5 386.7L298.1 387.7Z" fill="#3835ad"/><path d="M312.3 384.8L314.8 384.5L322.3 387.2L319.7 387.4Z" fill="#3835ad"/><path d="M279.9 384.1L285.3 383.3L298.1 387.7L292.7 388.8Z" fill="#3835ad"/><path d="M309.4 385.6L312.3 384.8L319.7 387.4L316.9 388.4Z" fill="#392ea4"/><path d="M306.2 386.1L309.4 385.6L316.9 388.4L313.7 388.4Z" fill="#3835ad"/><path d="M273 385.5L279.9 384.1L292.7 388.8L285.8 390.1Z" fill="#3835ad"/><path d="M302.5 386.7L306.2 386.1L313.7 388.4L310 389.4Z" fill="#3835ad"/><path d="M319.7 387.4L322.3 387.2L327.6 388.7L325 389.5Z" fill="#392ea4"/><path d="M298.1 387.7L302.5 386.7L310 389.4L305.6 390.5Z" fill="#392ea4"/><path d="M316.9 388.4L319.7 387.4L325 389.5L322.2 390.2Z" fill="#392ea4"/><path d="M263.2 387.6L273 385.5L285.8 390.1L276 391.9Z" fill="#3835ad"/><path d="M313.7 388.4L316.9 388.4L322.2 390.2L319 390.6Z" fill="#3835ad"/><path d="M292.7 388.8L298.1 387.7L305.6 390.5L300.2 391.5Z" fill="#3835ad"/><path d="M325 389.5L327.6 388.7L331.7 390.4L329.2 390.6Z" fill="#3835ad"/><path d="M310 389.4L313.7 388.4L319 390.6L315.3 391.1Z" fill="#3835ad"/><path d="M322.2 390.2L325 389.5L329.2 390.6L326.3 391.3Z" fill="#3835ad"/><path d="M285.8 390.1L292.7 388.8L300.2 391.5L293.3 393.1Z" fill="#392ea4"/><path d="M305.6 390.5L310 389.4L315.3 391.1L310.9 392.1Z" fill="#3835ad"/><path d="M319 390.6L322.2 390.2L326.3 391.3L323.1 391.8Z" fill="#3835ad"/><path d="M329.2 390.6L331.7 390.4L335.1 391.8L332.5 392Z" fill="#3835ad"/><path d="M315.3 391.1L319 390.6L323.1 391.8L319.4 393Z" fill="#392ea4"/><path d="M326.3 391.3L329.2 390.6L332.5 392L329.7 392.3Z" fill="#3835ad"/><path d="M246.5 390.8L263.2 387.6L276 391.9L259.3 395.6Z" fill="#3835ad"/><path d="M300.2 391.5L305.6 390.5L310.9 392.1L305.5 393.3Z" fill="#3835ad"/><path d="M332.5 392L335.1 391.8L337.9 392.2L335.4 392.9Z" fill="#3835ad"/><path d="M323.1 391.8L326.3 391.3L329.7 392.3L326.5 393Z" fill="#3835ad"/><path d="M310.9 392.1L315.3 391.1L319.4 393L315 393.8Z" fill="#3835ad"/><path d="M276 391.9L285.8 390.1L293.3 393.1L283.5 394.8Z" fill="#3835ad"/><path d="M329.7 392.3L332.5 392L335.4 392.9L332.5 393.7Z" fill="#3835ad"/><path d="M319.4 393L323.1 391.8L326.5 393L322.8 394.2Z" fill="#392ea4"/><path d="M293.3 393.1L300.2 391.5L305.5 393.3L298.6 394.5Z" fill="#3835ad"/><path d="M335.4 392.9L337.9 392.2L340.4 393.4L337.8 394Z" fill="#3835ad"/><path d="M326.5 393L329.7 392.3L332.5 393.7L329.3 394.4Z" fill="#392ea4"/><path d="M305.5 393.3L310.9 392.1L315 393.8L309.6 395.1Z" fill="#392ea4"/><path d="M332.5 393.7L335.4 392.9L337.8 394L335 394.4Z" fill="#3835ad"/><path d="M244 391.4L246.5 390.8L259.3 395.6L256.8 396.1Z" fill="#3835ad"/><path d="M315 393.8L319.4 393L322.8 394.2L318.4 394.9Z" fill="#3835ad"/><path d="M337.8 394L340.4 393.4L342.6 394.2L340 394.8Z" fill="#3835ad"/><path d="M322.8 394.2L326.5 393L329.3 394.4L325.6 394.7Z" fill="#3835ad"/><path d="M329.3 394.4L332.5 393.7L335 394.4L331.8 395.2Z" fill="#3835ad"/><path d="M241.1 392L244 391.4L256.8 396.1L253.9 396.5Z" fill="#3835ad"/><path d="M335 394.4L337.8 394L340 394.8L337.2 395.2Z" fill="#3835ad"/><path d="M340 394.8L342.6 394.2L344.5 394.9L342 395.3Z" fill="#3835ad"/><path d="M298.6 394.5L305.5 393.3L309.6 395.1L302.7 396Z" fill="#3835ad"/><path d="M309.6 395.1L315 393.8L318.4 394.9L313 395.6Z" fill="#3835ad"/><path d="M283.5 394.8L293.3 393.1L298.6 394.5L288.8 396.4Z" fill="#3835ad"/><path d="M318.4 394.9L322.8 394.2L325.6 394.7L321.2 395.7Z" fill="#3835ad"/><path d="M237.9 392.4L241.1 392L253.9 396.5L250.7 397.1Z" fill="#3835ad"/><path d="M325.6 394.7L329.3 394.4L331.8 395.2L328.1 395.9Z" fill="#3835ad"/><path d="M331.8 395.2L335 394.4L337.2 395.2L334 395.8Z" fill="#3835ad"/><path d="M337.2 395.2L340 394.8L342 395.3L339.1 396Z" fill="#3835ad"/><path d="M259.3 395.6L276 391.9L283.5 394.8L266.8 398Z" fill="#3835ad"/><path d="M234.2 393.4L237.9 392.4L250.7 397.1L247 397.8Z" fill="#3835ad"/><path d="M328.1 395.9L331.8 395.2L334 395.8L330.2 396.7Z" fill="#3835ad"/><path d="M334 395.8L337.2 395.2L339.1 396L335.9 396.8Z" fill="#392ea4"/><path d="M321.2 395.7L325.6 394.7L328.1 395.9L323.7 396.9Z" fill="#392ea4"/><path d="M313 395.6L318.4 394.9L321.2 395.7L315.8 397.2Z" fill="#392ea4"/><path d="M302.7 396L309.6 395.1L313 395.6L306.1 397Z" fill="#3835ad"/><path d="M330.2 396.7L334 395.8L335.9 396.8L332.2 397.5Z" fill="#392ea4"/><path d="M229.8 394.2L234.2 393.4L247 397.8L242.6 398.6Z" fill="#3835ad"/><path d="M288.8 396.4L298.6 394.5L302.7 396L292.9 398.1Z" fill="#3835ad"/><path d="M323.7 396.9L328.1 395.9L330.2 396.7L325.8 397.3Z" fill="#3835ad"/><path d="M315.8 397.2L321.2 395.7L323.7 396.9L318.3 397.8Z" fill="#3835ad"/><path d="M306.1 397L313 395.6L315.8 397.2L308.9 398Z" fill="#3835ad"/><path d="M256.8 396.1L259.3 395.6L266.8 398L264.2 398.8Z" fill="#3835ad"/><path d="M325.8 397.3L330.2 396.7L332.2 397.5L327.8 398.3Z" fill="#3835ad"/><path d="M342 395.3L344.5 394.9L357.3 398.1L354.8 398.7Z" fill="#363cb6"/><path d="M224.4 395.5L229.8 394.2L242.6 398.6L237.2 400.2Z" fill="#392ea4"/><path d="M266.8 398L283.5 394.8L288.8 396.4L272.1 399.8Z" fill="#3835ad"/><path d="M318.3 397.8L323.7 396.9L325.8 397.3L320.5 398.5Z" fill="#3835ad"/><path d="M253.9 396.5L256.8 396.1L264.2 398.8L261.4 399.2Z" fill="#3835ad"/><path d="M292.9 398.1L302.7 396L306.1 397L296.3 399.1Z" fill="#3835ad"/><path d="M339.1 396L342 395.3L354.8 398.7L351.9 399Z" fill="#363cb6"/><path d="M308.9 398L315.8 397.2L318.3 397.8L311.4 399.3Z" fill="#3835ad"/><path d="M320.5 398.5L325.8 397.3L327.8 398.3L322.4 399.4Z" fill="#392ea4"/><path d="M250.7 397.1L253.9 396.5L261.4 399.2L258.2 399.9Z" fill="#3835ad"/><path d="M335.9 396.8L339.1 396L351.9 399L348.7 400Z" fill="#363cb6"/><path d="M217.5 396.5L224.4 395.5L237.2 400.2L230.3 401.1Z" fill="#3835ad"/><path d="M311.4 399.3L318.3 397.8L320.5 398.5L313.5 399.9Z" fill="#3835ad"/><path d="M296.3 399.1L306.1 397L308.9 398L299.1 400.1Z" fill="#3835ad"/><path d="M247 397.8L250.7 397.1L258.2 399.9L254.5 400.4Z" fill="#3835ad"/><path d="M332.2 397.5L335.9 396.8L348.7 400L345 401.1Z" fill="#3835ad"/><path d="M272.1 399.8L288.8 396.4L292.9 398.1L276.2 401.1Z" fill="#3835ad"/><path d="M264.2 398.8L266.8 398L272.1 399.8L269.5 400.2Z" fill="#3835ad"/><path d="M313.5 399.9L320.5 398.5L322.4 399.4L315.5 400.5Z" fill="#3835ad"/><path d="M299.1 400.1L308.9 398L311.4 399.3L301.6 400.9Z" fill="#3835ad"/><path d="M327.8 398.3L332.2 397.5L345 401.1L340.6 402Z" fill="#3835ad"/><path d="M242.6 398.6L247 397.8L254.5 400.4L250.1 401.4Z" fill="#3835ad"/><path d="M261.4 399.2L264.2 398.8L269.5 400.2L266.7 401.2Z" fill="#392ea4"/><path d="M207.7 398.5L217.5 396.5L230.3 401.1L220.5 403.1Z" fill="#3835ad"/><path d="M276.2 401.1L292.9 398.1L296.3 399.1L279.6 402.5Z" fill="#3835ad"/><path d="M301.6 400.9L311.4 399.3L313.5 399.9L303.8 401.7Z" fill="#3835ad"/><path d="M258.2 399.9L261.4 399.2L266.7 401.2L263.5 401.7Z" fill="#3835ad"/><path d="M237.2 400.2L242.6 398.6L250.1 401.4L244.7 402.6Z" fill="#3835ad"/><path d="M322.4 399.4L327.8 398.3L340.6 402L335.2 402.9Z" fill="#3835ad"/><path d="M269.5 400.2L272.1 399.8L276.2 401.1L273.7 402.1Z" fill="#392ea4"/><path d="M354.8 398.7L357.3 398.1L364.8 400.3L362.2 400.5Z" fill="#363cb6"/><path d="M254.5 400.4L258.2 399.9L263.5 401.7L259.8 402.8Z" fill="#392ea4"/><path d="M303.8 401.7L313.5 399.9L315.5 400.5L305.7 402.4Z" fill="#3835ad"/><path d="M279.6 402.5L296.3 399.1L299.1 400.1L282.4 403.7Z" fill="#3835ad"/><path d="M266.7 401.2L269.5 400.2L273.7 402.1L270.8 402.2Z" fill="#3835ad"/><path d="M351.9 399L354.8 398.7L362.2 400.5L359.4 401.3Z" fill="#363cb6"/><path d="M250.1 401.4L254.5 400.4L259.8 402.8L255.4 403.7Z" fill="#392ea4"/><path d="M230.3 401.1L237.2 400.2L244.7 402.6L237.8 404.2Z" fill="#392ea4"/><path d="M315.5 400.5L322.4 399.4L335.2 402.9L328.3 404.3Z" fill="#3835ad"/><path d="M263.5 401.7L266.7 401.2L270.8 402.2L267.6 403.1Z" fill="#3835ad"/><path d="M348.7 400L351.9 399L359.4 401.3L356.2 402.3Z" fill="#363cb6"/><path d="M273.7 402.1L276.2 401.1L279.6 402.5L277 403.2Z" fill="#3835ad"/><path d="M282.4 403.7L299.1 400.1L301.6 400.9L284.9 404.4Z" fill="#3835ad"/><path d="M270.8 402.2L273.7 402.1L277 403.2L274.2 404Z" fill="#392ea4"/><path d="M345 401.1L348.7 400L356.2 402.3L352.5 403Z" fill="#363cb6"/><path d="M259.8 402.8L263.5 401.7L267.6 403.1L263.9 403.8Z" fill="#3835ad"/><path d="M191 401.9L207.7 398.5L220.5 403.1L203.8 406.8Z" fill="#392ea4"/><path d="M244.7 402.6L250.1 401.4L255.4 403.7L250 404.6Z" fill="#392ea4"/><path d="M284.9 404.4L301.6 400.9L303.8 401.7L287.1 405.1Z" fill="#3835ad"/><path d="M277 403.2L279.6 402.5L282.4 403.7L279.9 404.4Z" fill="#392ea4"/><path d="M267.6 403.1L270.8 402.2L274.2 404L271 404.2Z" fill="#3835ad"/><path d="M362.2 400.5L364.8 400.3L370.1 401.6L367.5 402Z" fill="#2f42c7"/><path d="M255.4 403.7L259.8 402.8L263.9 403.8L259.5 405.1Z" fill="#392ea4"/><path d="M340.6 402L345 401.1L352.5 403L348.1 403.8Z" fill="#363cb6"/><path d="M220.5 403.1L230.3 401.1L237.8 404.2L228 406.1Z" fill="#392ea4"/><path d="M274.2 404L277 403.2L279.9 404.4L277 404.8Z" fill="#3835ad"/><path d="M305.7 402.4L315.5 400.5L328.3 404.3L318.5 406.2Z" fill="#3835ad"/><path d="M287.1 405.1L303.8 401.7L305.7 402.4L289 406Z" fill="#3835ad"/><path d="M359.4 401.3L362.2 400.5L367.5 402L364.7 402.5Z" fill="#2f42c7"/><path d="M263.9 403.8L267.6 403.1L271 404.2L267.3 405.1Z" fill="#3835ad"/><path d="M237.8 404.2L244.7 402.6L250 404.6L243.1 405.9Z" fill="#3835ad"/><path d="M279.9 404.4L282.4 403.7L284.9 404.4L282.3 405.2Z" fill="#392ea4"/><path d="M271 404.2L274.2 404L277 404.8L273.8 405.3Z" fill="#3835ad"/><path d="M250 404.6L255.4 403.7L259.5 405.1L254.1 406Z" fill="#3835ad"/><path d="M356.2 402.3L359.4 401.3L364.7 402.5L361.5 403.4Z" fill="#2f42c7"/><path d="M335.2 402.9L340.6 402L348.1 403.8L342.7 405Z" fill="#363cb6"/><path d="M277 404.8L279.9 404.4L282.3 405.2L279.5 405.9Z" fill="#392ea4"/><path d="M188.5 402.3L191 401.9L203.8 406.8L201.3 407.4Z" fill="#392ea4"/><path d="M259.5 405.1L263.9 403.8L267.3 405.1L262.9 406.1Z" fill="#3835ad"/><path d="M282.3 405.2L284.9 404.4L287.1 405.1L284.5 405.7Z" fill="#3835ad"/><path d="M267.3 405.1L271 404.2L273.8 405.3L270.1 406.1Z" fill="#3835ad"/><path d="M352.5 403L356.2 402.3L361.5 403.4L357.8 404.4Z" fill="#363cb6"/><path d="M367.5 402L370.1 401.6L374.2 402.7L371.7 402.9Z" fill="#2f42c7"/><path d="M273.8 405.3L277 404.8L279.5 405.9L276.3 406Z" fill="#3835ad"/><path d="M185.6 403.1L188.5 402.3L201.3 407.4L198.4 407.8Z" fill="#3835ad"/><path d="M279.5 405.9L282.3 405.2L284.5 405.7L281.7 406.4Z" fill="#3835ad"/><path d="M364.7 402.5L367.5 402L371.7 402.9L368.8 404.2Z" fill="#2f42c7"/><path d="M284.5 405.7L287.1 405.1L289 406L286.5 406.2Z" fill="#3835ad"/><path d="M328.3 404.3L335.2 402.9L342.7 405L335.8 406.8Z" fill="#363cb6"/><path d="M243.1 405.9L250 404.6L254.1 406L247.2 407.1Z" fill="#3835ad"/><path d="M254.1 406L259.5 405.1L262.9 406.1L257.5 407.3Z" fill="#392ea4"/><path d="M228 406.1L237.8 404.2L243.1 405.9L233.3 407.7Z" fill="#3835ad"/><path d="M262.9 406.1L267.3 405.1L270.1 406.1L265.7 407.2Z" fill="#392ea4"/><path d="M182.4 403.8L185.6 403.1L198.4 407.8L195.2 408.6Z" fill="#392ea4"/><path d="M348.1 403.8L352.5 403L357.8 404.4L353.4 405Z" fill="#2f42c7"/><path d="M270.1 406.1L273.8 405.3L276.3 406L272.6 407.2Z" fill="#392ea4"/><path d="M276.3 406L279.5 405.9L281.7 406.4L278.5 406.8Z" fill="#3835ad"/><path d="M281.7 406.4L284.5 405.7L286.5 406.2L283.6 407.2Z" fill="#392ea4"/><path d="M361.5 403.4L364.7 402.5L368.8 404.2L365.6 404.8Z" fill="#2f42c7"/><path d="M203.8 406.8L220.5 403.1L228 406.1L211.3 409.1Z" fill="#3835ad"/><path d="M289 406L305.7 402.4L318.5 406.2L301.8 409.7Z" fill="#3835ad"/><path d="M178.7 404.9L182.4 403.8L195.2 408.6L191.5 409.3Z" fill="#392ea4"/><path d="M371.7 402.9L374.2 402.7L377.6 403.1L375 404.2Z" fill="#2f42c7"/><path d="M265.7 407.2L270.1 406.1L272.6 407.2L268.2 408Z" fill="#3835ad"/><path d="M257.5 407.3L262.9 406.1L265.7 407.2L260.3 408.3Z" fill="#392ea4"/><path d="M278.5 406.8L281.7 406.4L283.6 407.2L280.4 407.5Z" fill="#3835ad"/><path d="M272.6 407.2L276.3 406L278.5 406.8L274.7 407.5Z" fill="#3835ad"/><path d="M357.8 404.4L361.5 403.4L365.6 404.8L361.9 405.8Z" fill="#363cb6"/><path d="M342.7 405L348.1 403.8L353.4 405L348 406.4Z" fill="#363cb6"/><path d="M247.2 407.1L254.1 406L257.5 407.3L250.6 408.5Z" fill="#3835ad"/><path d="M368.8 404.2L371.7 402.9L375 404.2L372.2 404.5Z" fill="#2f42c7"/><path d="M318.5 406.2L328.3 404.3L335.8 406.8L326 408.6Z" fill="#363cb6"/><path d="M174.3 405.2L178.7 404.9L191.5 409.3L187.1 410.2Z" fill="#392ea4"/><path d="M233.3 407.7L243.1 405.9L247.2 407.1L237.4 409.3Z" fill="#3835ad"/><path d="M274.7 407.5L278.5 406.8L280.4 407.5L276.7 408.5Z" fill="#3835ad"/><path d="M268.2 408L272.6 407.2L274.7 407.5L270.3 408.8Z" fill="#3835ad"/><path d="M365.6 404.8L368.8 404.2L372.2 404.5L369 405.3Z" fill="#2f42c7"/><path d="M353.4 405L357.8 404.4L361.9 405.8L357.5 406.7Z" fill="#363cb6"/><path d="M260.3 408.3L265.7 407.2L268.2 408L262.8 409.1Z" fill="#3835ad"/><path d="M375 404.2L377.6 403.1L380.4 404.3L377.9 404.6Z" fill="#274ad5"/><path d="M250.6 408.5L257.5 407.3L260.3 408.3L253.4 409.8Z" fill="#392ea4"/><path d="M335.8 406.8L342.7 405L348 406.4L341.1 408.1Z" fill="#363cb6"/><path d="M201.3 407.4L203.8 406.8L211.3 409.1L208.7 409.5Z" fill="#3835ad"/><path d="M372.2 404.5L375 404.2L377.9 404.6L375 405.2Z" fill="#274ad5"/><path d="M361.9 405.8L365.6 404.8L369 405.3L365.3 406.2Z" fill="#2f42c7"/><path d="M270.3 408.8L274.7 407.5L276.7 408.5L272.3 409.5Z" fill="#392ea4"/><path d="M286.5 406.2L289 406L301.8 409.7L299.3 410.5Z" fill="#3835ad"/><path d="M168.9 406.8L174.3 405.2L187.1 410.2L181.7 410.9Z" fill="#3835ad"/><path d="M211.3 409.1L228 406.1L233.3 407.7L216.6 410.9Z" fill="#3835ad"/><path d="M262.8 409.1L268.2 408L270.3 408.8L265 409.9Z" fill="#392ea4"/><path d="M348 406.4L353.4 405L357.5 406.7L352.1 407.6Z" fill="#2f42c7"/><path d="M237.4 409.3L247.2 407.1L250.6 408.5L240.8 410.7Z" fill="#392ea4"/><path d="M198.4 407.8L201.3 407.4L208.7 409.5L205.9 410.6Z" fill="#392ea4"/><path d="M377.9 404.6L380.4 404.3L382.9 404.7L380.3 405Z" fill="#274ad5"/><path d="M283.6 407.2L286.5 406.2L299.3 410.5L296.4 411Z" fill="#3835ad"/><path d="M369 405.3L372.2 404.5L375 405.2L371.8 406.5Z" fill="#2f42c7"/><path d="M253.4 409.8L260.3 408.3L262.8 409.1L255.9 410.2Z" fill="#3835ad"/><path d="M357.5 406.7L361.9 405.8L365.3 406.2L360.9 407.2Z" fill="#2f42c7"/><path d="M265 409.9L270.3 408.8L272.3 409.5L266.9 410.6Z" fill="#392ea4"/><path d="M375 405.2L377.9 404.6L380.3 405L377.5 405.9Z" fill="#274ad5"/><path d="M195.2 408.6L198.4 407.8L205.9 410.6L202.7 411.2Z" fill="#392ea4"/><path d="M280.4 407.5L283.6 407.2L296.4 411L293.2 412.2Z" fill="#3835ad"/><path d="M365.3 406.2L369 405.3L371.8 406.5L368.1 407.1Z" fill="#2f42c7"/><path d="M162 408.1L168.9 406.8L181.7 410.9L174.8 412.3Z" fill="#3835ad"/><path d="M380.3 405L382.9 404.7L385.1 404.9L382.5 406Z" fill="#274ad5"/><path d="M326 408.6L335.8 406.8L341.1 408.1L331.3 410.4Z" fill="#363cb6"/><path d="M240.8 410.7L250.6 408.5L253.4 409.8L243.6 411.6Z" fill="#392ea4"/><path d="M371.8 406.5L375 405.2L377.5 405.9L374.3 406.9Z" fill="#274ad5"/><path d="M341.1 408.1L348 406.4L352.1 407.6L345.2 409.4Z" fill="#363cb6"/><path d="M255.9 410.2L262.8 409.1L265 409.9L258 410.9Z" fill="#3835ad"/><path d="M352.1 407.6L357.5 406.7L360.9 407.2L355.5 408.3Z" fill="#2f42c7"/><path d="M191.5 409.3L195.2 408.6L202.7 411.2L199 411.7Z" fill="#3835ad"/><path d="M301.8 409.7L318.5 406.2L326 408.6L309.3 412.1Z" fill="#363cb6"/><path d="M276.7 408.5L280.4 407.5L293.2 412.2L289.5 412.7Z" fill="#3835ad"/><path d="M377.5 405.9L380.3 405L382.5 406L379.7 406.6Z" fill="#274ad5"/><path d="M216.6 410.9L233.3 407.7L237.4 409.3L220.7 412.6Z" fill="#3835ad"/><path d="M360.9 407.2L365.3 406.2L368.1 407.1L363.7 408.1Z" fill="#2f42c7"/><path d="M368.1 407.1L371.8 406.5L374.3 406.9L370.6 407.9Z" fill="#2f42c7"/><path d="M382.5 406L385.1 404.9L387 405.9L384.5 405.7Z" fill="#1a53e3"/><path d="M208.7 409.5L211.3 409.1L216.6 410.9L214 411.4Z" fill="#3835ad"/><path d="M258 410.9L265 409.9L266.9 410.6L260 411.7Z" fill="#3835ad"/><path d="M243.6 411.6L253.4 409.8L255.9 410.2L246.1 412.5Z" fill="#392ea4"/><path d="M374.3 406.9L377.5 405.9L379.7 406.6L376.5 407.4Z" fill="#274ad5"/><path d="M272.3 409.5L276.7 408.5L289.5 412.7L285.1 413.5Z" fill="#3835ad"/><path d="M187.1 410.2L191.5 409.3L199 411.7L194.6 412.5Z" fill="#3835ad"/><path d="M379.7 406.6L382.5 406L384.5 405.7L381.6 407.1Z" fill="#274ad5"/><path d="M205.9 410.6L208.7 409.5L214 411.4L211.2 412.3Z" fill="#3835ad"/><path d="M355.5 408.3L360.9 407.2L363.7 408.1L358.3 409.3Z" fill="#2f42c7"/><path d="M363.7 408.1L368.1 407.1L370.6 407.9L366.2 408.7Z" fill="#2f42c7"/><path d="M345.2 409.4L352.1 407.6L355.5 408.3L348.6 410.1Z" fill="#2f42c7"/><path d="M370.6 407.9L374.3 406.9L376.5 407.4L372.7 408.4Z" fill="#274ad5"/><path d="M152.2 410.1L162 408.1L174.8 412.3L165 414.1Z" fill="#3835ad"/><path d="M220.7 412.6L237.4 409.3L240.8 410.7L224.1 414Z" fill="#392ea4"/><path d="M331.3 410.4L341.1 408.1L345.2 409.4L335.4 411.5Z" fill="#363cb6"/><path d="M376.5 407.4L379.7 406.6L381.6 407.1L378.4 408Z" fill="#274ad5"/><path d="M246.1 412.5L255.9 410.2L258 410.9L248.3 413.3Z" fill="#392ea4"/><path d="M202.7 411.2L205.9 410.6L211.2 412.3L208 413.1Z" fill="#392ea4"/><path d="M266.9 410.6L272.3 409.5L285.1 413.5L279.7 414.4Z" fill="#3835ad"/><path d="M181.7 410.9L187.1 410.2L194.6 412.5L189.2 413.5Z" fill="#3835ad"/><path d="M299.3 410.5L301.8 409.7L309.3 412.1L306.7 412.6Z" fill="#363cb6"/><path d="M372.7 408.4L376.5 407.4L378.4 408L374.7 409.3Z" fill="#2f42c7"/><path d="M366.2 408.7L370.6 407.9L372.7 408.4L368.3 409.2Z" fill="#274ad5"/><path d="M214 411.4L216.6 410.9L220.7 412.6L218.2 412.8Z" fill="#3835ad"/><path d="M358.3 409.3L363.7 408.1L366.2 408.7L360.8 410.1Z" fill="#2f42c7"/><path d="M248.3 413.3L258 410.9L260 411.7L250.2 414.1Z" fill="#392ea4"/><path d="M199 411.7L202.7 411.2L208 413.1L204.3 413.4Z" fill="#3835ad"/><path d="M309.3 412.1L326 408.6L331.3 410.4L314.6 413.7Z" fill="#363cb6"/><path d="M348.6 410.1L355.5 408.3L358.3 409.3L351.4 411.2Z" fill="#2f42c7"/><path d="M224.1 414L240.8 410.7L243.6 411.6L226.9 414.5Z" fill="#3835ad"/><path d="M296.4 411L299.3 410.5L306.7 412.6L303.9 413.4Z" fill="#3835ad"/><path d="M211.2 412.3L214 411.4L218.2 412.8L215.3 413.6Z" fill="#3835ad"/><path d="M335.4 411.5L345.2 409.4L348.6 410.1L338.8 412.4Z" fill="#363cb6"/><path d="M368.3 409.2L372.7 408.4L374.7 409.3L370.3 410.3Z" fill="#2f42c7"/><path d="M360.8 410.1L366.2 408.7L368.3 409.2L363 411Z" fill="#2f42c7"/><path d="M293.2 412.2L296.4 411L303.9 413.4L300.7 414.2Z" fill="#3835ad"/><path d="M260 411.7L266.9 410.6L279.7 414.4L272.8 416.4Z" fill="#3835ad"/><path d="M194.6 412.5L199 411.7L204.3 413.4L199.9 414.8Z" fill="#392ea4"/><path d="M174.8 412.3L181.7 410.9L189.2 413.5L182.3 415Z" fill="#3835ad"/><path d="M208 413.1L211.2 412.3L215.3 413.6L212.1 414.2Z" fill="#3835ad"/><path d="M351.4 411.2L358.3 409.3L360.8 410.1L353.9 411.9Z" fill="#2f42c7"/><path d="M226.9 414.5L243.6 411.6L246.1 412.5L229.4 415.9Z" fill="#392ea4"/><path d="M218.2 412.8L220.7 412.6L224.1 414L221.5 414.1Z" fill="#3835ad"/><path d="M384.5 405.7L387 405.9L399.8 407.3L397.3 407Z" fill="#006af2"/><path d="M289.5 412.7L293.2 412.2L300.7 414.2L297 415.2Z" fill="#3835ad"/><path d="M363 411L368.3 409.2L370.3 410.3L364.9 411.6Z" fill="#2f42c7"/><path d="M215.3 413.6L218.2 412.8L221.5 414.1L218.7 415.1Z" fill="#392ea4"/><path d="M204.3 413.4L208 413.1L212.1 414.2L208.4 415.2Z" fill="#3835ad"/><path d="M338.8 412.4L348.6 410.1L351.4 411.2L341.6 413.3Z" fill="#363cb6"/><path d="M314.6 413.7L331.3 410.4L335.4 411.5L318.7 414.9Z" fill="#363cb6"/><path d="M135.5 413.2L152.2 410.1L165 414.1L148.3 417.5Z" fill="#3835ad"/><path d="M189.2 413.5L194.6 412.5L199.9 414.8L194.5 415.9Z" fill="#392ea4"/><path d="M353.9 411.9L360.8 410.1L363 411L356 412.4Z" fill="#2f42c7"/><path d="M229.4 415.9L246.1 412.5L248.3 413.3L231.6 416.6Z" fill="#392ea4"/><path d="M381.6 407.1L384.5 405.7L397.3 407L394.4 408.4Z" fill="#0065f2"/><path d="M306.7 412.6L309.3 412.1L314.6 413.7L312 414.8Z" fill="#3835ad"/><path d="M285.1 413.5L289.5 412.7L297 415.2L292.6 416.2Z" fill="#3835ad"/><path d="M221.5 414.1L224.1 414L226.9 414.5L224.4 415Z" fill="#3835ad"/><path d="M212.1 414.2L215.3 413.6L218.7 415.1L215.5 415.8Z" fill="#392ea4"/><path d="M378.4 408L381.6 407.1L394.4 408.4L391.2 409.2Z" fill="#0065f2"/><path d="M199.9 414.8L204.3 413.4L208.4 415.2L204 416.2Z" fill="#392ea4"/><path d="M303.9 413.4L306.7 412.6L312 414.8L309.2 415.1Z" fill="#363cb6"/><path d="M250.2 414.1L260 411.7L272.8 416.4L263 418.2Z" fill="#3835ad"/><path d="M231.6 416.6L248.3 413.3L250.2 414.1L233.5 417.4Z" fill="#392ea4"/><path d="M341.6 413.3L351.4 411.2L353.9 411.9L344.1 414.4Z" fill="#363cb6"/><path d="M165 414.1L174.8 412.3L182.3 415L172.5 417Z" fill="#3835ad"/><path d="M356 412.4L363 411L364.9 411.6L358 412.6Z" fill="#2f42c7"/><path d="M218.7 415.1L221.5 414.1L224.4 415L221.5 415.7Z" fill="#3835ad"/><path d="M374.7 409.3L378.4 408L391.2 409.2L387.5 410.2Z" fill="#0065f2"/><path d="M208.4 415.2L212.1 414.2L215.5 415.8L211.8 416.1Z" fill="#3835ad"/><path d="M300.7 414.2L303.9 413.4L309.2 415.1L306 416.1Z" fill="#3835ad"/><path d="M182.3 415L189.2 413.5L194.5 415.9L187.6 417Z" fill="#3835ad"/><path d="M318.7 414.9L335.4 411.5L338.8 412.4L322.1 416.5Z" fill="#363cb6"/><path d="M224.4 415L226.9 414.5L229.4 415.9L226.8 416Z" fill="#3835ad"/><path d="M279.7 414.4L285.1 413.5L292.6 416.2L287.2 417.4Z" fill="#3835ad"/><path d="M215.5 415.8L218.7 415.1L221.5 415.7L218.3 416.5Z" fill="#3835ad"/><path d="M194.5 415.9L199.9 414.8L204 416.2L198.6 417.2Z" fill="#392ea4"/><path d="M344.1 414.4L353.9 411.9L356 412.4L346.3 414.8Z" fill="#2f42c7"/><path d="M370.3 410.3L374.7 409.3L387.5 410.2L383.1 411.3Z" fill="#075dee"/><path d="M312 414.8L314.6 413.7L318.7 414.9L316.2 415.5Z" fill="#363cb6"/><path d="M221.5 415.7L224.4 415L226.8 416L224 416.7Z" fill="#3835ad"/><path d="M297 415.2L300.7 414.2L306 416.1L302.3 416.5Z" fill="#3835ad"/><path d="M133 413.7L135.5 413.2L148.3 417.5L145.8 418.6Z" fill="#392ea4"/><path d="M204 416.2L208.4 415.2L211.8 416.1L207.4 417.4Z" fill="#392ea4"/><path d="M226.8 416L229.4 415.9L231.6 416.6L229 417Z" fill="#3835ad"/><path d="M211.8 416.1L215.5 415.8L218.3 416.5L214.6 417.1Z" fill="#3835ad"/><path d="M309.2 415.1L312 414.8L316.2 415.5L313.3 416.3Z" fill="#363cb6"/><path d="M130.1 414.5L133 413.7L145.8 418.6L142.9 419Z" fill="#3835ad"/><path d="M322.1 416.5L338.8 412.4L341.6 413.3L324.9 416.9Z" fill="#363cb6"/><path d="M346.3 414.8L356 412.4L358 412.6L348.2 415.4Z" fill="#2f42c7"/><path d="M218.3 416.5L221.5 415.7L224 416.7L220.8 417.1Z" fill="#3835ad"/><path d="M272.8 416.4L279.7 414.4L287.2 417.4L280.3 418.4Z" fill="#3835ad"/><path d="M224 416.7L226.8 416L229 417L226.2 417.8Z" fill="#392ea4"/><path d="M292.6 416.2L297 415.2L302.3 416.5L297.9 418Z" fill="#3835ad"/><path d="M364.9 411.6L370.3 410.3L383.1 411.3L377.7 412.9Z" fill="#075dee"/><path d="M229 417L231.6 416.6L233.5 417.4L231 417.8Z" fill="#3835ad"/><path d="M187.6 417L194.5 415.9L198.6 417.2L191.7 418.7Z" fill="#392ea4"/><path d="M306 416.1L309.2 415.1L313.3 416.3L310.1 417.4Z" fill="#3835ad"/><path d="M198.6 417.2L204 416.2L207.4 417.4L202 418.1Z" fill="#3835ad"/><path d="M172.5 417L182.3 415L187.6 417L177.8 419Z" fill="#3835ad"/><path d="M207.4 417.4L211.8 416.1L214.6 417.1L210.2 418.4Z" fill="#392ea4"/><path d="M126.9 414.8L130.1 414.5L142.9 419L139.7 419.6Z" fill="#3835ad"/><path d="M214.6 417.1L218.3 416.5L220.8 417.1L217.1 418.4Z" fill="#392ea4"/><path d="M316.2 415.5L318.7 414.9L322.1 416.5L319.5 417.1Z" fill="#363cb6"/><path d="M220.8 417.1L224 416.7L226.2 417.8L223 418Z" fill="#3835ad"/><path d="M226.2 417.8L229 417L231 417.8L228.1 418.3Z" fill="#3835ad"/><path d="M233.5 417.4L250.2 414.1L263 418.2L246.3 421.6Z" fill="#3835ad"/><path d="M324.9 416.9L341.6 413.3L344.1 414.4L327.4 418.1Z" fill="#363cb6"/><path d="M148.3 417.5L165 414.1L172.5 417L155.8 420.7Z" fill="#392ea4"/><path d="M302.3 416.5L306 416.1L310.1 417.4L306.4 418.2Z" fill="#3835ad"/><path d="M287.2 417.4L292.6 416.2L297.9 418L292.5 418.9Z" fill="#3835ad"/><path d="M313.3 416.3L316.2 415.5L319.5 417.1L316.7 417.8Z" fill="#3835ad"/><path d="M123.2 415.6L126.9 414.8L139.7 419.6L136 420.3Z" fill="#3835ad"/><path d="M397.3 407L399.8 407.3L407.3 408.3L404.7 408.1Z" fill="#006ff0"/><path d="M210.2 418.4L214.6 417.1L217.1 418.4L212.7 419.3Z" fill="#392ea4"/><path d="M223 418L226.2 417.8L228.1 418.3L224.9 419Z" fill="#392ea4"/><path d="M217.1 418.4L220.8 417.1L223 418L219.2 419Z" fill="#3835ad"/><path d="M202 418.1L207.4 417.4L210.2 418.4L204.8 419.5Z" fill="#392ea4"/><path d="M358 412.6L364.9 411.6L377.7 412.9L370.8 413.5Z" fill="#0065f2"/><path d="M327.4 418.1L344.1 414.4L346.3 414.8L329.6 418.5Z" fill="#363cb6"/><path d="M191.7 418.7L198.6 417.2L202 418.1L195.1 419.6Z" fill="#3835ad"/><path d="M310.1 417.4L313.3 416.3L316.7 417.8L313.5 418.2Z" fill="#363cb6"/><path d="M319.5 417.1L322.1 416.5L324.9 416.9L322.4 417.5Z" fill="#363cb6"/><path d="M263 418.2L272.8 416.4L280.3 418.4L270.5 420.7Z" fill="#3835ad"/><path d="M297.9 418L302.3 416.5L306.4 418.2L302 418.8Z" fill="#363cb6"/><path d="M394.4 408.4L397.3 407L404.7 408.1L401.9 409.3Z" fill="#006ff0"/><path d="M177.8 419L187.6 417L191.7 418.7L181.9 420.4Z" fill="#3835ad"/><path d="M118.8 416.9L123.2 415.6L136 420.3L131.6 420.9Z" fill="#3835ad"/><path d="M219.2 419L223 418L224.9 419L221.2 419.3Z" fill="#3835ad"/><path d="M212.7 419.3L217.1 418.4L219.2 419L214.8 419.6Z" fill="#3835ad"/><path d="M316.7 417.8L319.5 417.1L322.4 417.5L319.5 418.7Z" fill="#363cb6"/><path d="M280.3 418.4L287.2 417.4L292.5 418.9L285.6 420.5Z" fill="#3835ad"/><path d="M204.8 419.5L210.2 418.4L212.7 419.3L207.3 420.1Z" fill="#3835ad"/><path d="M391.2 409.2L394.4 408.4L401.9 409.3L398.7 409.6Z" fill="#006ff0"/><path d="M306.4 418.2L310.1 417.4L313.5 418.2L309.8 419.1Z" fill="#363cb6"/><path d="M329.6 418.5L346.3 414.8L348.2 415.4L331.5 419.1Z" fill="#363cb6"/><path d="M322.4 417.5L324.9 416.9L327.4 418.1L324.8 418.8Z" fill="#363cb6"/><path d="M195.1 419.6L202 418.1L204.8 419.5L197.9 420.5Z" fill="#3835ad"/><path d="M313.5 418.2L316.7 417.8L319.5 418.7L316.3 419.5Z" fill="#3835ad"/><path d="M231 417.8L233.5 417.4L246.3 421.6L243.8 422.1Z" fill="#3835ad"/><path d="M292.5 418.9L297.9 418L302 418.8L296.6 420.2Z" fill="#3835ad"/><path d="M145.8 418.6L148.3 417.5L155.8 420.7L153.2 421.1Z" fill="#392ea4"/><path d="M214.8 419.6L219.2 419L221.2 419.3L216.8 420.5Z" fill="#3835ad"/><path d="M387.5 410.2L391.2 409.2L398.7 409.6L395 411.1Z" fill="#006af2"/><path d="M113.4 417.7L118.8 416.9L131.6 420.9L126.2 421.9Z" fill="#3835ad"/><path d="M155.8 420.7L172.5 417L177.8 419L161.1 422.6Z" fill="#392ea4"/><path d="M348.2 415.4L358 412.6L370.8 413.5L361 416.3Z" fill="#075dee"/><path d="M319.5 418.7L322.4 417.5L324.8 418.8L322 419.2Z" fill="#363cb6"/><path d="M302 418.8L306.4 418.2L309.8 419.1L305.4 420.1Z" fill="#3835ad"/><path d="M207.3 420.1L212.7 419.3L214.8 419.6L209.5 420.8Z" fill="#3835ad"/><path d="M181.9 420.4L191.7 418.7L195.1 419.6L185.3 421.9Z" fill="#392ea4"/><path d="M228.1 418.3L231 417.8L243.8 422.1L240.9 422.5Z" fill="#3835ad"/><path d="M142.9 419L145.8 418.6L153.2 421.1L150.4 421.3Z" fill="#3835ad"/><path d="M309.8 419.1L313.5 418.2L316.3 419.5L312.6 420.1Z" fill="#363cb6"/><path d="M324.8 418.8L327.4 418.1L329.6 418.5L327 419.2Z" fill="#363cb6"/><path d="M197.9 420.5L204.8 419.5L207.3 420.1L200.4 421.4Z" fill="#3835ad"/><path d="M316.3 419.5L319.5 418.7L322 419.2L318.8 420Z" fill="#363cb6"/><path d="M383.1 411.3L387.5 410.2L395 411.1L390.6 411.3Z" fill="#006ff0"/><path d="M209.5 420.8L214.8 419.6L216.8 420.5L211.4 421.7Z" fill="#392ea4"/><path d="M224.9 419L228.1 418.3L240.9 422.5L237.7 423.3Z" fill="#3835ad"/><path d="M285.6 420.5L292.5 418.9L296.6 420.2L289.7 421.9Z" fill="#3835ad"/><path d="M322 419.2L324.8 418.8L327 419.2L324.2 419.8Z" fill="#363cb6"/><path d="M139.7 419.6L142.9 419L150.4 421.3L147.2 422.2Z" fill="#3835ad"/><path d="M270.5 420.7L280.3 418.4L285.6 420.5L275.8 422.3Z" fill="#3835ad"/><path d="M404.7 408.1L407.3 408.3L412.6 407.4L410 408.4Z" fill="#0377eb"/><path d="M296.6 420.2L302 418.8L305.4 420.1L300 421.1Z" fill="#3835ad"/><path d="M305.4 420.1L309.8 419.1L312.6 420.1L308.2 421.4Z" fill="#3835ad"/><path d="M327 419.2L329.6 418.5L331.5 419.1L329 419.9Z" fill="#363cb6"/><path d="M106.5 418.9L113.4 417.7L126.2 421.9L119.3 423.7Z" fill="#3835ad"/><path d="M312.6 420.1L316.3 419.5L318.8 420L315.1 421.1Z" fill="#3835ad"/><path d="M246.3 421.6L263 418.2L270.5 420.7L253.8 424.3Z" fill="#3835ad"/><path d="M185.3 421.9L195.1 419.6L197.9 420.5L188.1 422.5Z" fill="#3835ad"/><path d="M200.4 421.4L207.3 420.1L209.5 420.8L202.5 422.4Z" fill="#3835ad"/><path d="M318.8 420L322 419.2L324.2 419.8L321 420.7Z" fill="#363cb6"/><path d="M377.7 412.9L383.1 411.3L390.6 411.3L385.2 414.1Z" fill="#0065f2"/><path d="M221.2 419.3L224.9 419L237.7 423.3L234 424.3Z" fill="#392ea4"/><path d="M136 420.3L139.7 419.6L147.2 422.2L143.5 422.8Z" fill="#3835ad"/><path d="M161.1 422.6L177.8 419L181.9 420.4L165.2 423.8Z" fill="#3835ad"/><path d="M401.9 409.3L404.7 408.1L410 408.4L407.2 408Z" fill="#0377eb"/><path d="M324.2 419.8L327 419.2L329 419.9L326.1 420.3Z" fill="#363cb6"/><path d="M153.2 421.1L155.8 420.7L161.1 422.6L158.5 422.9Z" fill="#3835ad"/><path d="M202.5 422.4L209.5 420.8L211.4 421.7L204.5 422.9Z" fill="#3835ad"/><path d="M308.2 421.4L312.6 420.1L315.1 421.1L310.7 421.9Z" fill="#363cb6"/><path d="M300 421.1L305.4 420.1L308.2 421.4L302.8 422.1Z" fill="#3835ad"/><path d="M315.1 421.1L318.8 420L321 420.7L317.2 421.5Z" fill="#363cb6"/><path d="M398.7 409.6L401.9 409.3L407.2 408L404 410.3Z" fill="#0073ee"/><path d="M289.7 421.9L296.6 420.2L300 421.1L293.1 422.8Z" fill="#3835ad"/><path d="M321 420.7L324.2 419.8L326.1 420.3L322.9 421.2Z" fill="#363cb6"/><path d="M188.1 422.5L197.9 420.5L200.4 421.4L190.6 423.4Z" fill="#3835ad"/><path d="M216.8 420.5L221.2 419.3L234 424.3L229.6 424.9Z" fill="#3835ad"/><path d="M331.5 419.1L348.2 415.4L361 416.3L344.3 420.9Z" fill="#1a53e3"/><path d="M131.6 420.9L136 420.3L143.5 422.8L139.1 423.6Z" fill="#3835ad"/><path d="M150.4 421.3L153.2 421.1L158.5 422.9L155.7 423.3Z" fill="#3835ad"/><path d="M275.8 422.3L285.6 420.5L289.7 421.9L279.9 424.1Z" fill="#3835ad"/><path d="M370.8 413.5L377.7 412.9L385.2 414.1L378.3 415Z" fill="#006af2"/><path d="M395 411.1L398.7 409.6L404 410.3L400.3 410.5Z" fill="#0073ee"/><path d="M317.2 421.5L321 420.7L322.9 421.2L319.2 422.5Z" fill="#3835ad"/><path d="M310.7 421.9L315.1 421.1L317.2 421.5L312.8 422.9Z" fill="#3835ad"/><path d="M165.2 423.8L181.9 420.4L185.3 421.9L168.6 425.1Z" fill="#3835ad"/><path d="M96.7 420.8L106.5 418.9L119.3 423.7L109.5 425.6Z" fill="#3835ad"/><path d="M302.8 422.1L308.2 421.4L310.7 421.9L305.3 423.5Z" fill="#3835ad"/><path d="M410 408.4L412.6 407.4L416.7 408.2L414.2 410.2Z" fill="#0073ee"/><path d="M190.6 423.4L200.4 421.4L202.5 422.4L192.8 424Z" fill="#3835ad"/><path d="M147.2 422.2L150.4 421.3L155.7 423.3L152.5 424.3Z" fill="#392ea4"/><path d="M243.8 422.1L246.3 421.6L253.8 424.3L251.2 424.6Z" fill="#3835ad"/><path d="M293.1 422.8L300 421.1L302.8 422.1L295.9 423.8Z" fill="#3835ad"/><path d="M211.4 421.7L216.8 420.5L229.6 424.9L224.2 425.8Z" fill="#3835ad"/><path d="M390.6 411.3L395 411.1L400.3 410.5L395.9 413.2Z" fill="#006ff0"/><path d="M126.2 421.9L131.6 420.9L139.1 423.6L133.7 424.8Z" fill="#3835ad"/><path d="M253.8 424.3L270.5 420.7L275.8 422.3L259.1 425.8Z" fill="#3835ad"/><path d="M158.5 422.9L161.1 422.6L165.2 423.8L162.7 424Z" fill="#3835ad"/><path d="M407.2 408L410 408.4L414.2 410.2L411.3 410.2Z" fill="#0377eb"/><path d="M312.8 422.9L317.2 421.5L319.2 422.5L314.8 423Z" fill="#363cb6"/><path d="M192.8 424L202.5 422.4L204.5 422.9L194.7 425.1Z" fill="#392ea4"/><path d="M305.3 423.5L310.7 421.9L312.8 422.9L307.5 424Z" fill="#3835ad"/><path d="M240.9 422.5L243.8 422.1L251.2 424.6L248.4 425Z" fill="#3835ad"/><path d="M143.5 422.8L147.2 422.2L152.5 424.3L148.8 424.6Z" fill="#3835ad"/><path d="M279.9 424.1L289.7 421.9L293.1 422.8L283.3 425Z" fill="#3835ad"/><path d="M168.6 425.1L185.3 421.9L188.1 422.5L171.4 426.1Z" fill="#392ea4"/><path d="M329 419.9L331.5 419.1L344.3 420.9L341.8 422.2Z" fill="#274ad5"/><path d="M155.7 423.3L158.5 422.9L162.7 424L159.8 424.7Z" fill="#3835ad"/><path d="M404 410.3L407.2 408L411.3 410.2L408.1 410.3Z" fill="#0377eb"/><path d="M295.9 423.8L302.8 422.1L305.3 423.5L298.4 424.6Z" fill="#3835ad"/><path d="M385.2 414.1L390.6 411.3L395.9 413.2L390.5 412.8Z" fill="#0073ee"/><path d="M361 416.3L370.8 413.5L378.3 415L368.5 417.7Z" fill="#0065f2"/><path d="M237.7 423.3L240.9 422.5L248.4 425L245.2 425.9Z" fill="#3835ad"/><path d="M307.5 424L312.8 422.9L314.8 423L309.4 424.3Z" fill="#363cb6"/><path d="M326.1 420.3L329 419.9L341.8 422.2L338.9 422.7Z" fill="#274ad5"/><path d="M204.5 422.9L211.4 421.7L224.2 425.8L217.3 427.5Z" fill="#3835ad"/><path d="M139.1 423.6L143.5 422.8L148.8 424.6L144.4 425.7Z" fill="#3835ad"/><path d="M119.3 423.7L126.2 421.9L133.7 424.8L126.8 425.9Z" fill="#3835ad"/><path d="M152.5 424.3L155.7 423.3L159.8 424.7L156.6 425.6Z" fill="#3835ad"/><path d="M414.2 410.2L416.7 408.2L420.1 407.4L417.5 409Z" fill="#067be8"/><path d="M400.3 410.5L404 410.3L408.1 410.3L404.4 411.4Z" fill="#0377eb"/><path d="M162.7 424L165.2 423.8L168.6 425.1L166 425.6Z" fill="#3835ad"/><path d="M171.4 426.1L188.1 422.5L190.6 423.4L173.9 426.9Z" fill="#3835ad"/><path d="M283.3 425L293.1 422.8L295.9 423.8L286.1 425.9Z" fill="#3835ad"/><path d="M298.4 424.6L305.3 423.5L307.5 424L300.5 425.4Z" fill="#3835ad"/><path d="M234 424.3L237.7 423.3L245.2 425.9L241.5 426.7Z" fill="#3835ad"/><path d="M259.1 425.8L275.8 422.3L279.9 424.1L263.2 427.5Z" fill="#3835ad"/><path d="M322.9 421.2L326.1 420.3L338.9 422.7L335.7 423.5Z" fill="#274ad5"/><path d="M411.3 410.2L414.2 410.2L417.5 409L414.7 408.3Z" fill="#0a83e3"/><path d="M148.8 424.6L152.5 424.3L156.6 425.6L152.9 426.1Z" fill="#3835ad"/><path d="M251.2 424.6L253.8 424.3L259.1 425.8L256.5 426.7Z" fill="#3835ad"/><path d="M378.3 415L385.2 414.1L390.5 412.8L383.6 415.8Z" fill="#006ff0"/><path d="M159.8 424.7L162.7 424L166 425.6L163.2 426Z" fill="#3835ad"/><path d="M80 424.6L96.7 420.8L109.5 425.6L92.8 429.3Z" fill="#392ea4"/><path d="M395.9 413.2L400.3 410.5L404.4 411.4L400 412.2Z" fill="#0377eb"/><path d="M133.7 424.8L139.1 423.6L144.4 425.7L139 426.6Z" fill="#3835ad"/><path d="M173.9 426.9L190.6 423.4L192.8 424L176.1 427.5Z" fill="#3835ad"/><path d="M300.5 425.4L307.5 424L309.4 424.3L302.5 426.2Z" fill="#3835ad"/><path d="M319.2 422.5L322.9 421.2L335.7 423.5L332 424Z" fill="#274ad5"/><path d="M229.6 424.9L234 424.3L241.5 426.7L237.1 427.8Z" fill="#392ea4"/><path d="M286.1 425.9L295.9 423.8L298.4 424.6L288.6 427.1Z" fill="#3835ad"/><path d="M408.1 410.3L411.3 410.2L414.7 408.3L411.5 411.3Z" fill="#0377eb"/><path d="M166 425.6L168.6 425.1L171.4 426.1L168.9 426.6Z" fill="#3835ad"/><path d="M248.4 425L251.2 424.6L256.5 426.7L253.7 427Z" fill="#3835ad"/><path d="M156.6 425.6L159.8 424.7L163.2 426L160 426.6Z" fill="#3835ad"/><path d="M194.7 425.1L204.5 422.9L217.3 427.5L207.5 429.5Z" fill="#3835ad"/><path d="M144.4 425.7L148.8 424.6L152.9 426.1L148.5 427.2Z" fill="#3835ad"/><path d="M390.5 412.8L395.9 413.2L400 412.2L394.6 415.3Z" fill="#006ff0"/><path d="M417.5 409L420.1 407.4L422.9 408.4L420.4 408.4Z" fill="#0a83e3"/><path d="M109.5 425.6L119.3 423.7L126.8 425.9L117 428.4Z" fill="#3835ad"/><path d="M176.1 427.5L192.8 424L194.7 425.1L178 428.6Z" fill="#392ea4"/><path d="M263.2 427.5L279.9 424.1L283.3 425L266.6 428.9Z" fill="#3835ad"/><path d="M404.4 411.4L408.1 410.3L411.5 411.3L407.8 411Z" fill="#067be8"/><path d="M163.2 426L166 425.6L168.9 426.6L166 426.9Z" fill="#3835ad"/><path d="M314.8 423L319.2 422.5L332 424L327.6 425.8Z" fill="#2f42c7"/><path d="M245.2 425.9L248.4 425L253.7 427L250.5 427.7Z" fill="#3835ad"/><path d="M288.6 427.1L298.4 424.6L300.5 425.4L290.8 427.7Z" fill="#3835ad"/><path d="M344.3 420.9L361 416.3L368.5 417.7L351.8 422.1Z" fill="#075dee"/><path d="M152.9 426.1L156.6 425.6L160 426.6L156.3 427.6Z" fill="#392ea4"/><path d="M168.9 426.6L171.4 426.1L173.9 426.9L171.3 427.1Z" fill="#3835ad"/><path d="M224.2 425.8L229.6 424.9L237.1 427.8L231.7 428.7Z" fill="#3835ad"/><path d="M126.8 425.9L133.7 424.8L139 426.6L132.1 427.9Z" fill="#3835ad"/><path d="M414.7 408.3L417.5 409L420.4 408.4L417.5 409Z" fill="#0a83e3"/><path d="M368.5 417.7L378.3 415L383.6 415.8L373.8 417.5Z" fill="#006ff0"/><path d="M256.5 426.7L259.1 425.8L263.2 427.5L260.7 428Z" fill="#3835ad"/><path d="M160 426.6L163.2 426L166 426.9L162.8 427.9Z" fill="#392ea4"/><path d="M139 426.6L144.4 425.7L148.5 427.2L143.1 428Z" fill="#3835ad"/><path d="M241.5 426.7L245.2 425.9L250.5 427.7L246.8 428.5Z" fill="#3835ad"/><path d="M290.8 427.7L300.5 425.4L302.5 426.2L292.7 428.4Z" fill="#3835ad"/><path d="M400 412.2L404.4 411.4L407.8 411L403.4 411.4Z" fill="#087fe5"/><path d="M411.5 411.3L414.7 408.3L417.5 409L414.3 410.3Z" fill="#087fe5"/><path d="M166 426.9L168.9 426.6L171.3 427.1L168.5 428Z" fill="#3835ad"/><path d="M383.6 415.8L390.5 412.8L394.6 415.3L387.7 415.8Z" fill="#0073ee"/><path d="M266.6 428.9L283.3 425L286.1 425.9L269.4 429.9Z" fill="#3835ad"/><path d="M148.5 427.2L152.9 426.1L156.3 427.6L151.9 428.5Z" fill="#392ea4"/><path d="M309.4 424.3L314.8 423L327.6 425.8L322.2 426.8Z" fill="#2f42c7"/><path d="M253.7 427L256.5 426.7L260.7 428L257.8 428.3Z" fill="#3835ad"/><path d="M420.4 408.4L422.9 408.4L425.4 407.8L422.8 407.8Z" fill="#0a88e0"/><path d="M171.3 427.1L173.9 426.9L176.1 427.5L173.5 428.4Z" fill="#392ea4"/><path d="M156.3 427.6L160 426.6L162.8 427.9L159.1 428.2Z" fill="#3835ad"/><path d="M407.8 411L411.5 411.3L414.3 410.3L410.6 410.9Z" fill="#087fe5"/><path d="M162.8 427.9L166 426.9L168.5 428L165.3 428.3Z" fill="#3835ad"/><path d="M237.1 427.8L241.5 426.7L246.8 428.5L242.4 429.7Z" fill="#392ea4"/><path d="M217.3 427.5L224.2 425.8L231.7 428.7L224.8 430Z" fill="#3835ad"/><path d="M417.5 409L420.4 408.4L422.8 407.8L420 409.7Z" fill="#0a83e3"/><path d="M394.6 415.3L400 412.2L403.4 411.4L398 413.5Z" fill="#067be8"/><path d="M168.5 428L171.3 427.1L173.5 428.4L170.7 428.5Z" fill="#3835ad"/><path d="M250.5 427.7L253.7 427L257.8 428.3L254.6 429.4Z" fill="#3835ad"/><path d="M341.8 422.2L344.3 420.9L351.8 422.1L349.2 423.4Z" fill="#1a53e3"/><path d="M173.5 428.4L176.1 427.5L178 428.6L175.5 428.9Z" fill="#3835ad"/><path d="M260.7 428L263.2 427.5L266.6 428.9L264 429.2Z" fill="#3835ad"/><path d="M269.4 429.9L286.1 425.9L288.6 427.1L271.9 430.6Z" fill="#3835ad"/><path d="M414.3 410.3L417.5 409L420 409.7L416.8 411.3Z" fill="#087fe5"/><path d="M143.1 428L148.5 427.2L151.9 428.5L146.5 429.5Z" fill="#392ea4"/><path d="M132.1 427.9L139 426.6L143.1 428L136.2 429.4Z" fill="#3835ad"/><path d="M422.8 407.8L425.4 407.8L427.6 409.4L425 408.9Z" fill="#0a88e0"/><path d="M151.9 428.5L156.3 427.6L159.1 428.2L154.7 429.4Z" fill="#3835ad"/><path d="M117 428.4L126.8 425.9L132.1 427.9L122.3 430.1Z" fill="#3835ad"/><path d="M302.5 426.2L309.4 424.3L322.2 426.8L315.3 428.8Z" fill="#2f42c7"/><path d="M338.9 422.7L341.8 422.2L349.2 423.4L346.4 424.3Z" fill="#1a53e3"/><path d="M159.1 428.2L162.8 427.9L165.3 428.3L161.6 429.3Z" fill="#3835ad"/><path d="M165.3 428.3L168.5 428L170.7 428.5L167.5 429.2Z" fill="#3835ad"/><path d="M403.4 411.4L407.8 411L410.6 410.9L406.2 412.4Z" fill="#087fe5"/><path d="M170.7 428.5L173.5 428.4L175.5 428.9L172.6 429.6Z" fill="#392ea4"/><path d="M246.8 428.5L250.5 427.7L254.6 429.4L250.9 430.2Z" fill="#3835ad"/><path d="M178 428.6L194.7 425.1L207.5 429.5L190.8 432.5Z" fill="#3835ad"/><path d="M257.8 428.3L260.7 428L264 429.2L261.2 429.4Z" fill="#3835ad"/><path d="M92.8 429.3L109.5 425.6L117 428.4L100.3 431.8Z" fill="#392ea4"/><path d="M231.7 428.7L237.1 427.8L242.4 429.7L237 430.8Z" fill="#392ea4"/><path d="M373.8 417.5L383.6 415.8L387.7 415.8L377.9 418.3Z" fill="#006ff0"/><path d="M387.7 415.8L394.6 415.3L398 413.5L391.1 416Z" fill="#0377eb"/><path d="M410.6 410.9L414.3 410.3L416.8 411.3L413.1 410.6Z" fill="#0a83e3"/><path d="M271.9 430.6L288.6 427.1L290.8 427.7L274.1 431.1Z" fill="#3835ad"/><path d="M420 409.7L422.8 407.8L425 408.9L422.2 408.1Z" fill="#088cdf"/><path d="M335.7 423.5L338.9 422.7L346.4 424.3L343.2 423.9Z" fill="#075dee"/><path d="M264 429.2L266.6 428.9L269.4 429.9L266.9 430.3Z" fill="#3835ad"/><path d="M351.8 422.1L368.5 417.7L373.8 417.5L357.1 422.9Z" fill="#0065f2"/><path d="M425 408.9L427.6 409.4L429.5 408.1L427 408.6Z" fill="#088cdf"/><path d="M167.5 429.2L170.7 428.5L172.6 429.6L169.4 430Z" fill="#3835ad"/><path d="M254.6 429.4L257.8 428.3L261.2 429.4L258 430.6Z" fill="#3835ad"/><path d="M161.6 429.3L165.3 428.3L167.5 429.2L163.7 430.2Z" fill="#3835ad"/><path d="M154.7 429.4L159.1 428.2L161.6 429.3L157.2 430.1Z" fill="#3835ad"/><path d="M146.5 429.5L151.9 428.5L154.7 429.4L149.3 430.1Z" fill="#3835ad"/><path d="M242.4 429.7L246.8 428.5L250.9 430.2L246.5 431Z" fill="#3835ad"/><path d="M398 413.5L403.4 411.4L406.2 412.4L400.8 414.1Z" fill="#067be8"/><path d="M416.8 411.3L420 409.7L422.2 408.1L419 409.7Z" fill="#0a88e0"/><path d="M136.2 429.4L143.1 428L146.5 429.5L139.6 430.9Z" fill="#3835ad"/><path d="M207.5 429.5L217.3 427.5L224.8 430L215 431.9Z" fill="#3835ad"/><path d="M274.1 431.1L290.8 427.7L292.7 428.4L276 432.1Z" fill="#3835ad"/><path d="M261.2 429.4L264 429.2L266.9 430.3L264 431Z" fill="#3835ad"/><path d="M332 424L335.7 423.5L343.2 423.9L339.5 426.2Z" fill="#1a53e3"/><path d="M406.2 412.4L410.6 410.9L413.1 410.6L408.7 412.6Z" fill="#087fe5"/><path d="M250.9 430.2L254.6 429.4L258 430.6L254.3 431.2Z" fill="#3835ad"/><path d="M422.2 408.1L425 408.9L427 408.6L424.1 409.6Z" fill="#0a88e0"/><path d="M292.7 428.4L302.5 426.2L315.3 428.8L305.5 431.4Z" fill="#363cb6"/><path d="M163.7 430.2L167.5 429.2L169.4 430L165.7 430.8Z" fill="#3835ad"/><path d="M122.3 430.1L132.1 427.9L136.2 429.4L126.4 431.4Z" fill="#3835ad"/><path d="M224.8 430L231.7 428.7L237 430.8L230.1 432Z" fill="#3835ad"/><path d="M266.9 430.3L269.4 429.9L271.9 430.6L269.3 430.9Z" fill="#3835ad"/><path d="M157.2 430.1L161.6 429.3L163.7 430.2L159.3 430.8Z" fill="#3835ad"/><path d="M149.3 430.1L154.7 429.4L157.2 430.1L151.8 431.6Z" fill="#392ea4"/><path d="M413.1 410.6L416.8 411.3L419 409.7L415.2 408.5Z" fill="#0592de"/><path d="M258 430.6L261.2 429.4L264 431L260.8 431.1Z" fill="#3835ad"/><path d="M327.6 425.8L332 424L339.5 426.2L335.1 427.3Z" fill="#274ad5"/><path d="M237 430.8L242.4 429.7L246.5 431L241.1 432.2Z" fill="#392ea4"/><path d="M391.1 416L398 413.5L400.8 414.1L393.9 415.6Z" fill="#067be8"/><path d="M377.9 418.3L387.7 415.8L391.1 416L381.3 417.9Z" fill="#0377eb"/><path d="M419 409.7L422.2 408.1L424.1 409.6L420.9 409.8Z" fill="#088cdf"/><path d="M139.6 430.9L146.5 429.5L149.3 430.1L142.4 431.6Z" fill="#3835ad"/><path d="M264 431L266.9 430.3L269.3 430.9L266.5 431.5Z" fill="#3835ad"/><path d="M175.5 428.9L178 428.6L190.8 432.5L188.3 433.4Z" fill="#3835ad"/><path d="M246.5 431L250.9 430.2L254.3 431.2L249.9 432.2Z" fill="#3835ad"/><path d="M349.2 423.4L351.8 422.1L357.1 422.9L354.5 423.5Z" fill="#0065f2"/><path d="M159.3 430.8L163.7 430.2L165.7 430.8L161.3 431.7Z" fill="#3835ad"/><path d="M400.8 414.1L406.2 412.4L408.7 412.6L403.3 410.8Z" fill="#088cdf"/><path d="M269.3 430.9L271.9 430.6L274.1 431.1L271.5 431.9Z" fill="#3835ad"/><path d="M100.3 431.8L117 428.4L122.3 430.1L105.6 433.4Z" fill="#3835ad"/><path d="M254.3 431.2L258 430.6L260.8 431.1L257.1 432Z" fill="#3835ad"/><path d="M151.8 431.6L157.2 430.1L159.3 430.8L154 432.2Z" fill="#392ea4"/><path d="M408.7 412.6L413.1 410.6L415.2 408.5L410.8 411.8Z" fill="#0a88e0"/><path d="M357.1 422.9L373.8 417.5L377.9 418.3L361.2 423.6Z" fill="#006af2"/><path d="M346.4 424.3L349.2 423.4L354.5 423.5L351.7 424.1Z" fill="#0065f2"/><path d="M172.6 429.6L175.5 428.9L188.3 433.4L185.4 433.7Z" fill="#3835ad"/><path d="M322.2 426.8L327.6 425.8L335.1 427.3L329.7 428.8Z" fill="#274ad5"/><path d="M260.8 431.1L264 431L266.5 431.5L263.3 432.4Z" fill="#3835ad"/><path d="M126.4 431.4L136.2 429.4L139.6 430.9L129.8 432.5Z" fill="#3835ad"/><path d="M415.2 408.5L419 409.7L420.9 409.8L417.2 410.5Z" fill="#088cdf"/><path d="M266.5 431.5L269.3 430.9L271.5 431.9L268.7 432.1Z" fill="#3835ad"/><path d="M142.4 431.6L149.3 430.1L151.8 431.6L144.9 432.8Z" fill="#3835ad"/><path d="M271.5 431.9L274.1 431.1L276 432.1L273.5 432.7Z" fill="#3835ad"/><path d="M230.1 432L237 430.8L241.1 432.2L234.2 433.4Z" fill="#3835ad"/><path d="M241.1 432.2L246.5 431L249.9 432.2L244.5 433.4Z" fill="#392ea4"/><path d="M215 431.9L224.8 430L230.1 432L220.3 434Z" fill="#3835ad"/><path d="M154 432.2L159.3 430.8L161.3 431.7L155.9 432.6Z" fill="#3835ad"/><path d="M393.9 415.6L400.8 414.1L403.3 410.8L396.4 416.9Z" fill="#067be8"/><path d="M249.9 432.2L254.3 431.2L257.1 432L252.7 433Z" fill="#3835ad"/><path d="M343.2 423.9L346.4 424.3L351.7 424.1L348.5 424.8Z" fill="#0065f2"/><path d="M169.4 430L172.6 429.6L185.4 433.7L182.2 434.2Z" fill="#3835ad"/><path d="M381.3 417.9L391.1 416L393.9 415.6L384.1 418.3Z" fill="#0377eb"/><path d="M257.1 432L260.8 431.1L263.3 432.4L259.6 432.8Z" fill="#3835ad"/><path d="M263.3 432.4L266.5 431.5L268.7 432.1L265.5 433.2Z" fill="#3835ad"/><path d="M403.3 410.8L408.7 412.6L410.8 411.8L405.5 412.1Z" fill="#0a88e0"/><path d="M268.7 432.1L271.5 431.9L273.5 432.7L270.6 433Z" fill="#3835ad"/><path d="M410.8 411.8L415.2 408.5L417.2 410.5L412.8 410.8Z" fill="#088cdf"/><path d="M144.9 432.8L151.8 431.6L154 432.2L147 433.7Z" fill="#392ea4"/><path d="M190.8 432.5L207.5 429.5L215 431.9L198.3 435.2Z" fill="#3835ad"/><path d="M129.8 432.5L139.6 430.9L142.4 431.6L132.6 433.6Z" fill="#3835ad"/><path d="M315.3 428.8L322.2 426.8L329.7 428.8L322.8 430.8Z" fill="#2f42c7"/><path d="M339.5 426.2L343.2 423.9L348.5 424.8L344.8 426.7Z" fill="#075dee"/><path d="M276 432.1L292.7 428.4L305.5 431.4L288.8 435.4Z" fill="#363cb6"/><path d="M165.7 430.8L169.4 430L182.2 434.2L178.5 435Z" fill="#3835ad"/><path d="M105.6 433.4L122.3 430.1L126.4 431.4L109.7 434.8Z" fill="#3835ad"/><path d="M354.5 423.5L357.1 422.9L361.2 423.6L358.7 424.8Z" fill="#0065f2"/><path d="M259.6 432.8L263.3 432.4L265.5 433.2L261.7 434Z" fill="#3835ad"/><path d="M265.5 433.2L268.7 432.1L270.6 433L267.4 433.9Z" fill="#3835ad"/><path d="M252.7 433L257.1 432L259.6 432.8L255.2 434Z" fill="#3835ad"/><path d="M244.5 433.4L249.9 432.2L252.7 433L247.3 434.2Z" fill="#3835ad"/><path d="M361.2 423.6L377.9 418.3L381.3 417.9L364.6 422.9Z" fill="#006ff0"/><path d="M335.1 427.3L339.5 426.2L344.8 426.7L340.4 428.2Z" fill="#1a53e3"/><path d="M427 408.6L429.5 408.1L442.3 407.4L439.8 407.2Z" fill="#00a5d7"/><path d="M234.2 433.4L241.1 432.2L244.5 433.4L237.6 434.4Z" fill="#3835ad"/><path d="M405.5 412.1L410.8 411.8L412.8 410.8L407.4 413.4Z" fill="#0a88e0"/><path d="M147 433.7L154 432.2L155.9 432.6L149 433.9Z" fill="#3835ad"/><path d="M396.4 416.9L403.3 410.8L405.5 412.1L398.5 415.5Z" fill="#0a83e3"/><path d="M351.7 424.1L354.5 423.5L358.7 424.8L355.8 424.9Z" fill="#0065f2"/><path d="M384.1 418.3L393.9 415.6L396.4 416.9L386.6 417.1Z" fill="#087fe5"/><path d="M132.6 433.6L142.4 431.6L144.9 432.8L135.1 434.9Z" fill="#392ea4"/><path d="M161.3 431.7L165.7 430.8L178.5 435L174.1 436.1Z" fill="#3835ad"/><path d="M220.3 434L230.1 432L234.2 433.4L224.4 435.3Z" fill="#3835ad"/><path d="M261.7 434L265.5 433.2L267.4 433.9L263.7 434.5Z" fill="#3835ad"/><path d="M255.2 434L259.6 432.8L261.7 434L257.3 435.1Z" fill="#392ea4"/><path d="M424.1 409.6L427 408.6L439.8 407.2L436.9 406.9Z" fill="#00a9d3"/><path d="M247.3 434.2L252.7 433L255.2 434L249.8 435Z" fill="#3835ad"/><path d="M329.7 428.8L335.1 427.3L340.4 428.2L335 429.8Z" fill="#1a53e3"/><path d="M348.5 424.8L351.7 424.1L355.8 424.9L352.6 425.9Z" fill="#0065f2"/><path d="M305.5 431.4L315.3 428.8L322.8 430.8L313 433.5Z" fill="#2f42c7"/><path d="M109.7 434.8L126.4 431.4L129.8 432.5L113.1 435.9Z" fill="#3835ad"/><path d="M135.1 434.9L144.9 432.8L147 433.7L137.3 435.2Z" fill="#3835ad"/><path d="M398.5 415.5L405.5 412.1L407.4 413.4L400.5 415Z" fill="#0a88e0"/><path d="M237.6 434.4L244.5 433.4L247.3 434.2L240.4 435.3Z" fill="#3835ad"/><path d="M188.3 433.4L190.8 432.5L198.3 435.2L195.7 436.1Z" fill="#392ea4"/><path d="M257.3 435.1L261.7 434L263.7 434.5L259.3 435.3Z" fill="#3835ad"/><path d="M273.5 432.7L276 432.1L288.8 435.4L286.3 436.2Z" fill="#3835ad"/><path d="M420.9 409.8L424.1 409.6L436.9 406.9L433.7 407.4Z" fill="#00a9d3"/><path d="M155.9 432.6L161.3 431.7L174.1 436.1L168.7 437.2Z" fill="#3835ad"/><path d="M344.8 426.7L348.5 424.8L352.6 425.9L348.9 427.1Z" fill="#0065f2"/><path d="M386.6 417.1L396.4 416.9L398.5 415.5L388.8 417.6Z" fill="#0a83e3"/><path d="M358.7 424.8L361.2 423.6L364.6 422.9L362 424.1Z" fill="#006ff0"/><path d="M364.6 422.9L381.3 417.9L384.1 418.3L367.4 422.4Z" fill="#0377eb"/><path d="M198.3 435.2L215 431.9L220.3 434L203.6 437.4Z" fill="#3835ad"/><path d="M249.8 435L255.2 434L257.3 435.1L252 435.9Z" fill="#3835ad"/><path d="M185.4 433.7L188.3 433.4L195.7 436.1L192.9 436.6Z" fill="#3835ad"/><path d="M224.4 435.3L234.2 433.4L237.6 434.4L227.8 436.5Z" fill="#3835ad"/><path d="M137.3 435.2L147 433.7L149 433.9L139.2 436.3Z" fill="#392ea4"/><path d="M322.8 430.8L329.7 428.8L335 429.8L328.1 432Z" fill="#274ad5"/><path d="M270.6 433L273.5 432.7L286.3 436.2L283.4 436.8Z" fill="#3835ad"/><path d="M355.8 424.9L358.7 424.8L362 424.1L359.2 424.4Z" fill="#006ff0"/><path d="M417.2 410.5L420.9 409.8L433.7 407.4L430 410.3Z" fill="#00a1da"/><path d="M340.4 428.2L344.8 426.7L348.9 427.1L344.5 428.7Z" fill="#075dee"/><path d="M240.4 435.3L247.3 434.2L249.8 435L242.9 436.4Z" fill="#3835ad"/><path d="M113.1 435.9L129.8 432.5L132.6 433.6L115.9 436.9Z" fill="#3835ad"/><path d="M252 435.9L257.3 435.1L259.3 435.3L253.9 436.3Z" fill="#3835ad"/><path d="M182.2 434.2L185.4 433.7L192.9 436.6L189.7 437.4Z" fill="#392ea4"/><path d="M352.6 425.9L355.8 424.9L359.2 424.4L356 426.3Z" fill="#006af2"/><path d="M267.4 433.9L270.6 433L283.4 436.8L280.2 437.7Z" fill="#3835ad"/><path d="M388.8 417.6L398.5 415.5L400.5 415L390.7 417.4Z" fill="#0a83e3"/><path d="M149 433.9L155.9 432.6L168.7 437.2L161.8 438.7Z" fill="#3835ad"/><path d="M335 429.8L340.4 428.2L344.5 428.7L339.1 430.7Z" fill="#1a53e3"/><path d="M367.4 422.4L384.1 418.3L386.6 417.1L369.9 423.1Z" fill="#0377eb"/><path d="M412.8 410.8L417.2 410.5L430 410.3L425.6 409.5Z" fill="#00a9d3"/><path d="M227.8 436.5L237.6 434.4L240.4 435.3L230.6 437.8Z" fill="#392ea4"/><path d="M242.9 436.4L249.8 435L252 435.9L245 437.4Z" fill="#392ea4"/><path d="M115.9 436.9L132.6 433.6L135.1 434.9L118.4 438.3Z" fill="#392ea4"/><path d="M348.9 427.1L352.6 425.9L356 426.3L352.3 426.8Z" fill="#006af2"/><path d="M178.5 435L182.2 434.2L189.7 437.4L186 438.1Z" fill="#392ea4"/><path d="M203.6 437.4L220.3 434L224.4 435.3L207.7 438.8Z" fill="#3835ad"/><path d="M263.7 434.5L267.4 433.9L280.2 437.7L276.5 438.7Z" fill="#3835ad"/><path d="M362 424.1L364.6 422.9L367.4 422.4L364.9 423.1Z" fill="#0377eb"/><path d="M288.8 435.4L305.5 431.4L313 433.5L296.3 438.3Z" fill="#363cb6"/><path d="M313 433.5L322.8 430.8L328.1 432L318.3 434.6Z" fill="#274ad5"/><path d="M195.7 436.1L198.3 435.2L203.6 437.4L201 437.9Z" fill="#3835ad"/><path d="M359.2 424.4L362 424.1L364.9 423.1L362 425.3Z" fill="#006ff0"/><path d="M245 437.4L252 435.9L253.9 436.3L247 437.8Z" fill="#3835ad"/><path d="M407.4 413.4L412.8 410.8L425.6 409.5L420.2 413.1Z" fill="#009cdc"/><path d="M328.1 432L335 429.8L339.1 430.7L332.2 433.2Z" fill="#274ad5"/><path d="M118.4 438.3L135.1 434.9L137.3 435.2L120.6 438.9Z" fill="#392ea4"/><path d="M230.6 437.8L240.4 435.3L242.9 436.4L233.1 438.5Z" fill="#3835ad"/><path d="M344.5 428.7L348.9 427.1L352.3 426.8L347.9 427.8Z" fill="#006af2"/><path d="M369.9 423.1L386.6 417.1L388.8 417.6L372.1 422.2Z" fill="#067be8"/><path d="M356 426.3L359.2 424.4L362 425.3L358.8 425.5Z" fill="#0073ee"/><path d="M174.1 436.1L178.5 435L186 438.1L181.6 438.6Z" fill="#3835ad"/><path d="M259.3 435.3L263.7 434.5L276.5 438.7L272.1 439.5Z" fill="#3835ad"/><path d="M192.9 436.6L195.7 436.1L201 437.9L198.2 438.1Z" fill="#3835ad"/><path d="M139.2 436.3L149 433.9L161.8 438.7L152 440.8Z" fill="#392ea4"/><path d="M364.9 423.1L367.4 422.4L369.9 423.1L367.3 424.1Z" fill="#0073ee"/><path d="M339.1 430.7L344.5 428.7L347.9 427.8L342.5 430.5Z" fill="#0065f2"/><path d="M120.6 438.9L137.3 435.2L139.2 436.3L122.5 439.5Z" fill="#3835ad"/><path d="M207.7 438.8L224.4 435.3L227.8 436.5L211.1 439.7Z" fill="#3835ad"/><path d="M352.3 426.8L356 426.3L358.8 425.5L355.1 427.1Z" fill="#006ff0"/><path d="M233.1 438.5L242.9 436.4L245 437.4L235.3 439.2Z" fill="#3835ad"/><path d="M189.7 437.4L192.9 436.6L198.2 438.1L195 439.2Z" fill="#392ea4"/><path d="M400.5 415L407.4 413.4L420.2 413.1L413.3 413Z" fill="#00a5d7"/><path d="M362 425.3L364.9 423.1L367.3 424.1L364.5 425.6Z" fill="#0073ee"/><path d="M168.7 437.2L174.1 436.1L181.6 438.6L176.2 439.9Z" fill="#3835ad"/><path d="M253.9 436.3L259.3 435.3L272.1 439.5L266.7 440.7Z" fill="#3835ad"/><path d="M372.1 422.2L388.8 417.6L390.7 417.4L374 421.2Z" fill="#0a83e3"/><path d="M201 437.9L203.6 437.4L207.7 438.8L205.2 439.6Z" fill="#392ea4"/><path d="M286.3 436.2L288.8 435.4L296.3 438.3L293.7 438.5Z" fill="#363cb6"/><path d="M318.3 434.6L328.1 432L332.2 433.2L322.4 436.2Z" fill="#2f42c7"/><path d="M358.8 425.5L362 425.3L364.5 425.6L361.3 425.8Z" fill="#0073ee"/><path d="M235.3 439.2L245 437.4L247 437.8L237.2 440.1Z" fill="#392ea4"/><path d="M186 438.1L189.7 437.4L195 439.2L191.3 439.7Z" fill="#3835ad"/><path d="M347.9 427.8L352.3 426.8L355.1 427.1L350.7 427.6Z" fill="#006ff0"/><path d="M439.8 407.2L442.3 407.4L449.8 404.2L447.2 405.7Z" fill="#00b2c5"/><path d="M332.2 433.2L339.1 430.7L342.5 430.5L335.6 432.5Z" fill="#075dee"/><path d="M367.3 424.1L369.9 423.1L372.1 422.2L369.5 422.6Z" fill="#067be8"/><path d="M211.1 439.7L227.8 436.5L230.6 437.8L213.9 440.9Z" fill="#3835ad"/><path d="M283.4 436.8L286.3 436.2L293.7 438.5L290.9 439.5Z" fill="#3835ad"/><path d="M296.3 438.3L313 433.5L318.3 434.6L301.6 439.8Z" fill="#363cb6"/><path d="M198.2 438.1L201 437.9L205.2 439.6L202.3 439.6Z" fill="#3835ad"/><path d="M355.1 427.1L358.8 425.5L361.3 425.8L357.6 426.3Z" fill="#0073ee"/><path d="M436.9 406.9L439.8 407.2L447.2 405.7L444.4 407.1Z" fill="#00afca"/><path d="M364.5 425.6L367.3 424.1L369.5 422.6L366.7 423.6Z" fill="#067be8"/><path d="M280.2 437.7L283.4 436.8L290.9 439.5L287.7 440.4Z" fill="#3835ad"/><path d="M342.5 430.5L347.9 427.8L350.7 427.6L345.3 429.4Z" fill="#006af2"/><path d="M161.8 438.7L168.7 437.2L176.2 439.9L169.3 441.5Z" fill="#392ea4"/><path d="M181.6 438.6L186 438.1L191.3 439.7L186.9 440.5Z" fill="#3835ad"/><path d="M247 437.8L253.9 436.3L266.7 440.7L259.8 442.2Z" fill="#3835ad"/><path d="M390.7 417.4L400.5 415L413.3 413L403.5 417.1Z" fill="#009cdc"/><path d="M195 439.2L198.2 438.1L202.3 439.6L199.1 440.4Z" fill="#3835ad"/><path d="M205.2 439.6L207.7 438.8L211.1 439.7L208.5 440.4Z" fill="#3835ad"/><path d="M213.9 440.9L230.6 437.8L233.1 438.5L216.4 441.8Z" fill="#3835ad"/><path d="M361.3 425.8L364.5 425.6L366.7 423.6L363.5 424.7Z" fill="#067be8"/><path d="M433.7 407.4L436.9 406.9L444.4 407.1L441.2 408.5Z" fill="#00accf"/><path d="M350.7 427.6L355.1 427.1L357.6 426.3L353.2 427.4Z" fill="#0073ee"/><path d="M369.5 422.6L372.1 422.2L374 421.2L371.5 422.9Z" fill="#087fe5"/><path d="M322.4 436.2L332.2 433.2L335.6 432.5L325.8 435.3Z" fill="#1a53e3"/><path d="M276.5 438.7L280.2 437.7L287.7 440.4L284 440.8Z" fill="#3835ad"/><path d="M430 410.3L433.7 407.4L441.2 408.5L437.5 409.4Z" fill="#00accf"/><path d="M202.3 439.6L205.2 439.6L208.5 440.4L205.7 440.9Z" fill="#3835ad"/><path d="M191.3 439.7L195 439.2L199.1 440.4L195.4 441.1Z" fill="#3835ad"/><path d="M335.6 432.5L342.5 430.5L345.3 429.4L338.4 432.5Z" fill="#0065f2"/><path d="M122.5 439.5L139.2 436.3L152 440.8L135.3 444.2Z" fill="#392ea4"/><path d="M357.6 426.3L361.3 425.8L363.5 424.7L359.7 427.1Z" fill="#0073ee"/><path d="M366.7 423.6L369.5 422.6L371.5 422.9L368.6 423.6Z" fill="#087fe5"/><path d="M176.2 439.9L181.6 438.6L186.9 440.5L181.5 441.5Z" fill="#3835ad"/><path d="M216.4 441.8L233.1 438.5L235.3 439.2L218.6 442.7Z" fill="#3835ad"/><path d="M293.7 438.5L296.3 438.3L301.6 439.8L299 440.5Z" fill="#363cb6"/><path d="M301.6 439.8L318.3 434.6L322.4 436.2L305.7 440.8Z" fill="#363cb6"/><path d="M345.3 429.4L350.7 427.6L353.2 427.4L347.8 430.5Z" fill="#006af2"/><path d="M208.5 440.4L211.1 439.7L213.9 440.9L211.4 441.2Z" fill="#3835ad"/><path d="M272.1 439.5L276.5 438.7L284 440.8L279.6 442Z" fill="#3835ad"/><path d="M199.1 440.4L202.3 439.6L205.7 440.9L202.5 441.4Z" fill="#3835ad"/><path d="M353.2 427.4L357.6 426.3L359.7 427.1L355.3 428.6Z" fill="#0073ee"/><path d="M363.5 424.7L366.7 423.6L368.6 423.6L365.4 424.5Z" fill="#087fe5"/><path d="M237.2 440.1L247 437.8L259.8 442.2L250 444.5Z" fill="#3835ad"/><path d="M186.9 440.5L191.3 439.7L195.4 441.1L191 442Z" fill="#3835ad"/><path d="M152 440.8L161.8 438.7L169.3 441.5L159.5 443.2Z" fill="#3835ad"/><path d="M290.9 439.5L293.7 438.5L299 440.5L296.2 440.7Z" fill="#363cb6"/><path d="M425.6 409.5L430 410.3L437.5 409.4L433.1 407.6Z" fill="#01b4c0"/><path d="M218.6 442.7L235.3 439.2L237.2 440.1L220.5 443.5Z" fill="#392ea4"/><path d="M205.7 440.9L208.5 440.4L211.4 441.2L208.5 442.4Z" fill="#392ea4"/><path d="M359.7 427.1L363.5 424.7L365.4 424.5L361.7 425.9Z" fill="#067be8"/><path d="M338.4 432.5L345.3 429.4L347.8 430.5L340.9 432.5Z" fill="#006af2"/><path d="M325.8 435.3L335.6 432.5L338.4 432.5L328.6 436Z" fill="#075dee"/><path d="M195.4 441.1L199.1 440.4L202.5 441.4L198.8 442.3Z" fill="#3835ad"/><path d="M347.8 430.5L353.2 427.4L355.3 428.6L350 429.6Z" fill="#0073ee"/><path d="M169.3 441.5L176.2 439.9L181.5 441.5L174.6 443Z" fill="#3835ad"/><path d="M447.2 405.7L449.8 404.2L455.1 406.7L452.5 406.9Z" fill="#00b2c5"/><path d="M211.4 441.2L213.9 440.9L216.4 441.8L213.8 442.2Z" fill="#3835ad"/><path d="M287.7 440.4L290.9 439.5L296.2 440.7L293 441.6Z" fill="#363cb6"/><path d="M266.7 440.7L272.1 439.5L279.6 442L274.2 443.6Z" fill="#3835ad"/><path d="M202.5 441.4L205.7 440.9L208.5 442.4L205.3 442.9Z" fill="#392ea4"/><path d="M355.3 428.6L359.7 427.1L361.7 425.9L357.3 427.2Z" fill="#067be8"/><path d="M374 421.2L390.7 417.4L403.5 417.1L386.8 419.1Z" fill="#00a1da"/><path d="M181.5 441.5L186.9 440.5L191 442L185.6 443.1Z" fill="#3835ad"/><path d="M305.7 440.8L322.4 436.2L325.8 435.3L309.1 441.3Z" fill="#2f42c7"/><path d="M420.2 413.1L425.6 409.5L433.1 407.6L427.7 409.7Z" fill="#00b2c5"/><path d="M208.5 442.4L211.4 441.2L213.8 442.2L211 442.6Z" fill="#3835ad"/><path d="M444.4 407.1L447.2 405.7L452.5 406.9L449.7 405.5Z" fill="#08b6ba"/><path d="M299 440.5L301.6 439.8L305.7 440.8L303.2 441.8Z" fill="#363cb6"/><path d="M284 440.8L287.7 440.4L293 441.6L289.3 442.7Z" fill="#3835ad"/><path d="M191 442L195.4 441.1L198.8 442.3L194.4 443.4Z" fill="#3835ad"/><path d="M213.8 442.2L216.4 441.8L218.6 442.7L216 443.1Z" fill="#3835ad"/><path d="M340.9 432.5L347.8 430.5L350 429.6L343 432.6Z" fill="#006af2"/><path d="M198.8 442.3L202.5 441.4L205.3 442.9L201.6 443.4Z" fill="#3835ad"/><path d="M350 429.6L355.3 428.6L357.3 427.2L351.9 429.4Z" fill="#0377eb"/><path d="M441.2 408.5L444.4 407.1L449.7 405.5L446.5 407.8Z" fill="#01b4c0"/><path d="M205.3 442.9L208.5 442.4L211 442.6L207.8 443.7Z" fill="#392ea4"/><path d="M328.6 436L338.4 432.5L340.9 432.5L331.1 435.2Z" fill="#0065f2"/><path d="M296.2 440.7L299 440.5L303.2 441.8L300.3 442Z" fill="#363cb6"/><path d="M259.8 442.2L266.7 440.7L274.2 443.6L267.3 445.2Z" fill="#3835ad"/><path d="M211 442.6L213.8 442.2L216 443.1L213.2 443.5Z" fill="#3835ad"/><path d="M413.3 413L420.2 413.1L427.7 409.7L420.8 413.5Z" fill="#00accf"/><path d="M279.6 442L284 440.8L289.3 442.7L284.9 444Z" fill="#3835ad"/><path d="M216 443.1L218.6 442.7L220.5 443.5L218 443.9Z" fill="#3835ad"/><path d="M174.6 443L181.5 441.5L185.6 443.1L178.7 444.8Z" fill="#392ea4"/><path d="M437.5 409.4L441.2 408.5L446.5 407.8L442.8 407.3Z" fill="#08b6ba"/><path d="M185.6 443.1L191 442L194.4 443.4L189 444.2Z" fill="#3835ad"/><path d="M159.5 443.2L169.3 441.5L174.6 443L164.8 444.9Z" fill="#3835ad"/><path d="M194.4 443.4L198.8 442.3L201.6 443.4L197.2 444.2Z" fill="#3835ad"/><path d="M293 441.6L296.2 440.7L300.3 442L297.1 443Z" fill="#363cb6"/><path d="M201.6 443.4L205.3 442.9L207.8 443.7L204.1 444.1Z" fill="#3835ad"/><path d="M207.8 443.7L211 442.6L213.2 443.5L210 444.3Z" fill="#3835ad"/><path d="M309.1 441.3L325.8 435.3L328.6 436L311.9 441.1Z" fill="#274ad5"/><path d="M343 432.6L350 429.6L351.9 429.4L345 432Z" fill="#006ff0"/><path d="M452.5 406.9L455.1 406.7L459.2 404.3L456.7 407.6Z" fill="#01b4c0"/><path d="M220.5 443.5L237.2 440.1L250 444.5L233.3 447.9Z" fill="#3835ad"/><path d="M213.2 443.5L216 443.1L218 443.9L215.1 444.3Z" fill="#3835ad"/><path d="M371.5 422.9L374 421.2L386.8 419.1L384.3 422.4Z" fill="#0592de"/><path d="M303.2 441.8L305.7 440.8L309.1 441.3L306.5 442.1Z" fill="#2f42c7"/><path d="M135.3 444.2L152 440.8L159.5 443.2L142.8 446.4Z" fill="#3835ad"/><path d="M331.1 435.2L340.9 432.5L343 432.6L333.3 436.1Z" fill="#0065f2"/><path d="M368.6 423.6L371.5 422.9L384.3 422.4L381.4 423.4Z" fill="#0592de"/><path d="M274.2 443.6L279.6 442L284.9 444L279.5 445.1Z" fill="#3835ad"/><path d="M289.3 442.7L293 441.6L297.1 443L293.4 444Z" fill="#363cb6"/><path d="M300.3 442L303.2 441.8L306.5 442.1L303.7 443Z" fill="#363cb6"/><path d="M433.1 407.6L437.5 409.4L442.8 407.3L438.4 411Z" fill="#00afca"/><path d="M204.1 444.1L207.8 443.7L210 444.3L206.2 445.3Z" fill="#392ea4"/><path d="M197.2 444.2L201.6 443.4L204.1 444.1L199.7 445.3Z" fill="#392ea4"/><path d="M210 444.3L213.2 443.5L215.1 444.3L211.9 444.7Z" fill="#3835ad"/><path d="M403.5 417.1L413.3 413L420.8 413.5L411 416.7Z" fill="#00a5d7"/><path d="M449.7 405.5L452.5 406.9L456.7 407.6L453.8 405.7Z" fill="#10b8b4"/><path d="M189 444.2L194.4 443.4L197.2 444.2L191.8 445.3Z" fill="#3835ad"/><path d="M365.4 424.5L368.6 423.6L381.4 423.4L378.2 423.5Z" fill="#0592de"/><path d="M178.7 444.8L185.6 443.1L189 444.2L182.1 445.9Z" fill="#3835ad"/><path d="M250 444.5L259.8 442.2L267.3 445.2L257.5 446.7Z" fill="#3835ad"/><path d="M284.9 444L289.3 442.7L293.4 444L289 445.3Z" fill="#3835ad"/><path d="M297.1 443L300.3 442L303.7 443L300.5 443.9Z" fill="#363cb6"/><path d="M333.3 436.1L343 432.6L345 432L335.2 435.4Z" fill="#006af2"/><path d="M311.9 441.1L328.6 436L331.1 435.2L314.4 441.4Z" fill="#274ad5"/><path d="M164.8 444.9L174.6 443L178.7 444.8L168.9 446.8Z" fill="#392ea4"/><path d="M206.2 445.3L210 444.3L211.9 444.7L208.2 445.5Z" fill="#3835ad"/><path d="M361.7 425.9L365.4 424.5L378.2 423.5L374.5 425.4Z" fill="#088cdf"/><path d="M199.7 445.3L204.1 444.1L206.2 445.3L201.8 445.9Z" fill="#3835ad"/><path d="M267.3 445.2L274.2 443.6L279.5 445.1L272.6 446.6Z" fill="#3835ad"/><path d="M306.5 442.1L309.1 441.3L311.9 441.1L309.4 441.8Z" fill="#274ad5"/><path d="M446.5 407.8L449.7 405.5L453.8 405.7L450.6 407Z" fill="#10b8b4"/><path d="M191.8 445.3L197.2 444.2L199.7 445.3L194.3 446.5Z" fill="#392ea4"/><path d="M427.7 409.7L433.1 407.6L438.4 411L433 408.9Z" fill="#08b6ba"/><path d="M293.4 444L297.1 443L300.5 443.9L296.8 444.5Z" fill="#363cb6"/><path d="M303.7 443L306.5 442.1L309.4 441.8L306.5 443.2Z" fill="#2f42c7"/><path d="M218 443.9L220.5 443.5L233.3 447.9L230.8 448.6Z" fill="#392ea4"/><path d="M182.1 445.9L189 444.2L191.8 445.3L184.9 447Z" fill="#392ea4"/><path d="M279.5 445.1L284.9 444L289 445.3L283.6 446.5Z" fill="#3835ad"/><path d="M442.8 407.3L446.5 407.8L450.6 407L446.9 409.3Z" fill="#01b4c0"/><path d="M357.3 427.2L361.7 425.9L374.5 425.4L370.1 426.2Z" fill="#0592de"/><path d="M201.8 445.9L206.2 445.3L208.2 445.5L203.8 446.5Z" fill="#3835ad"/><path d="M314.4 441.4L331.1 435.2L333.3 436.1L316.6 441.4Z" fill="#1a53e3"/><path d="M142.8 446.4L159.5 443.2L164.8 444.9L148.1 448.4Z" fill="#3835ad"/><path d="M300.5 443.9L303.7 443L306.5 443.2L303.3 443.9Z" fill="#2f42c7"/><path d="M194.3 446.5L199.7 445.3L201.8 445.9L196.5 446.7Z" fill="#3835ad"/><path d="M289 445.3L293.4 444L296.8 444.5L292.4 446.2Z" fill="#363cb6"/><path d="M215.1 444.3L218 443.9L230.8 448.6L227.9 448.7Z" fill="#3835ad"/><path d="M168.9 446.8L178.7 444.8L182.1 445.9L172.3 447.6Z" fill="#3835ad"/><path d="M309.4 441.8L311.9 441.1L314.4 441.4L311.8 442.6Z" fill="#274ad5"/><path d="M351.9 429.4L357.3 427.2L370.1 426.2L364.7 429Z" fill="#0a88e0"/><path d="M438.4 411L442.8 407.3L446.9 409.3L442.5 407.4Z" fill="#19baad"/><path d="M184.9 447L191.8 445.3L194.3 446.5L187.4 447.4Z" fill="#3835ad"/><path d="M420.8 413.5L427.7 409.7L433 408.9L426.1 410.5Z" fill="#08b6ba"/><path d="M306.5 443.2L309.4 441.8L311.8 442.6L309 443.6Z" fill="#2f42c7"/><path d="M296.8 444.5L300.5 443.9L303.3 443.9L299.6 445Z" fill="#2f42c7"/><path d="M257.5 446.7L267.3 445.2L272.6 446.6L262.8 449Z" fill="#3835ad"/><path d="M316.6 441.4L333.3 436.1L335.2 435.4L318.5 441.6Z" fill="#075dee"/><path d="M196.5 446.7L201.8 445.9L203.8 446.5L198.4 447.5Z" fill="#3835ad"/><path d="M272.6 446.6L279.5 445.1L283.6 446.5L276.7 447.8Z" fill="#3835ad"/><path d="M211.9 444.7L215.1 444.3L227.9 448.7L224.7 449.4Z" fill="#3835ad"/><path d="M283.6 446.5L289 445.3L292.4 446.2L287 447.7Z" fill="#3835ad"/><path d="M386.8 419.1L403.5 417.1L411 416.7L394.3 416.8Z" fill="#00afca"/><path d="M303.3 443.9L306.5 443.2L309 443.6L305.8 444.5Z" fill="#2f42c7"/><path d="M233.3 447.9L250 444.5L257.5 446.7L240.8 450.6Z" fill="#392ea4"/><path d="M345 432L351.9 429.4L364.7 429L357.8 430.2Z" fill="#0a88e0"/><path d="M311.8 442.6L314.4 441.4L316.6 441.4L314 443Z" fill="#274ad5"/><path d="M172.3 447.6L182.1 445.9L184.9 447L175.1 448.8Z" fill="#3835ad"/><path d="M187.4 447.4L194.3 446.5L196.5 446.7L189.5 448.5Z" fill="#3835ad"/><path d="M292.4 446.2L296.8 444.5L299.6 445L295.2 446.3Z" fill="#363cb6"/><path d="M208.2 445.5L211.9 444.7L224.7 449.4L221 450.3Z" fill="#3835ad"/><path d="M309 443.6L311.8 442.6L314 443L311.2 444Z" fill="#274ad5"/><path d="M148.1 448.4L164.8 444.9L168.9 446.8L152.2 449.9Z" fill="#3835ad"/><path d="M433 408.9L438.4 411L442.5 407.4L437.1 408.3Z" fill="#19baad"/><path d="M299.6 445L303.3 443.9L305.8 444.5L302.1 445.8Z" fill="#2f42c7"/><path d="M411 416.7L420.8 413.5L426.1 410.5L416.3 414.2Z" fill="#00b2c5"/><path d="M189.5 448.5L196.5 446.7L198.4 447.5L191.5 449.3Z" fill="#392ea4"/><path d="M305.8 444.5L309 443.6L311.2 444L308 444.9Z" fill="#274ad5"/><path d="M276.7 447.8L283.6 446.5L287 447.7L280.1 449.3Z" fill="#3835ad"/><path d="M287 447.7L292.4 446.2L295.2 446.3L289.8 448.5Z" fill="#3835ad"/><path d="M314 443L316.6 441.4L318.5 441.6L316 443.2Z" fill="#1a53e3"/><path d="M175.1 448.8L184.9 447L187.4 447.4L177.6 449.4Z" fill="#3835ad"/><path d="M203.8 446.5L208.2 445.5L221 450.3L216.6 451Z" fill="#3835ad"/><path d="M262.8 449L272.6 446.6L276.7 447.8L266.9 450.5Z" fill="#3835ad"/><path d="M295.2 446.3L299.6 445L302.1 445.8L297.7 446.9Z" fill="#2f42c7"/><path d="M311.2 444L314 443L316 443.2L313.1 444Z" fill="#274ad5"/><path d="M335.2 435.4L345 432L357.8 430.2L348 433.1Z" fill="#0a83e3"/><path d="M302.1 445.8L305.8 444.5L308 444.9L304.2 445.6Z" fill="#274ad5"/><path d="M152.2 449.9L168.9 446.8L172.3 447.6L155.6 451Z" fill="#3835ad"/><path d="M308 444.9L311.2 444L313.1 444L309.9 445.1Z" fill="#274ad5"/><path d="M384.3 422.4L386.8 419.1L394.3 416.8L391.7 419.8Z" fill="#00a9d3"/><path d="M177.6 449.4L187.4 447.4L189.5 448.5L179.8 450.5Z" fill="#3835ad"/><path d="M381.4 423.4L384.3 422.4L391.7 419.8L388.9 421Z" fill="#00a9d3"/><path d="M426.1 410.5L433 408.9L437.1 408.3L430.2 410.8Z" fill="#10b8b4"/><path d="M230.8 448.6L233.3 447.9L240.8 450.6L238.2 450.8Z" fill="#3835ad"/><path d="M280.1 449.3L287 447.7L289.8 448.5L282.9 450Z" fill="#3835ad"/><path d="M289.8 448.5L295.2 446.3L297.7 446.9L292.3 448.4Z" fill="#363cb6"/><path d="M198.4 447.5L203.8 446.5L216.6 451L211.2 452.3Z" fill="#3835ad"/><path d="M297.7 446.9L302.1 445.8L304.2 445.6L299.8 447.4Z" fill="#2f42c7"/><path d="M240.8 450.6L257.5 446.7L262.8 449L246.1 452Z" fill="#3835ad"/><path d="M304.2 445.6L308 444.9L309.9 445.1L306.2 446.3Z" fill="#274ad5"/><path d="M378.2 423.5L381.4 423.4L388.9 421L385.7 420.9Z" fill="#00a9d3"/><path d="M179.8 450.5L189.5 448.5L191.5 449.3L181.7 451.2Z" fill="#392ea4"/><path d="M227.9 448.7L230.8 448.6L238.2 450.8L235.4 451.7Z" fill="#3835ad"/><path d="M266.9 450.5L276.7 447.8L280.1 449.3L270.3 451Z" fill="#3835ad"/><path d="M155.6 451L172.3 447.6L175.1 448.8L158.4 451.9Z" fill="#3835ad"/><path d="M394.3 416.8L411 416.7L416.3 414.2L399.6 421.6Z" fill="#00a9d3"/><path d="M292.3 448.4L297.7 446.9L299.8 447.4L294.5 449.3Z" fill="#363cb6"/><path d="M299.8 447.4L304.2 445.6L306.2 446.3L301.8 447.7Z" fill="#2f42c7"/><path d="M374.5 425.4L378.2 423.5L385.7 420.9L382 423.2Z" fill="#00a5d7"/><path d="M282.9 450L289.8 448.5L292.3 448.4L285.4 450.4Z" fill="#363cb6"/><path d="M224.7 449.4L227.9 448.7L235.4 451.7L232.2 452.2Z" fill="#3835ad"/><path d="M416.3 414.2L426.1 410.5L430.2 410.8L420.4 413.4Z" fill="#08b6ba"/><path d="M191.5 449.3L198.4 447.5L211.2 452.3L204.3 453.9Z" fill="#392ea4"/><path d="M318.5 441.6L335.2 435.4L348 433.1L331.3 440.5Z" fill="#0377eb"/><path d="M370.1 426.2L374.5 425.4L382 423.2L377.6 425.1Z" fill="#00a1da"/><path d="M270.3 451L280.1 449.3L282.9 450L273.1 452Z" fill="#3835ad"/><path d="M158.4 451.9L175.1 448.8L177.6 449.4L160.9 453Z" fill="#3835ad"/><path d="M294.5 449.3L299.8 447.4L301.8 447.7L296.4 449.8Z" fill="#363cb6"/><path d="M221 450.3L224.7 449.4L232.2 452.2L228.5 453Z" fill="#3835ad"/><path d="M246.1 452L262.8 449L266.9 450.5L250.2 453.6Z" fill="#3835ad"/><path d="M285.4 450.4L292.3 448.4L294.5 449.3L287.5 450.9Z" fill="#363cb6"/><path d="M238.2 450.8L240.8 450.6L246.1 452L243.5 453.1Z" fill="#392ea4"/><path d="M364.7 429L370.1 426.2L377.6 425.1L372.2 426.6Z" fill="#00a1da"/><path d="M160.9 453L177.6 449.4L179.8 450.5L163.1 453.6Z" fill="#3835ad"/><path d="M316 443.2L318.5 441.6L331.3 440.5L328.8 441Z" fill="#0377eb"/><path d="M216.6 451L221 450.3L228.5 453L224.1 453.7Z" fill="#3835ad"/><path d="M273.1 452L282.9 450L285.4 450.4L275.6 452.9Z" fill="#3835ad"/><path d="M235.4 451.7L238.2 450.8L243.5 453.1L240.7 453.4Z" fill="#3835ad"/><path d="M287.5 450.9L294.5 449.3L296.4 449.8L289.5 451.6Z" fill="#363cb6"/><path d="M391.7 419.8L394.3 416.8L399.6 421.6L397 418.8Z" fill="#00b2c5"/><path d="M181.7 451.2L191.5 449.3L204.3 453.9L194.5 455.6Z" fill="#3835ad"/><path d="M313.1 444L316 443.2L328.8 441L325.9 442.3Z" fill="#0073ee"/><path d="M250.2 453.6L266.9 450.5L270.3 451L253.6 455Z" fill="#3835ad"/><path d="M163.1 453.6L179.8 450.5L181.7 451.2L165 454.2Z" fill="#3835ad"/><path d="M232.2 452.2L235.4 451.7L240.7 453.4L237.5 453.7Z" fill="#3835ad"/><path d="M357.8 430.2L364.7 429L372.2 426.6L365.3 427.6Z" fill="#00a1da"/><path d="M388.9 421L391.7 419.8L397 418.8L394.2 420.1Z" fill="#00afca"/><path d="M309.9 445.1L313.1 444L325.9 442.3L322.7 443.1Z" fill="#0073ee"/><path d="M275.6 452.9L285.4 450.4L287.5 450.9L277.8 453.7Z" fill="#3835ad"/><path d="M211.2 452.3L216.6 451L224.1 453.7L218.7 455Z" fill="#392ea4"/><path d="M399.6 421.6L416.3 414.2L420.4 413.4L403.7 413Z" fill="#2dbea0"/><path d="M243.5 453.1L246.1 452L250.2 453.6L247.7 454.5Z" fill="#392ea4"/><path d="M456.7 407.6L459.2 404.3L472 374.8L469.5 374Z" fill="#f8ee01"/><path d="M385.7 420.9L388.9 421L394.2 420.1L391 421.1Z" fill="#00afca"/><path d="M306.2 446.3L309.9 445.1L322.7 443.1L319 445.5Z" fill="#006af2"/><path d="M228.5 453L232.2 452.2L237.5 453.7L233.8 454.6Z" fill="#3835ad"/><path d="M253.6 455L270.3 451L273.1 452L256.4 456.3Z" fill="#392ea4"/><path d="M240.7 453.4L243.5 453.1L247.7 454.5L244.8 454.9Z" fill="#3835ad"/><path d="M277.8 453.7L287.5 450.9L289.5 451.6L279.7 453.8Z" fill="#363cb6"/><path d="M301.8 447.7L306.2 446.3L319 445.5L314.6 447.5Z" fill="#0065f2"/><path d="M453.8 405.7L456.7 407.6L469.5 374L466.6 375.1Z" fill="#f8ee01"/><path d="M382 423.2L385.7 420.9L391 421.1L387.3 420.7Z" fill="#00b2c5"/><path d="M348 433.1L357.8 430.2L365.3 427.6L355.5 432.6Z" fill="#0592de"/><path d="M204.3 453.9L211.2 452.3L218.7 455L211.8 456.5Z" fill="#392ea4"/><path d="M224.1 453.7L228.5 453L233.8 454.6L229.4 455.7Z" fill="#3835ad"/><path d="M237.5 453.7L240.7 453.4L244.8 454.9L241.6 455.3Z" fill="#3835ad"/><path d="M247.7 454.5L250.2 453.6L253.6 455L251 455.5Z" fill="#3835ad"/><path d="M377.6 425.1L382 423.2L387.3 420.7L382.9 424.6Z" fill="#00a9d3"/><path d="M256.4 456.3L273.1 452L275.6 452.9L258.9 456.9Z" fill="#3835ad"/><path d="M296.4 449.8L301.8 447.7L314.6 447.5L309.2 448.9Z" fill="#0065f2"/><path d="M450.6 407L453.8 405.7L466.6 375.1L463.4 375.6Z" fill="#f8ee01"/><path d="M397 418.8L399.6 421.6L403.7 413L401.2 420.2Z" fill="#00b2c5"/><path d="M446.9 409.3L450.6 407L463.4 375.6L459.7 380.3Z" fill="#ffd416"/><path d="M394.2 420.1L397 418.8L401.2 420.2L398.3 421.3Z" fill="#00afca"/><path d="M372.2 426.6L377.6 425.1L382.9 424.6L377.5 427.3Z" fill="#00a5d7"/><path d="M244.8 454.9L247.7 454.5L251 455.5L248.2 456.1Z" fill="#3835ad"/><path d="M233.8 454.6L237.5 453.7L241.6 455.3L237.9 456.3Z" fill="#3835ad"/><path d="M165 454.2L181.7 451.2L194.5 455.6L177.8 458.8Z" fill="#3835ad"/><path d="M218.7 455L224.1 453.7L229.4 455.7L224 456.6Z" fill="#3835ad"/><path d="M258.9 456.9L275.6 452.9L277.8 453.7L261.1 457.5Z" fill="#3835ad"/><path d="M442.5 407.4L446.9 409.3L459.7 380.3L455.3 380.5Z" fill="#fcda12"/><path d="M251 455.5L253.6 455L256.4 456.3L253.9 456.6Z" fill="#392ea4"/><path d="M289.5 451.6L296.4 449.8L309.2 448.9L302.3 451.8Z" fill="#075dee"/><path d="M241.6 455.3L244.8 454.9L248.2 456.1L245 456.8Z" fill="#3835ad"/><path d="M391 421.1L394.2 420.1L398.3 421.3L395.1 419.3Z" fill="#08b6ba"/><path d="M229.4 455.7L233.8 454.6L237.9 456.3L233.5 457.1Z" fill="#3835ad"/><path d="M194.5 455.6L204.3 453.9L211.8 456.5L202 458.4Z" fill="#3835ad"/><path d="M331.3 440.5L348 433.1L355.5 432.6L338.8 437.9Z" fill="#0a88e0"/><path d="M248.2 456.1L251 455.5L253.9 456.6L251 457Z" fill="#3835ad"/><path d="M365.3 427.6L372.2 426.6L377.5 427.3L370.6 427.9Z" fill="#00a5d7"/><path d="M261.1 457.5L277.8 453.7L279.7 453.8L263 458.6Z" fill="#392ea4"/><path d="M437.1 408.3L442.5 407.4L455.3 380.5L449.9 387.8Z" fill="#ffbe2d"/><path d="M237.9 456.3L241.6 455.3L245 456.8L241.3 457.5Z" fill="#3835ad"/><path d="M253.9 456.6L256.4 456.3L258.9 456.9L256.3 457.3Z" fill="#3835ad"/><path d="M211.8 456.5L218.7 455L224 456.6L217.1 458.4Z" fill="#392ea4"/><path d="M387.3 420.7L391 421.1L395.1 419.3L391.4 421.8Z" fill="#00b2c5"/><path d="M430.2 410.8L437.1 408.3L449.9 387.8L443 393.7Z" fill="#ddba4a"/><path d="M245 456.8L248.2 456.1L251 457L247.8 457.4Z" fill="#3835ad"/><path d="M224 456.6L229.4 455.7L233.5 457.1L228.1 458.4Z" fill="#392ea4"/><path d="M279.7 453.8L289.5 451.6L302.3 451.8L292.5 455.3Z" fill="#274ad5"/><path d="M251 457L253.9 456.6L256.3 457.3L253.5 458.2Z" fill="#392ea4"/><path d="M382.9 424.6L387.3 420.7L391.4 421.8L387 421.4Z" fill="#01b4c0"/><path d="M233.5 457.1L237.9 456.3L241.3 457.5L236.9 458.5Z" fill="#392ea4"/><path d="M256.3 457.3L258.9 456.9L261.1 457.5L258.5 458.4Z" fill="#392ea4"/><path d="M241.3 457.5L245 456.8L247.8 457.4L244.1 458.4Z" fill="#3835ad"/><path d="M328.8 441L331.3 440.5L338.8 437.9L336.2 438.6Z" fill="#0a88e0"/><path d="M247.8 457.4L251 457L253.5 458.2L250.3 458.7Z" fill="#3835ad"/><path d="M355.5 432.6L365.3 427.6L370.6 427.9L360.8 429.6Z" fill="#00a9d3"/><path d="M253.5 458.2L256.3 457.3L258.5 458.4L255.7 458.4Z" fill="#3835ad"/><path d="M377.5 427.3L382.9 424.6L387 421.4L381.6 421.8Z" fill="#08b6ba"/><path d="M325.9 442.3L328.8 441L336.2 438.6L333.4 439.2Z" fill="#0a88e0"/><path d="M258.5 458.4L261.1 457.5L263 458.6L260.5 458.6Z" fill="#3835ad"/><path d="M217.1 458.4L224 456.6L228.1 458.4L221.2 459.4Z" fill="#3835ad"/><path d="M228.1 458.4L233.5 457.1L236.9 458.5L231.5 459.6Z" fill="#392ea4"/><path d="M202 458.4L211.8 456.5L217.1 458.4L207.3 459.8Z" fill="#3835ad"/><path d="M236.9 458.5L241.3 457.5L244.1 458.4L239.7 459Z" fill="#3835ad"/><path d="M244.1 458.4L247.8 457.4L250.3 458.7L246.6 459.3Z" fill="#3835ad"/><path d="M322.7 443.1L325.9 442.3L333.4 439.2L330.2 440.9Z" fill="#0a83e3"/><path d="M250.3 458.7L253.5 458.2L255.7 458.4L252.5 459.2Z" fill="#3835ad"/><path d="M420.4 413.4L430.2 410.8L443 393.7L433.2 386.1Z" fill="#ffd416"/><path d="M255.7 458.4L258.5 458.4L260.5 458.6L257.6 459.5Z" fill="#392ea4"/><path d="M177.8 458.8L194.5 455.6L202 458.4L185.3 461.7Z" fill="#3835ad"/><path d="M319 445.5L322.7 443.1L330.2 440.9L326.5 443Z" fill="#087fe5"/><path d="M370.6 427.9L377.5 427.3L381.6 421.8L374.7 425.9Z" fill="#00afca"/><path d="M263 458.6L279.7 453.8L292.5 455.3L275.8 462.1Z" fill="#3835ad"/><path d="M246.6 459.3L250.3 458.7L252.5 459.2L248.7 460.3Z" fill="#392ea4"/><path d="M252.5 459.2L255.7 458.4L257.6 459.5L254.4 460Z" fill="#3835ad"/><path d="M239.7 459L244.1 458.4L246.6 459.3L242.2 460.2Z" fill="#3835ad"/><path d="M314.6 447.5L319 445.5L326.5 443L322.1 443.9Z" fill="#087fe5"/><path d="M231.5 459.6L236.9 458.5L239.7 459L234.3 460.7Z" fill="#392ea4"/><path d="M221.2 459.4L228.1 458.4L231.5 459.6L224.6 461Z" fill="#392ea4"/><path d="M338.8 437.9L355.5 432.6L360.8 429.6L344.1 438.2Z" fill="#0592de"/><path d="M207.3 459.8L217.1 458.4L221.2 459.4L211.4 461.3Z" fill="#3835ad"/><path d="M248.7 460.3L252.5 459.2L254.4 460L250.7 460.6Z" fill="#3835ad"/><path d="M242.2 460.2L246.6 459.3L248.7 460.3L244.3 461Z" fill="#3835ad"/><path d="M309.2 448.9L314.6 447.5L322.1 443.9L316.7 446.1Z" fill="#067be8"/><path d="M234.3 460.7L239.7 459L242.2 460.2L236.8 461.5Z" fill="#392ea4"/><path d="M360.8 429.6L370.6 427.9L374.7 425.9L364.9 427.8Z" fill="#00afca"/><path d="M224.6 461L231.5 459.6L234.3 460.7L227.4 461.7Z" fill="#3835ad"/><path d="M260.5 458.6L263 458.6L275.8 462.1L273.3 462.4Z" fill="#3835ad"/><path d="M244.3 461L248.7 460.3L250.7 460.6L246.3 461.5Z" fill="#3835ad"/><path d="M302.3 451.8L309.2 448.9L316.7 446.1L309.8 448.7Z" fill="#0377eb"/><path d="M185.3 461.7L202 458.4L207.3 459.8L190.6 463.2Z" fill="#3835ad"/><path d="M236.8 461.5L242.2 460.2L244.3 461L239 462.2Z" fill="#3835ad"/><path d="M336.2 438.6L338.8 437.9L344.1 438.2L341.5 437Z" fill="#0097dd"/><path d="M211.4 461.3L221.2 459.4L224.6 461L214.8 463Z" fill="#392ea4"/><path d="M403.7 413L420.4 413.4L433.2 386.1L416.5 401.3Z" fill="#cbbc52"/><path d="M257.6 459.5L260.5 458.6L273.3 462.4L270.4 462.9Z" fill="#3835ad"/><path d="M227.4 461.7L234.3 460.7L236.8 461.5L229.9 462.5Z" fill="#3835ad"/><path d="M333.4 439.2L336.2 438.6L341.5 437L338.7 438.7Z" fill="#0592de"/><path d="M239 462.2L244.3 461L246.3 461.5L240.9 462.6Z" fill="#3835ad"/><path d="M254.4 460L257.6 459.5L270.4 462.9L267.2 463.7Z" fill="#3835ad"/><path d="M330.2 440.9L333.4 439.2L338.7 438.7L335.5 438.6Z" fill="#0097dd"/><path d="M292.5 455.3L302.3 451.8L309.8 448.7L300 452.2Z" fill="#0073ee"/><path d="M214.8 463L224.6 461L227.4 461.7L217.6 463.8Z" fill="#3835ad"/><path d="M229.9 462.5L236.8 461.5L239 462.2L232 463.4Z" fill="#3835ad"/><path d="M326.5 443L330.2 440.9L335.5 438.6L331.8 441.2Z" fill="#088cdf"/><path d="M344.1 438.2L360.8 429.6L364.9 427.8L348.2 433.8Z" fill="#00a9d3"/><path d="M250.7 460.6L254.4 460L267.2 463.7L263.5 464.5Z" fill="#3835ad"/><path d="M190.6 463.2L207.3 459.8L211.4 461.3L194.7 464.8Z" fill="#3835ad"/><path d="M401.2 420.2L403.7 413L416.5 401.3L414 391.8Z" fill="#ffc920"/><path d="M232 463.4L239 462.2L240.9 462.6L234 463.9Z" fill="#3835ad"/><path d="M217.6 463.8L227.4 461.7L229.9 462.5L220.1 464.9Z" fill="#392ea4"/><path d="M398.3 421.3L401.2 420.2L414 391.8L411.1 397.5Z" fill="#f7b93c"/><path d="M322.1 443.9L326.5 443L331.8 441.2L327.4 440.2Z" fill="#0097dd"/><path d="M246.3 461.5L250.7 460.6L263.5 464.5L259.1 465.6Z" fill="#3835ad"/><path d="M194.7 464.8L211.4 461.3L214.8 463L198.1 466.1Z" fill="#3835ad"/><path d="M341.5 437L344.1 438.2L348.2 433.8L345.7 435.5Z" fill="#00a5d7"/><path d="M220.1 464.9L229.9 462.5L232 463.4L222.3 465.5Z" fill="#3835ad"/><path d="M275.8 462.1L292.5 455.3L300 452.2L283.3 459Z" fill="#075dee"/><path d="M395.1 419.3L398.3 421.3L411.1 397.5L407.9 391.5Z" fill="#ffd416"/><path d="M316.7 446.1L322.1 443.9L327.4 440.2L322 442.8Z" fill="#0592de"/><path d="M338.7 438.7L341.5 437L345.7 435.5L342.8 436.6Z" fill="#00a5d7"/><path d="M391.4 421.8L395.1 419.3L407.9 391.5L404.2 405.1Z" fill="#c1bd56"/><path d="M240.9 462.6L246.3 461.5L259.1 465.6L253.7 466.3Z" fill="#3835ad"/><path d="M387 421.4L391.4 421.8L404.2 405.1L399.8 401.2Z" fill="#e6b946"/><path d="M222.3 465.5L232 463.4L234 463.9L224.2 466.4Z" fill="#392ea4"/><path d="M335.5 438.6L338.7 438.7L342.8 436.6L339.6 436.8Z" fill="#00a5d7"/><path d="M198.1 466.1L214.8 463L217.6 463.8L200.9 467Z" fill="#3835ad"/><path d="M309.8 448.7L316.7 446.1L322 442.8L315.1 444.6Z" fill="#088cdf"/><path d="M273.3 462.4L275.8 462.1L283.3 459L280.7 459.8Z" fill="#075dee"/><path d="M331.8 441.2L335.5 438.6L339.6 436.8L335.9 439.8Z" fill="#009cdc"/><path d="M234 463.9L240.9 462.6L253.7 466.3L246.8 467.8Z" fill="#3835ad"/><path d="M200.9 467L217.6 463.8L220.1 464.9L203.4 467.8Z" fill="#3835ad"/><path d="M381.6 421.8L387 421.4L399.8 401.2L394.4 402.7Z" fill="#e6b946"/><path d="M327.4 440.2L331.8 441.2L335.9 439.8L331.5 440.4Z" fill="#009cdc"/><path d="M270.4 462.9L273.3 462.4L280.7 459.8L277.9 458.8Z" fill="#006af2"/><path d="M300 452.2L309.8 448.7L315.1 444.6L305.3 448.9Z" fill="#0a83e3"/><path d="M203.4 467.8L220.1 464.9L222.3 465.5L205.6 468.5Z" fill="#3835ad"/><path d="M267.2 463.7L270.4 462.9L277.9 458.8L274.7 460.2Z" fill="#0065f2"/><path d="M374.7 425.9L381.6 421.8L394.4 402.7L387.5 407.7Z" fill="#cbbc52"/><path d="M322 442.8L327.4 440.2L331.5 440.4L326.1 442.1Z" fill="#009cdc"/><path d="M263.5 464.5L267.2 463.7L274.7 460.2L271 460.7Z" fill="#0065f2"/><path d="M224.2 466.4L234 463.9L246.8 467.8L237 470.2Z" fill="#3835ad"/><path d="M205.6 468.5L222.3 465.5L224.2 466.4L207.5 469.6Z" fill="#392ea4"/><path d="M315.1 444.6L322 442.8L326.1 442.1L319.2 443.4Z" fill="#009cdc"/><path d="M364.9 427.8L374.7 425.9L387.5 407.7L377.7 406.1Z" fill="#e6b946"/><path d="M259.1 465.6L263.5 464.5L271 460.7L266.6 461.1Z" fill="#006af2"/><path d="M283.3 459L300 452.2L305.3 448.9L288.6 453.9Z" fill="#087fe5"/><path d="M253.7 466.3L259.1 465.6L266.6 461.1L261.2 461.9Z" fill="#006af2"/><path d="M305.3 448.9L315.1 444.6L319.2 443.4L309.4 446.9Z" fill="#0592de"/><path d="M280.7 459.8L283.3 459L288.6 453.9L286 454.8Z" fill="#067be8"/><path d="M207.5 469.6L224.2 466.4L237 470.2L220.3 473.5Z" fill="#3835ad"/><path d="M277.9 458.8L280.7 459.8L286 454.8L283.2 455.2Z" fill="#067be8"/><path d="M246.8 467.8L253.7 466.3L261.2 461.9L254.3 462.2Z" fill="#006ff0"/><path d="M348.2 433.8L364.9 427.8L377.7 406.1L361 409.5Z" fill="#e6b946"/><path d="M274.7 460.2L277.9 458.8L283.2 455.2L280 453.9Z" fill="#0a83e3"/><path d="M288.6 453.9L305.3 448.9L309.4 446.9L292.7 449.8Z" fill="#0097dd"/><path d="M271 460.7L274.7 460.2L280 453.9L276.3 452.1Z" fill="#0592de"/><path d="M237 470.2L246.8 467.8L254.3 462.2L244.5 464.7Z" fill="#006af2"/><path d="M342.8 436.6L345.7 435.5L358.5 407.6L355.6 416.4Z" fill="#b8be5a"/><path d="M345.7 435.5L348.2 433.8L361 409.5L358.5 407.6Z" fill="#f7b93c"/><path d="M339.6 436.8L342.8 436.6L355.6 416.4L352.4 414.5Z" fill="#cbbc52"/><path d="M335.9 439.8L339.6 436.8L352.4 414.5L348.7 420.9Z" fill="#9ac167"/><path d="M266.6 461.1L271 460.7L276.3 452.1L271.9 453.6Z" fill="#088cdf"/><path d="M286 454.8L288.6 453.9L292.7 449.8L290.2 451.1Z" fill="#0592de"/><path d="M331.5 440.4L335.9 439.8L348.7 420.9L344.3 417.6Z" fill="#c1bd56"/><path d="M283.2 455.2L286 454.8L290.2 451.1L287.3 450.8Z" fill="#0097dd"/><path d="M261.2 461.9L266.6 461.1L271.9 453.6L266.5 453.3Z" fill="#0592de"/><path d="M326.1 442.1L331.5 440.4L344.3 417.6L338.9 419.2Z" fill="#b8be5a"/><path d="M280 453.9L283.2 455.2L287.3 450.8L284.1 449.4Z" fill="#00a1da"/><path d="M220.3 473.5L237 470.2L244.5 464.7L227.8 467.3Z" fill="#006ff0"/><path d="M319.2 443.4L326.1 442.1L338.9 419.2L332 425.5Z" fill="#8fc26c"/><path d="M254.3 462.2L261.2 461.9L266.5 453.3L259.6 454.2Z" fill="#0097dd"/><path d="M276.3 452.1L280 453.9L284.1 449.4L280.4 449.1Z" fill="#00a5d7"/><path d="M309.4 446.9L319.2 443.4L332 425.5L322.2 431.3Z" fill="#5ec283"/><path d="M271.9 453.6L276.3 452.1L280.4 449.1L276 448.9Z" fill="#00a9d3"/><path d="M244.5 464.7L254.3 462.2L259.6 454.2L249.8 454.7Z" fill="#009cdc"/><path d="M292.7 449.8L309.4 446.9L322.2 431.3L305.5 437.4Z" fill="#44c191"/><path d="M266.5 453.3L271.9 453.6L276 448.9L270.6 448.4Z" fill="#00accf"/><path d="M259.6 454.2L266.5 453.3L270.6 448.4L263.7 450.4Z" fill="#00a9d3"/><path d="M290.2 451.1L292.7 449.8L305.5 437.4L303 434.1Z" fill="#6bc27d"/><path d="M227.8 467.3L244.5 464.7L249.8 454.7L233.1 459Z" fill="#0097dd"/><path d="M287.3 450.8L290.2 451.1L303 434.1L300.1 434.4Z" fill="#78c277"/><path d="M249.8 454.7L259.6 454.2L263.7 450.4L253.9 451.8Z" fill="#00accf"/><path d="M284.1 449.4L287.3 450.8L300.1 434.4L296.9 436.1Z" fill="#6bc27d"/><path d="M280.4 449.1L284.1 449.4L296.9 436.1L293.2 434.3Z" fill="#83c271"/><path d="M233.1 459L249.8 454.7L253.9 451.8L237.2 454.7Z" fill="#00accf"/><path d="M276 448.9L280.4 449.1L293.2 434.3L288.8 426.6Z" fill="#d4bb4e"/><path d="M270.6 448.4L276 448.9L288.8 426.6L283.4 418.2Z" fill="#ffc920"/><path d="M263.7 450.4L270.6 448.4L283.4 418.2L276.5 436Z" fill="#9ac167"/><path d="M253.9 451.8L263.7 450.4L276.5 436L266.7 421.6Z" fill="#ffc920"/><path d="M237.2 454.7L253.9 451.8L266.7 421.6L250 431.1Z" fill="#efb941"/></g><line x1="80" y1="451.5" x2="250" y2="511.5" stroke="#262626" stroke-width="0.9"/><line x1="250" y1="511.5" x2="472" y2="466.9" stroke="#262626" stroke-width="0.9"/><line x1="80" y1="451.5" x2="80" y2="324.1" stroke="#262626" stroke-width="0.9"/><line x1="250" y1="511.5" x2="254.2" y2="513" stroke="#262626" stroke-width="0.8"/><line x1="305.5" y1="500.4" x2="309.7" y2="501.8" stroke="#262626" stroke-width="0.8"/><line x1="361" y1="489.2" x2="365.2" y2="490.7" stroke="#262626" stroke-width="0.8"/><line x1="416.5" y1="478.1" x2="420.7" y2="479.5" stroke="#262626" stroke-width="0.8"/><line x1="472" y1="466.9" x2="476.2" y2="468.4" stroke="#262626" stroke-width="0.8"/><line x1="266.7" y1="508.1" x2="268.9" y2="508.9" stroke="#262626" stroke-width="0.8"/><line x1="276.5" y1="506.2" x2="278.6" y2="506.9" stroke="#262626" stroke-width="0.8"/><line x1="283.4" y1="504.8" x2="285.6" y2="505.6" stroke="#262626" stroke-width="0.8"/><line x1="288.8" y1="503.7" x2="291" y2="504.5" stroke="#262626" stroke-width="0.8"/><line x1="293.2" y1="502.8" x2="295.4" y2="503.6" stroke="#262626" stroke-width="0.8"/><line x1="296.9" y1="502.1" x2="299.1" y2="502.8" stroke="#262626" stroke-width="0.8"/><line x1="300.1" y1="501.4" x2="302.3" y2="502.2" stroke="#262626" stroke-width="0.8"/><line x1="303" y1="500.9" x2="305.1" y2="501.6" stroke="#262626" stroke-width="0.8"/><line x1="322.2" y1="497" x2="324.4" y2="497.8" stroke="#262626" stroke-width="0.8"/><line x1="332" y1="495" x2="334.1" y2="495.8" stroke="#262626" stroke-width="0.8"/><line x1="338.9" y1="493.6" x2="341.1" y2="494.4" stroke="#262626" stroke-width="0.8"/><line x1="344.3" y1="492.6" x2="346.5" y2="493.3" stroke="#262626" stroke-width="0.8"/><line x1="348.7" y1="491.7" x2="350.9" y2="492.4" stroke="#262626" stroke-width="0.8"/><line x1="352.4" y1="490.9" x2="354.6" y2="491.7" stroke="#262626" stroke-width="0.8"/><line x1="355.6" y1="490.3" x2="357.8" y2="491" stroke="#262626" stroke-width="0.8"/><line x1="358.5" y1="489.7" x2="360.6" y2="490.5" stroke="#262626" stroke-width="0.8"/><line x1="377.7" y1="485.8" x2="379.9" y2="486.6" stroke="#262626" stroke-width="0.8"/><line x1="387.5" y1="483.9" x2="389.6" y2="484.6" stroke="#262626" stroke-width="0.8"/><line x1="394.4" y1="482.5" x2="396.6" y2="483.3" stroke="#262626" stroke-width="0.8"/><line x1="399.8" y1="481.4" x2="402" y2="482.2" stroke="#262626" stroke-width="0.8"/><line x1="404.2" y1="480.5" x2="406.4" y2="481.3" stroke="#262626" stroke-width="0.8"/><line x1="407.9" y1="479.8" x2="410.1" y2="480.5" stroke="#262626" stroke-width="0.8"/><line x1="411.1" y1="479.1" x2="413.3" y2="479.9" stroke="#262626" stroke-width="0.8"/><line x1="414" y1="478.6" x2="416.1" y2="479.3" stroke="#262626" stroke-width="0.8"/><line x1="433.2" y1="474.7" x2="435.4" y2="475.5" stroke="#262626" stroke-width="0.8"/><line x1="443" y1="472.7" x2="445.1" y2="473.5" stroke="#262626" stroke-width="0.8"/><line x1="449.9" y1="471.3" x2="452.1" y2="472.1" stroke="#262626" stroke-width="0.8"/><line x1="455.3" y1="470.3" x2="457.5" y2="471" stroke="#262626" stroke-width="0.8"/><line x1="459.7" y1="469.4" x2="461.9" y2="470.1" stroke="#262626" stroke-width="0.8"/><line x1="463.4" y1="468.6" x2="465.6" y2="469.4" stroke="#262626" stroke-width="0.8"/><line x1="466.6" y1="468" x2="468.8" y2="468.7" stroke="#262626" stroke-width="0.8"/><line x1="469.5" y1="467.4" x2="471.6" y2="468.2" stroke="#262626" stroke-width="0.8"/><line x1="80" y1="451.5" x2="75.6" y2="452.4" stroke="#262626" stroke-width="0.8"/><line x1="122.5" y1="466.5" x2="118.1" y2="467.4" stroke="#262626" stroke-width="0.8"/><line x1="165" y1="481.5" x2="160.6" y2="482.4" stroke="#262626" stroke-width="0.8"/><line x1="207.5" y1="496.5" x2="203.1" y2="497.4" stroke="#262626" stroke-width="0.8"/><line x1="250" y1="511.5" x2="245.6" y2="512.4" stroke="#262626" stroke-width="0.8"/><line x1="80" y1="451.5" x2="75.8" y2="450" stroke="#262626" stroke-width="0.8"/><line x1="80" y1="419.6" x2="75.8" y2="418.2" stroke="#262626" stroke-width="0.8"/><line x1="80" y1="387.8" x2="75.8" y2="386.3" stroke="#262626" stroke-width="0.8"/><line x1="80" y1="355.9" x2="75.8" y2="354.5" stroke="#262626" stroke-width="0.8"/><line x1="80" y1="324.1" x2="75.8" y2="322.6" stroke="#262626" stroke-width="0.8"/><defs><linearGradient id="cb2" x1="0" y1="0" x2="0" y2="1"><stop offset="0.000%" stop-color="#fcfe00"/><stop offset="1.562%" stop-color="#fcfe00"/><stop offset="1.562%" stop-color="#faf600"/><stop offset="3.125%" stop-color="#faf600"/><stop offset="3.125%" stop-color="#f8ee01"/><stop offset="4.688%" stop-color="#f8ee01"/><stop offset="4.688%" stop-color="#f9e607"/><stop offset="6.250%" stop-color="#f9e607"/><stop offset="6.250%" stop-color="#fae00c"/><stop offset="7.812%" stop-color="#fae00c"/><stop offset="7.812%" stop-color="#fcda12"/><stop offset="9.375%" stop-color="#fcda12"/><stop offset="9.375%" stop-color="#ffd416"/><stop offset="10.938%" stop-color="#ffd416"/><stop offset="10.938%" stop-color="#ffce1b"/><stop offset="12.500%" stop-color="#ffce1b"/><stop offset="12.500%" stop-color="#ffc920"/><stop offset="14.062%" stop-color="#ffc920"/><stop offset="14.062%" stop-color="#ffc326"/><stop offset="15.625%" stop-color="#ffc326"/><stop offset="15.625%" stop-color="#ffbe2d"/><stop offset="17.188%" stop-color="#ffbe2d"/><stop offset="17.188%" stop-color="#ffba35"/><stop offset="18.750%" stop-color="#ffba35"/><stop offset="18.750%" stop-color="#f7b93c"/><stop offset="20.312%" stop-color="#f7b93c"/><stop offset="20.312%" stop-color="#efb941"/><stop offset="21.875%" stop-color="#efb941"/><stop offset="21.875%" stop-color="#e6b946"/><stop offset="23.438%" stop-color="#e6b946"/><stop offset="23.438%" stop-color="#ddba4a"/><stop offset="25.000%" stop-color="#ddba4a"/><stop offset="25.000%" stop-color="#d4bb4e"/><stop offset="26.562%" stop-color="#d4bb4e"/><stop offset="26.562%" stop-color="#cbbc52"/><stop offset="28.125%" stop-color="#cbbc52"/><stop offset="28.125%" stop-color="#c1bd56"/><stop offset="29.688%" stop-color="#c1bd56"/><stop offset="29.688%" stop-color="#b8be5a"/><stop offset="31.250%" stop-color="#b8be5a"/><stop offset="31.250%" stop-color="#aebf5e"/><stop offset="32.812%" stop-color="#aebf5e"/><stop offset="32.812%" stop-color="#a4c063"/><stop offset="34.375%" stop-color="#a4c063"/><stop offset="34.375%" stop-color="#9ac167"/><stop offset="35.938%" stop-color="#9ac167"/><stop offset="35.938%" stop-color="#8fc26c"/><stop offset="37.500%" stop-color="#8fc26c"/><stop offset="37.500%" stop-color="#83c271"/><stop offset="39.062%" stop-color="#83c271"/><stop offset="39.062%" stop-color="#78c277"/><stop offset="40.625%" stop-color="#78c277"/><stop offset="40.625%" stop-color="#6bc27d"/><stop offset="42.188%" stop-color="#6bc27d"/><stop offset="42.188%" stop-color="#5ec283"/><stop offset="43.750%" stop-color="#5ec283"/><stop offset="43.750%" stop-color="#51c28a"/><stop offset="45.312%" stop-color="#51c28a"/><stop offset="45.312%" stop-color="#44c191"/><stop offset="46.875%" stop-color="#44c191"/><stop offset="46.875%" stop-color="#38bf98"/><stop offset="48.438%" stop-color="#38bf98"/><stop offset="48.438%" stop-color="#2dbea0"/><stop offset="50.000%" stop-color="#2dbea0"/><stop offset="50.000%" stop-color="#23bca7"/><stop offset="51.562%" stop-color="#23bca7"/><stop offset="51.562%" stop-color="#19baad"/><stop offset="53.125%" stop-color="#19baad"/><stop offset="53.125%" stop-color="#10b8b4"/><stop offset="54.688%" stop-color="#10b8b4"/><stop offset="54.688%" stop-color="#08b6ba"/><stop offset="56.250%" stop-color="#08b6ba"/><stop offset="56.250%" stop-color="#01b4c0"/><stop offset="57.812%" stop-color="#01b4c0"/><stop offset="57.812%" stop-color="#00b2c5"/><stop offset="59.375%" stop-color="#00b2c5"/><stop offset="59.375%" stop-color="#00afca"/><stop offset="60.938%" stop-color="#00afca"/><stop offset="60.938%" stop-color="#00accf"/><stop offset="62.500%" stop-color="#00accf"/><stop offset="62.500%" stop-color="#00a9d3"/><stop offset="64.062%" stop-color="#00a9d3"/><stop offset="64.062%" stop-color="#00a5d7"/><stop offset="65.625%" stop-color="#00a5d7"/><stop offset="65.625%" stop-color="#00a1da"/><stop offset="67.188%" stop-color="#00a1da"/><stop offset="67.188%" stop-color="#009cdc"/><stop offset="68.750%" stop-color="#009cdc"/><stop offset="68.750%" stop-color="#0097dd"/><stop offset="70.312%" stop-color="#0097dd"/><stop offset="70.312%" stop-color="#0592de"/><stop offset="71.875%" stop-color="#0592de"/><stop offset="71.875%" stop-color="#088cdf"/><stop offset="73.438%" stop-color="#088cdf"/><stop offset="73.438%" stop-color="#0a88e0"/><stop offset="75.000%" stop-color="#0a88e0"/><stop offset="75.000%" stop-color="#0a83e3"/><stop offset="76.562%" stop-color="#0a83e3"/><stop offset="76.562%" stop-color="#087fe5"/><stop offset="78.125%" stop-color="#087fe5"/><stop offset="78.125%" stop-color="#067be8"/><stop offset="79.688%" stop-color="#067be8"/><stop offset="79.688%" stop-color="#0377eb"/><stop offset="81.250%" stop-color="#0377eb"/><stop offset="81.250%" stop-color="#0073ee"/><stop offset="82.812%" stop-color="#0073ee"/><stop offset="82.812%" stop-color="#006ff0"/><stop offset="84.375%" stop-color="#006ff0"/><stop offset="84.375%" stop-color="#006af2"/><stop offset="85.938%" stop-color="#006af2"/><stop offset="85.938%" stop-color="#0065f2"/><stop offset="87.500%" stop-color="#0065f2"/><stop offset="87.500%" stop-color="#075dee"/><stop offset="89.062%" stop-color="#075dee"/><stop offset="89.062%" stop-color="#1a53e3"/><stop offset="90.625%" stop-color="#1a53e3"/><stop offset="90.625%" stop-color="#274ad5"/><stop offset="92.188%" stop-color="#274ad5"/><stop offset="92.188%" stop-color="#2f42c7"/><stop offset="93.750%" stop-color="#2f42c7"/><stop offset="93.750%" stop-color="#363cb6"/><stop offset="95.312%" stop-color="#363cb6"/><stop offset="95.312%" stop-color="#3835ad"/><stop offset="96.875%" stop-color="#3835ad"/><stop offset="96.875%" stop-color="#392ea4"/><stop offset="98.438%" stop-color="#392ea4"/><stop offset="98.438%" stop-color="#39289d"/><stop offset="100.000%" stop-color="#39289d"/></linearGradient></defs><rect x="499.5" y="281.3" width="21.3" height="232" fill="url(#cb2)" stroke="#262626" stroke-width="0.9"/><line x1="518.3" y1="510.8" x2="520.8" y2="510.8" stroke="#262626" stroke-width="0.8"/><text x="525.4" y="515.2" font-size="12.3" fill="#262626">4</text><line x1="518.3" y1="469.2" x2="520.8" y2="469.2" stroke="#262626" stroke-width="0.8"/><text x="525.4" y="473.6" font-size="12.3" fill="#262626">6</text><line x1="518.3" y1="427.6" x2="520.8" y2="427.6" stroke="#262626" stroke-width="0.8"/><text x="525.4" y="432" font-size="12.3" fill="#262626">8</text><line x1="518.3" y1="386" x2="520.8" y2="386" stroke="#262626" stroke-width="0.8"/><text x="525.4" y="390.4" font-size="12.3" fill="#262626">10</text><line x1="518.3" y1="344.3" x2="520.8" y2="344.3" stroke="#262626" stroke-width="0.8"/><text x="525.4" y="348.7" font-size="12.3" fill="#262626">12</text><line x1="518.3" y1="302.7" x2="520.8" y2="302.7" stroke="#262626" stroke-width="0.8"/><text x="525.4" y="307.1" font-size="12.3" fill="#262626">14</text><text x="48.2" y="57.5" font-size="12.3" fill="#262626" text-anchor="start">10<tspan font-size="9.8" dy="-6">2</tspan></text><text x="48.2" y="149.1" font-size="12.3" fill="#262626" text-anchor="start">10<tspan font-size="9.8" dy="-6">1</tspan></text><text transform="translate(43.5,188.8) rotate(-90)" font-size="13.4" fill="#262626">ARMSE of position (m)</text><text x="11.3" y="130.3" font-family="'Liberation Serif', serif" font-weight="bold" font-size="16.5" fill="#000">(a)</text><text x="92" y="255.4" font-size="13.8" fill="#262626">Parameter <tspan font-style="italic">β</tspan></text><text x="175.1" y="251" font-size="12.3" fill="#262626" text-anchor="start">10<tspan font-size="9.8" dy="-6">0</tspan></text><text x="310.8" y="253.4" font-size="12.3" fill="#262626" text-anchor="start">10<tspan font-size="9.8" dy="-6">0</tspan></text><text x="350.1" y="256.7" font-size="13.8" fill="#262626">Parameter <tspan font-style="italic">α</tspan></text><text x="421.8" y="230.6" font-size="12.3" fill="#262626" text-anchor="start">10<tspan font-size="9.8" dy="-6">2</tspan></text><text x="69" y="454" font-size="12.3" fill="#262626" text-anchor="end">0</text><text x="69" y="422.1" font-size="12.3" fill="#262626" text-anchor="end">5</text><text x="69" y="390.3" font-size="12.3" fill="#262626" text-anchor="end">10</text><text x="69" y="358.4" font-size="12.3" fill="#262626" text-anchor="end">15</text><text x="69" y="326.6" font-size="12.3" fill="#262626" text-anchor="end">20</text><text transform="translate(48.9,462.8) rotate(-90)" font-size="13.5" fill="#262626">ARMSE of velocity (m/s)</text><text x="9" y="399.3" font-family="'Liberation Serif', serif" font-weight="bold" font-size="16.5" fill="#000">(b)</text><text x="91.6" y="535.8" font-size="13.8" fill="#262626">Parameter <tspan font-style="italic">β</tspan></text><text x="178" y="515.1" font-size="12.3" fill="#262626" text-anchor="start">10<tspan font-size="9.8" dy="-6">0</tspan></text><text x="315.9" y="519.6" font-size="12.3" fill="#262626" text-anchor="start">10<tspan font-size="9.8" dy="-6">0</tspan></text><text x="346.1" y="538.8" font-size="13.8" fill="#262626">Parameter <tspan font-style="italic">α</tspan></text><text x="427" y="496.7" font-size="12.3" fill="#262626" text-anchor="start">10<tspan font-size="9.8" dy="-6">2</tspan></text></svg>
</body></html>
